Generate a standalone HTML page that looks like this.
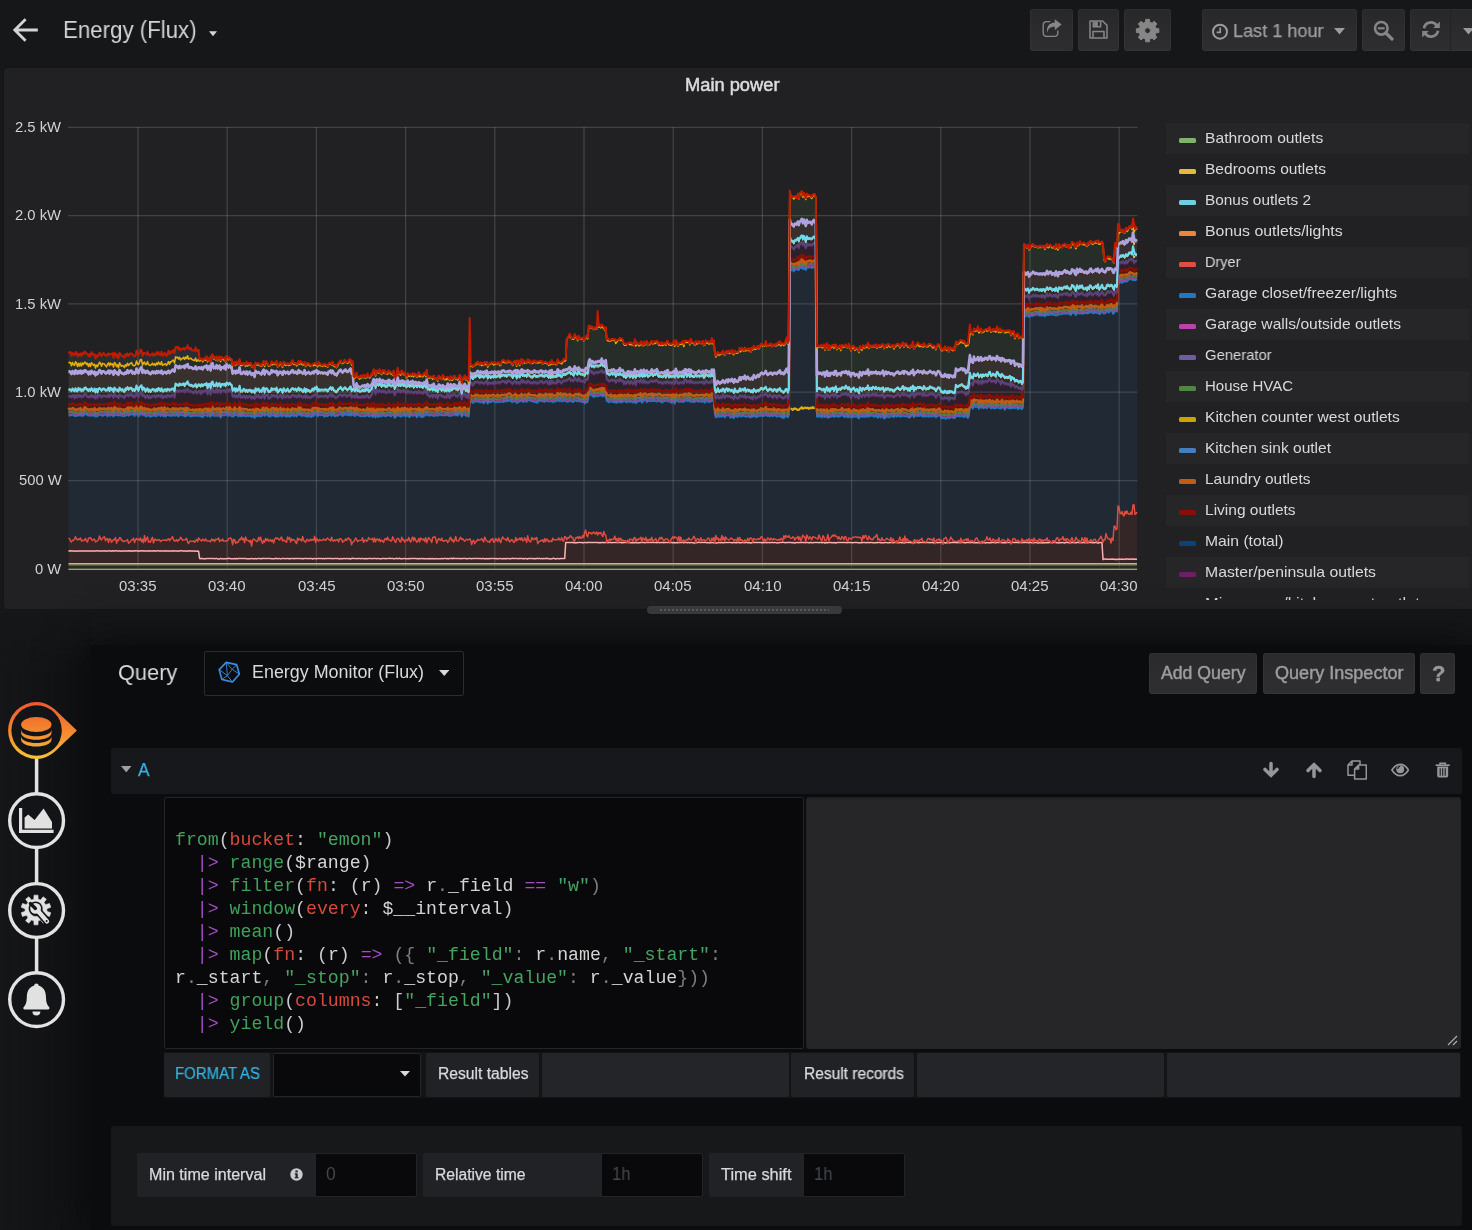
<!DOCTYPE html>
<html><head><meta charset="utf-8"><title>Energy (Flux) - Grafana</title>
<style>
html,body{margin:0;padding:0;background:#161719;}
body{width:1472px;height:1230px;position:relative;overflow:hidden;font-family:"Liberation Sans",sans-serif;}
.r{position:absolute;display:block;}
.t{position:absolute;white-space:nowrap;line-height:1;transform-origin:0 50%;display:block;will-change:transform;}
.m{font-family:"Liberation Mono",monospace;}
.code{position:absolute;white-space:pre;font-family:"Liberation Mono",monospace;font-size:18.2px;line-height:23px;color:#d4d4d4;margin:0;will-change:transform;}
.code .g{color:#3fa25c}.code .s{color:#46a462}.code .k{color:#d8493b}.code .p{color:#a44fc4}.code .d{color:#7b7e82}.code .l{color:#c9cbcd}
</style></head><body>
<svg class="r" style="left:12.00px;top:16.00px;" width="28.00" height="28.00" viewBox="0 0 28 28"><path d="M25.8,14H3.4M13.6,3.2L2.8,14L13.6,24.8" fill="none" stroke="#d3d4d5" stroke-width="2.8" stroke-linecap="butt" stroke-linejoin="miter"/></svg>
<span class="t" style="left:63.20px;top:17.68px;font-size:24.60px;color:#d3d4d5;transform:scaleX(0.9049);">Energy (Flux)</span>
<svg class="r" style="left:208.50px;top:30.80px;" width="8.00" height="6.00" viewBox="0 0 8 6"><path d="M0,0.3H8L4,5.2Z" fill="#d3d4d5"/></svg>
<div class="r" style="left:1030.0px;top:9.0px;width:43.0px;height:42.0px;background:#2a2a2d;background:linear-gradient(180deg,#28282b,#2e2e31);border-radius:3px;box-shadow:inset 0 0 0 1px rgba(255,255,255,.03);"></div>
<div class="r" style="left:1078.0px;top:9.0px;width:41.0px;height:42.0px;background:#2a2a2d;background:linear-gradient(180deg,#28282b,#2e2e31);border-radius:3px;box-shadow:inset 0 0 0 1px rgba(255,255,255,.03);"></div>
<div class="r" style="left:1124.0px;top:9.0px;width:47.0px;height:42.0px;background:#2a2a2d;background:linear-gradient(180deg,#28282b,#2e2e31);border-radius:3px;box-shadow:inset 0 0 0 1px rgba(255,255,255,.03);"></div>
<div class="r" style="left:1202.0px;top:9.0px;width:155.0px;height:42.0px;background:#2a2a2d;background:linear-gradient(180deg,#28282b,#2e2e31);border-radius:3px;box-shadow:inset 0 0 0 1px rgba(255,255,255,.03);"></div>
<div class="r" style="left:1362.0px;top:9.0px;width:43.0px;height:42.0px;background:#2a2a2d;background:linear-gradient(180deg,#28282b,#2e2e31);border-radius:3px;box-shadow:inset 0 0 0 1px rgba(255,255,255,.03);"></div>
<div class="r" style="left:1410.0px;top:9.0px;width:70.0px;height:42.0px;background:#2a2a2d;background:linear-gradient(180deg,#28282b,#2e2e31);border-radius:3px;box-shadow:inset 0 0 0 1px rgba(255,255,255,.03);"></div>
<div class="r" style="left:1450.0px;top:9.0px;width:1.0px;height:42.0px;background:#232326;"></div>
<svg class="r" style="left:1041.50px;top:18.50px;" width="20.00" height="19.00" viewBox="0 0 20 19"><path d="M8.2,2.6H4.6A3.4,3.4 0 0 0 1.2,6V14A3.4,3.4 0 0 0 4.6,17.4H12.4A3.4,3.4 0 0 0 15.8,14V11.6" fill="none" stroke="#868686" stroke-width="1.35"/><path d="M12.8,0.2L19.6,5.6L12.8,11V7.7C8.6,7.7 6.2,9.2 5.2,13.6C4.2,8 7,3.6 12.8,3.4Z" fill="#868686"/></svg>
<svg class="r" style="left:1089.00px;top:20.30px;" width="19.00" height="19.00" viewBox="0 0 19 19"><path d="M1,1H13.6L18,5.4V18H1Z" fill="none" stroke="#868686" stroke-width="1.5" stroke-linejoin="round"/><path d="M4.3,1.3V6.8H11.6V1.3M4,17.7V11.6H15V17.7" fill="none" stroke="#868686" stroke-width="1.5"/><rect x="5.2" y="1.6" width="3.6" height="4.6" fill="#868686"/></svg>
<svg class="r" style="left:1134.00px;top:17.00px;" width="27.00" height="27.00" viewBox="0 0 27 27"><path d="M22.04,11.50L24.85,11.73L24.85,15.47L22.04,15.70L21.05,18.09L22.88,20.23L20.23,22.88L18.09,21.05L15.70,22.04L15.47,24.85L11.73,24.85L11.50,22.04L9.11,21.05L6.97,22.88L4.32,20.23L6.15,18.09L5.16,15.70L2.35,15.47L2.35,11.73L5.16,11.50L6.15,9.11L4.32,6.97L6.97,4.32L9.11,6.15L11.50,5.16L11.73,2.35L15.47,2.35L15.70,5.16L18.09,6.15L20.23,4.32L22.88,6.97L21.05,9.11ZM10.70,13.60a2.90,2.90 0 1 0 5.80,0a2.90,2.90 0 1 0 -5.80,0Z" fill="#868686" fill-rule="evenodd" stroke="#868686" stroke-width="1" stroke-linejoin="round"/></svg>
<svg class="r" style="left:1211.00px;top:22.70px;" width="18.00" height="18.00" viewBox="0 0 18 18"><circle cx="9" cy="8.7" r="7" fill="none" stroke="#9b9b9b" stroke-width="2"/><path d="M9.2,4.6V9.4H5.6" fill="none" stroke="#9b9b9b" stroke-width="1.7"/></svg>
<span class="t" style="left:1232.60px;top:22.33px;font-size:18.75px;color:#9e9e9e;-webkit-text-stroke:0.25px #9e9e9e;transform:scaleX(0.9647);">Last 1 hour</span>
<svg class="r" style="left:1333.60px;top:28.40px;" width="11.00" height="6.40" viewBox="0 0 11 6.4"><path d="M0,0H11L5.5,6.4Z" fill="#9b9b9b"/></svg>
<svg class="r" style="left:1373.00px;top:20.00px;" width="21.00" height="21.00" viewBox="0 0 21 21"><circle cx="8.3" cy="8.3" r="6.3" fill="none" stroke="#868686" stroke-width="2.6"/><path d="M12.8,12.8L19,19" stroke="#868686" stroke-width="3.2" stroke-linecap="round"/><path d="M4.9,8.3H11.7" stroke="#868686" stroke-width="2.2"/></svg>
<svg class="r" style="left:1421.00px;top:20.00px;" width="20.00" height="19.00" viewBox="0 0 20 19"><path d="M3,8.2A7,7 0 0 1 15.6,5.4" fill="none" stroke="#868686" stroke-width="2.8"/><path d="M18.8,1.4V8H12.2Z" fill="#868686"/><path d="M17,10.8A7,7 0 0 1 4.4,13.6" fill="none" stroke="#868686" stroke-width="2.8"/><path d="M1.2,17.6V11H7.8Z" fill="#868686"/></svg>
<svg class="r" style="left:1463.20px;top:28.40px;" width="11.00" height="6.40" viewBox="0 0 11 6.4"><path d="M0,0H11L5.5,6.4Z" fill="#9b9b9b"/></svg>
<div class="r" style="left:3.3px;top:67.0px;width:1470.0px;height:542.6px;background:#141517;border-radius:4px 0 0 4px;"></div>
<div class="r" style="left:4.3px;top:68.0px;width:1470.0px;height:540.6px;background:#212124;border-radius:3px 0 0 3px;"></div>
<span class="t" style="left:684.80px;top:76.90px;font-size:17.60px;color:#dcdcdd;-webkit-text-stroke:0.5px #dcdcdd;transform:scaleX(1.0388);">Main power</span>
<svg class="r" style="left:0.00px;top:100.00px;" width="1160.00" height="480.00" viewBox="0 100 1160 480"><path d="M68,127.3H1137.5" stroke="#c8c8c8" stroke-opacity=".2" stroke-width="1.25"/><path d="M68,215.6H1137.5" stroke="#c8c8c8" stroke-opacity=".2" stroke-width="1.25"/><path d="M68,303.9H1137.5" stroke="#c8c8c8" stroke-opacity=".2" stroke-width="1.25"/><path d="M68,392.2H1137.5" stroke="#c8c8c8" stroke-opacity=".2" stroke-width="1.25"/><path d="M68,480.5H1137.5" stroke="#c8c8c8" stroke-opacity=".2" stroke-width="1.25"/><path d="M68,568.8H1137.5" stroke="#c8c8c8" stroke-opacity=".2" stroke-width="1.25"/><path d="M138.0,127V569" stroke="#c8c8c8" stroke-opacity=".2" stroke-width="1.25"/><path d="M227.2,127V569" stroke="#c8c8c8" stroke-opacity=".2" stroke-width="1.25"/><path d="M316.4,127V569" stroke="#c8c8c8" stroke-opacity=".2" stroke-width="1.25"/><path d="M405.6,127V569" stroke="#c8c8c8" stroke-opacity=".2" stroke-width="1.25"/><path d="M494.8,127V569" stroke="#c8c8c8" stroke-opacity=".2" stroke-width="1.25"/><path d="M584.0,127V569" stroke="#c8c8c8" stroke-opacity=".2" stroke-width="1.25"/><path d="M673.2,127V569" stroke="#c8c8c8" stroke-opacity=".2" stroke-width="1.25"/><path d="M762.4,127V569" stroke="#c8c8c8" stroke-opacity=".2" stroke-width="1.25"/><path d="M851.6,127V569" stroke="#c8c8c8" stroke-opacity=".2" stroke-width="1.25"/><path d="M940.8,127V569" stroke="#c8c8c8" stroke-opacity=".2" stroke-width="1.25"/><path d="M1030.0,127V569" stroke="#c8c8c8" stroke-opacity=".2" stroke-width="1.25"/><path d="M1119.2,127V569" stroke="#c8c8c8" stroke-opacity=".2" stroke-width="1.25"/><path d="M68.5,538.3l2,2.8l2-.8l2-1.1l2-.2l2-.1l2-.9l2,2.3l2-.2l2,1.1l2-2.9l2-.7l2,3l2-1.3l2,2.1l2-1.7l2-.9l2-.5l2-1.5l2,2l2,3.8l2-3.3l2,1.7l2-1.2l2,3.4l2-2.5l2-3l2,2.6l2,.7l2-.3l2,2.5l2-1.4l2-1.9l2,2.6l2-4.1l2,.7l2-1.2l2,1.5l2-3.8l2,3.2l2,3.4l2,0l2-4.9l2,2.4l2,.8l2-1l2,2.2l2-1.5l2,.1l2,.5l2-2.1l2,.2l2-2.3l2,4.4l2.1-1.4l2,.4l2-2.8l2,3.3l2-.7l2-1.5l2,5.1l2-2.5l2,.5l2,1l2-2.8l2-1.8l2,2.4l2-1.2l2,1.9l2-.3l2,.5l2,.7l2-1.4l2,1.2l2-2.1l2-1.5l2,2.3l2-1.2l2,2l2-.5l2-1.9l2-.9l2,6.9l2-5l2,2.2l2-.5l2-1.7l2,.1l2,2.9l2-2.7l2,.5l2-.2l2,0l2-.5l2,1.8l2-4.2l2-.3l2,6.4l2-1.3l2-1.5l2,.6l2-1.8l2,.3l2-.3l2-.7l2,.5l2-1.1l2,2.9l2-.7l2,1.9l2-3.1l2,2.7l2-1.7l2,.1l2,3.2l2-3.3l2-.5l2-3.3l2,4.8l2-1.5l2,1.6l2-2.2l2,.5l2-3.3l2,1.9l2,3l2-.9l2,0l2-.4l2-1l2,.5l2,1.6l2-.6l2-.6l2,0l2,2.3l2-3.3l2,3.5l2-1.3l2-.7l2-2.5l2,1.5l2,2.8l2-1.7l2-1.1l2,1.5l2-.4l2-2.6l2,2.7l2,1l2-3.9l2,1.7l2-1.1l2-.1l2,1l2,1.8l2,.8l2-.9l2-1.6l2,.8l2-.1l2.1,1.1l2-4.2l2,4.1l2-1.7l2-.5l2,3.4l2-2.1l2,2.2l2-2.4l2-2.4l2,4.8l2-5.2l2,.8l2,4.4l2-3.7l2-.5l2,1.9l2,1.6l2,1.2l2-5.1l2,2.4l2-2.5l2-1l2,6.7l2-4.7l2,1.9l2,.6l2,0l2-.8l2,1.2l2-4.2l2,2.4l2,1l2,.3l2,.1l2-3.7l2,1.4l2,2.6l2-2l2,.6l2,.6l2,.8l2,2.3l2-2.4l2-1l2-.4l2,.5l2-3.2l2,3.6l2,.7l2-1.9l2-1l2,3.2l2-1.9l2-1.7l2,4.7l2-5.9l2,2l2,1.9l2-1.2l2,1.1l2-.2l2,1.3l2-1l2-1.1l2,.2l2,.8l2-2.9l2,4.6l2-2.2l2,1.7l2-2.5l2-1.3l2-.7l2,4.2l2-1.2l2-.6l2-1.2l2,.5l2,2.8l2-1l2-2.7l2,1.4l2,.1l2-1.9l2,2.3l2,.7l2-4.2l2,3.1l2-1.4l2-2.6l2,1.6l2,3.8l2-3l2,.6l2-.7l2-2.4l2-3.4l2,3.3l2-3.2l2,.5l2,0l2,.7l2-1.6l2,.7l2,0l2.1,3.9l2-1.8l2,7.8l2-1.6l2-.3l2-1.3l2-3.2l2,2.4l2-.5l2,.2l2,1.9l2,.6l2,2.1l2,.3l2-3.7l2,1.8l2-3.8l2,1.7l2-.3l2-1.6l2,.6l2,2.5l2,1.5l2-1.3l2-.3l2,1.4l2-1.9l2,1.7l2-1.7l2-.6l2,.2l2,.4l2-.6l2,2.2l2-1.6l2-3l2,0l2,1.2l2-1.5l2,.7l2,4.8l2-.1l2-2.4l2-1.5l2,2l2-1.5l2-.8l2,1.7l2,.5l2-2l2,2.3l2,.6l2-.9l2-1.7l2,3.5l2-1.3l2,3.2l2-4.3l2,1.5l2-.2l2-.4l2,.9l2-2.2l2,1.2l2-1.9l2,1.4l2,0l2,1.7l2-.1l2-.7l2,.4l2-1l2,1.2l2,0l2-3l2,4.1l2-3l2,.4l2-.1l2-2l2,2l2-.6l2,1.3l2-1.2l2-.8l2,2l2-.7l2,.6l2-.8l2-.8l2,2.3l2-2.1l2-2l2-1l2,2.8l2-1.6l2,3.4l2-1.9l2,1.5l2,1.2l2-5.9l2,1.9l2-2.1l2,4.3l2-1.5l2-1l2,.6l2.1,1.1l2-3.4l2,4.4l2-3.7l2,5l2-1.8l2,2.2l2-3.4l2-2.8l2-.1l2,1.7l2,.2l2,2.9l2-2.3l2-.6l2,4.2l2-3l2,1.2l2-1.9l2-.1l2,.4l2,.2l2,.1l2-2.3l2,.2l2,3l2-2.6l2,3.5l2,.2l2-2.4l2-3l2,4.3l2,2.1l2-.4l2-.3l2-2l2,1.7l2-2.2l2,1.2l2,2.6l2-.7l2-.7l2,.6l2-2.2l2-2.4l2,2.8l2,2.5l2,.3l2,2.2l2-4.2l2,.6l2,1.6l2-2.3l2,2.4l2-.1l2-1.3l2-2l2,.6l2,1.8l2,2.8l2-4.1l2-.8l2,1l2,4.5l2-5.9l2,.9l2,1.7l2-3.9l2,3l2,1l2,.3l2-1.1l2-2.1l2,2.7l2-.7l2,.8l2,.1l2-.7l2,.9l2-1.2l2-2.2l2,4.1l2,1.7l2-2.5l2-.9l2-3.6l2,3.5l2,.9l2-2.1l2,3.2l2-2.3l2-2.2l2,4.6l2-2.7l2,1.6l2,1.1l2-2l2,3.8l2-5.1l2-.1l2,2l2,.1l2,1.2l2-.5l2-.4l2-1.9l2-.6l2.1,1.3l2,3.4l2-3.1l2,.1l2-1.3l2,2.8l2-.4l2-1.6l2-2.2l2,2.5l2,2.2l2-2.1l2,2.2l2-4.9l2,4l2-2.2l2-2.9l2,2.3l2-.4l2,2l2-.9l2,1l2-.4l2-.9l2,.8l2,1.9l2-2.3l2-2.2l2,.6l2,3.2l2-1.9l2,1.7l2-1.9l2,2.6l2-2.5l2-3.1l2,6l2-2.3l2-2.8l2,2l2,4l2-2.7l2-14.3l2,2.9l2-22.1l2,7l2,.9l2-3.6l2-.2l2,3l2-2.1l2-7l2,9.5l2-2.3L1137.0,563.5 L68.5,563.5 Z" fill="#E24D42" fill-opacity="0.1"/>
<path d="M68.5,415.3l2,0l2-.6l2,1.5l2,0l2-.6l2-1.5l2,1.6l2-1.7l2,.8l2,.9l2,.3l2-.1l2-1l2,1l2-1l2,.3l2,.7l2-1l2,.1l2-.3l2,1l2-.1l2-1.6l2,1.4l2,.4l2-1.6l2,1.6l2,.5l2-1l2,.5l2-.8l2-.5l2,1.7l2-2.2l2,2.4l2-2.7l2,1.8l2-1l2,1.9l2-.8l2,1.2l2-.9l2-1.9l2,2.1l2-2.2l2,2.2l2-.7l2-1.1l2,1.2l2-.1l2,0l2-.7l2,1.4l2.1-1.5l2,1.9l2-2.1l2,.9l2,1.2l2-.1l2-1.6l2,1.7l2-.6l2-.1l2-.3l2,.6l2,.2l2,1.1l2-2.2l2,.4l2-.4l2,1.7l2-2.2l2,1.3l2-.7l2,.5l2,1.8l2-2.5l2,.2l2-2l2,2.9l2-.9l2,.8l2-2l2,1l2,1.3l2,.1l2-.2l2-.5l2-.2l2,.7l2-.6l2,.9l2,1.5l2-1.5l2-.7l2,.2l2-1.5l2,1.5l2-1.3l2,1.8l2,.1l2-1.1l2,.7l2-1.5l2,1.6l2-2.4l2,1.6l2,.4l2,.9l2-.4l2,.1l2-1.8l2,.8l2,1l2-3l2,.4l2,1.9l2-.2l2,.2l2-.2l2,1.1l2-1.9l2-.9l2,0l2,.6l2,.6l2-.2l2,1.9l2-1l2-.6l2-.3l2-1l2,2.3l2-.8l2,.1l2-1.4l2,2l2-1.4l2-.6l2,.2l2-.8l2,1.3l2,1.3l2-2.4l2,2l2,.4l2-.1l2,.5l2-.8l2,.4l2-.9l2,1.9l2-1.2l2-1.1l2,2.3l2-1.1l2-1.1l2,1l2-.1l2-.8l2.1,1.5l2-1.5l2,2.9l2-1.9l2-.1l2,.8l2-1.3l2-1.4l2,1.8l2,.9l2-2.3l2,1.5l2-.7l2,2.1l2-2.8l2,2.3l2,.2l2-2.3l2-1l2,1.7l2-.7l2,1l2,.2l2-.8l2,.1l2-.5l2,.5l2,.1l2,0l2,.3l2,0l2,0l2-1.9l2,.8l2-.2l2,.1l2,.5l2-.3l2,1.1l2,1l2-15.1l2,1.3l2-.6l2-1l2-.2l2,.9l2-.8l2,1.1l2-.8l2-.4l2,1.1l2-1.7l2,1.2l2,.3l2,.1l2-.4l2-.4l2-.6l2,.8l2-.4l2-.2l2,1.1l2-.6l2,1.6l2-.7l2-1.1l2,.7l2-2l2,2.1l2-2l2,1.1l2,.5l2,.4l2,.7l2-2.1l2,.2l2,.7l2,.5l2-1.4l2,.8l2,.1l2,.6l2-.6l2-.2l2-.6l2-.6l2,1.3l2-.4l2,.7l2-.3l2-.2l2,.9l2-1.3l2,.4l2-.5l2,.5l2,.9l2,1.5l2-1.2l2-6.1l2-1.5l2,1l2-.2l2,.4l2-.1l2-.2l2.1,.7l2-.8l2,5.6l2,1.2l2-1.5l2,1.1l2-1.1l2,1.9l2-1l2,.9l2-.8l2-1l2,1.6l2-1.7l2,.6l2,1.2l2-1.7l2,.3l2-.4l2-1.1l2,2.5l2-2.2l2,2.2l2-1.1l2,.1l2,0l2-.1l2,.5l2-1.2l2,.5l2,1.1l2-1l2-.2l2,.9l2,.2l2-1.1l2,2.9l2-2.7l2,.5l2-.2l2,.2l2-1.8l2,1.4l2-.8l2,.5l2,1.2l2-.2l2-1.5l2,1.5l2-.5l2-.7l2,2.1l2-1.4l2,1l2-.5l2-.8l2,13.7l2,2.4l2-.2l2-.3l2-1.5l2,2.4l2-2l2-.1l2,2.4l2-1.2l2-.6l2,.9l2-1.3l2,1l2-1.4l2,.7l2,.4l2-.2l2,1.3l2-.6l2-.6l2,1.1l2-1.3l2-1.2l2,.7l2-.5l2,.8l2-.4l2,.2l2,.8l2-.9l2,1.3l2-.4l2,.1l2-.8l2,.1l2,.7l2-1.1l2-145.3l2-.2l2-.5l2,.3l2,.4l2-2l2,1l2,0l2-1.1l2-.5l2-.4l2,.4l2-.4l2.1,149.6l2,.2l2-1.5l2,1.1l2,.7l2-2l2,1.6l2-.2l2-1.6l2,1.2l2,.3l2,.3l2-.8l2-.3l2,1.5l2-1.1l2-.1l2,1.5l2-.2l2-.6l2-.1l2,1.9l2-2.4l2-.6l2,1.4l2-.2l2,.1l2-1.1l2,.2l2,.3l2,.6l2-.5l2,1.2l2-2l2,2.8l2-1.7l2,.8l2-1.2l2,.4l2-1l2,1.1l2-.4l2,.5l2-1l2,.6l2,0l2,.9l2-1.8l2-1.5l2,1.3l2,.9l2-.1l2-1.8l2,2.5l2-.2l2-.4l2,.6l2-.2l2,0l2-.6l2,.4l2-1.3l2,2.8l2,0l2,0l2-.2l2,.7l2-1l2,.1l2,.5l2-1.6l2-1.1l2,.5l2,.9l2-1.1l2-.1l2,.3l2-9.5l2,2.5l2-2.2l2,.3l2,1.9l2-3l2,.1l2,.9l2,1.4l2-1.9l2,2.1l2-1.4l2,1.1l2-2.3l2,2.5l2,.2l2-.8l2,2.1l2-2.3l2,.9l2,.3l2-.6l2,.1l2-1.3l2,1.6l2-.1l2-.8l2-91l2-.9l2,1.3l2.1-1.2l2,.1l2-1.1l2,.1l2-.4l2-.4l2,.3l2,1.9l2-1.9l2,.7l2-.7l2-.1l2,1l2,0l2-1.1l2,0l2-.3l2-.2l2-.7l2,1.1l2,1.1l2-2l2,.9l2-3l2,2.6l2,0l2,.2l2-.8l2,.4l2-.4l2-2.2l2,2.1l2-1l2,1l2,.7l2-1.9l2,1.3l2,0l2-1.5l2,1.1l2-2.2l2,3.3l2-2.8l2,.6l2-28l2-2.3l2,0l2,.2l2,0l2-2.2l2,.1l2,.7l2,.2l2-1.3L1137.0,512.1l-2,2.3l-2-9.5l-2,7l-2,2.1l-2-3l-2,.2l-2,3.6l-2-.9l-2-7l-2,22.1l-2-2.9l-2,14.3l-2,2.7l-2-4l-2-2l-2,2.8l-2,2.3l-2-6l-2,3.1l-2,2.5l-2-2.6l-2,1.9l-2-1.7l-2,1.9l-2-3.2l-2-.6l-2,2.2l-2,2.3l-2-1.9l-2-.8l-2,.9l-2,.4l-2-1l-2,.9l-2-2l-2,.4l-2-2.3l-2,2.9l-2,2.2l-2-4l-2,4.9l-2-2.2l-2,2.1l-2-2.2l-2-2.5l-2,2.2l-2,1.6l-2,.4l-2-2.8l-2,1.3l-2-.1l-2,3.1l-2-3.4l-2.1-1.3l-2,.6l-2,1.9l-2,.4l-2,.5l-2-1.2l-2-.1l-2-2l-2,.1l-2,5.1l-2-3.8l-2,2l-2-1.1l-2-1.6l-2,2.7l-2-4.6l-2,2.2l-2,2.3l-2-3.2l-2,2.1l-2-.9l-2-3.5l-2,3.6l-2,.9l-2,2.5l-2-1.7l-2-4.1l-2,2.2l-2,1.2l-2-.9l-2,.7l-2-.1l-2-.8l-2,.7l-2-2.7l-2,2.1l-2,1.1l-2-.3l-2-1l-2-3l-2,3.9l-2-1.7l-2-.9l-2,5.9l-2-4.5l-2-1l-2,.8l-2,4.1l-2-2.8l-2-1.8l-2-.6l-2,2l-2,1.3l-2,.1l-2-2.4l-2,2.3l-2-1.6l-2-.6l-2,4.2l-2-2.2l-2-.3l-2-2.5l-2-2.8l-2,2.4l-2,2.2l-2-.6l-2,.7l-2,.7l-2-2.6l-2-1.2l-2,2.2l-2-1.7l-2,2l-2,.3l-2,.4l-2-2.1l-2-4.3l-2,3l-2,2.4l-2-.2l-2-3.5l-2,2.6l-2-3l-2-.2l-2,2.3l-2-.1l-2-.2l-2-.4l-2,.1l-2,1.9l-2-1.2l-2,3l-2-4.2l-2,.6l-2,2.3l-2-2.9l-2-.2l-2-1.7l-2,.1l-2,2.8l-2,3.4l-2-2.2l-2,1.8l-2-5l-2,3.7l-2-4.4l-2,3.4l-2.1-1.1l-2-.6l-2,1l-2,1.5l-2-4.3l-2,2.1l-2-1.9l-2,5.9l-2-1.2l-2-1.5l-2,1.9l-2-3.4l-2,1.6l-2-2.8l-2,1l-2,2l-2,2.1l-2-2.3l-2,.8l-2,.8l-2-.6l-2,.7l-2-2l-2,.8l-2,1.2l-2-1.3l-2,.6l-2-2l-2,2l-2,.1l-2-.4l-2,3l-2-4.1l-2,3l-2,0l-2-1.2l-2,1l-2-.4l-2,.7l-2,.1l-2-1.7l-2,0l-2-1.4l-2,1.9l-2-1.2l-2,2.2l-2-.9l-2,.4l-2,.2l-2-1.5l-2,4.3l-2-3.2l-2,1.3l-2-3.5l-2,1.7l-2,.9l-2-.6l-2-2.3l-2,2l-2-.5l-2-1.7l-2,.8l-2,1.5l-2-2l-2,1.5l-2,2.4l-2,.1l-2-4.8l-2-.7l-2,1.5l-2-1.2l-2,0l-2,3l-2,1.6l-2-2.2l-2,.6l-2-.4l-2-.2l-2,.6l-2,1.7l-2-1.7l-2,1.9l-2-1.4l-2,.3l-2,1.3l-2-1.5l-2-2.5l-2-.6l-2,1.6l-2,.3l-2-1.7l-2,3.8l-2-1.8l-2,3.7l-2-.3l-2-2.1l-2-.6l-2-1.9l-2-.2l-2,.5l-2-2.4l-2,3.2l-2,1.3l-2,.3l-2,1.6l-2-7.8l-2,1.8l-2.1-3.9l-2,0l-2-.7l-2,1.6l-2-.7l-2,0l-2-.5l-2,3.2l-2-3.3l-2,3.4l-2,2.4l-2,.7l-2-.6l-2,3l-2-3.8l-2-1.6l-2,2.6l-2,1.4l-2-3.1l-2,4.2l-2-.7l-2-2.3l-2,1.9l-2-.1l-2-1.4l-2,2.7l-2,1l-2-2.8l-2-.5l-2,1.2l-2,.6l-2,1.2l-2-4.2l-2,.7l-2,1.3l-2,2.5l-2-1.7l-2,2.2l-2-4.6l-2,2.9l-2-.8l-2-.2l-2,1.1l-2,1l-2-1.3l-2,.2l-2-1.1l-2,1.2l-2-1.9l-2-2l-2,5.9l-2-4.7l-2,1.7l-2,1.9l-2-3.2l-2,1l-2,1.9l-2-.7l-2-3.6l-2,3.2l-2-.5l-2,.4l-2,1l-2,2.4l-2-2.3l-2-.8l-2-.6l-2-.6l-2,2l-2-2.6l-2-1.4l-2,3.7l-2-.1l-2-.3l-2-1l-2-2.4l-2,4.2l-2-1.2l-2,.8l-2,0l-2-.6l-2-1.9l-2,4.7l-2-6.7l-2,1l-2,2.5l-2-2.4l-2,5.1l-2-1.2l-2-1.6l-2-1.9l-2,.5l-2,3.7l-2-4.4l-2-.8l-2,5.2l-2-4.8l-2,2.4l-2,2.4l-2-2.2l-2,2.1l-2-3.4l-2,.5l-2,1.7l-2-4.1l-2,4.2l-2.1-1.1l-2,.1l-2-.8l-2,1.6l-2,.9l-2-.8l-2-1.8l-2-1l-2,.1l-2,1.1l-2-1.7l-2,3.9l-2-1l-2-2.7l-2,2.6l-2,.4l-2-1.5l-2,1.1l-2,1.7l-2-2.8l-2-1.5l-2,2.5l-2,.7l-2,1.3l-2-3.5l-2,3.3l-2-2.3l-2,0l-2,.6l-2,.6l-2-1.6l-2-.5l-2,1l-2,.4l-2,0l-2,.9l-2-3l-2-1.9l-2,3.3l-2-.5l-2,2.2l-2-1.6l-2,1.5l-2-4.8l-2,3.3l-2,.5l-2,3.3l-2-3.2l-2-.1l-2,1.7l-2-2.7l-2,3.1l-2-1.9l-2,.7l-2-2.9l-2,1.1l-2-.5l-2,.7l-2,.3l-2-.3l-2,1.8l-2-.6l-2,1.5l-2,1.3l-2-6.4l-2,.3l-2,4.2l-2-1.8l-2,.5l-2,0l-2,.2l-2-.5l-2,2.7l-2-2.9l-2-.1l-2,1.7l-2,.5l-2-2.2l-2,5l-2-6.9l-2,.9l-2,1.9l-2,.5l-2-2l-2,1.2l-2-2.3l-2,1.5l-2,2.1l-2-1.2l-2,1.4l-2-.7l-2-.5l-2,.3l-2-1.9l-2,1.2l-2-2.4l-2,1.8l-2,2.8l-2-1l-2-.5l-2,2.5l-2-5.1l-2,1.5l-2,.7l-2-3.3l-2,2.8l-2-.4l-2.1,1.4l-2-4.4l-2,2.3l-2-.2l-2,2.1l-2-.5l-2-.1l-2,1.5l-2-2.2l-2,1l-2-.8l-2-2.4l-2,4.9l-2,0l-2-3.4l-2-3.2l-2,3.8l-2-1.5l-2,1.2l-2-.7l-2,4.1l-2-2.6l-2,1.9l-2,1.4l-2-2.5l-2,.3l-2-.7l-2-2.6l-2,3l-2,2.5l-2-3.4l-2,1.2l-2-1.7l-2,3.3l-2-3.8l-2-2l-2,1.5l-2,.5l-2,.9l-2,1.7l-2-2.1l-2,1.3l-2-3l-2,.7l-2,2.9l-2-1.1l-2,.2l-2-2.3l-2,.9l-2,.1l-2,.2l-2,1.1l-2,.8l-2-2.8Z" fill="#1F78C1" fill-opacity="0.1"/>
<path d="M68.5,407.7l2,1.4l2-1.1l2,1.6l2,.8l2-1.7l2-.6l2,1.9l2-3l2,1.7l2,1.2l2-.3l2,.4l2-1.9l2,1.3l2-.1l2-.1l2,.1l2-.9l2,.4l2-.9l2,1.4l2,.1l2-2.8l2,2.3l2,1.2l2-1.3l2,1l2,1l2-2l2,1.1l2-1.4l2-.1l2,2.1l2-3.8l2,3.5l2-3.6l2,2.7l2-1.4l2,1.5l2,.3l2,1l2-1.1l2-1.3l2,.9l2-1.2l2,1.2l2,0l2-2l2,2.3l2-.6l2,.8l2-1.5l2,1.7l2.1-1.4l2,.9l2-1.1l2,.2l2,2.3l2-.9l2-.7l2,.7l2-.3l2,.2l2-.5l2,1l2-.2l2,1l2-2.3l2-.5l2,.2l2,2.4l2-3.6l2,1.8l2-.9l2,.4l2,3.2l2-3.4l2,.6l2-1.8l2,2.4l2-.9l2,1.1l2-2.7l2,2.1l2,.8l2-.1l2-.7l2,.1l2-.4l2,1.3l2-.5l2-.1l2,2.1l2-1.7l2-.8l2,1.1l2-2.5l2,3l2-3l2,2.9l2-.2l2-1.8l2,1.2l2-2l2,1.7l2-2l2,2.5l2-.9l2,1.1l2-.5l2,1.2l2-2.7l2,1.5l2,.6l2-3.1l2,.2l2,2l2-.1l2,.3l2-.2l2,1.1l2-2.6l2-.3l2-.1l2,.5l2,1.2l2-.2l2,.8l2-.5l2-.1l2-1.2l2-.9l2,3.1l2-.3l2-.8l2-1.1l2,1.5l2-1.6l2,.1l2,.1l2-1l2,1.5l2,1.3l2-2.4l2,2.1l2,0l2,.3l2,.5l2-.9l2,.1l2-1.1l2,2.8l2-2.3l2-.6l2,2.1l2-.7l2-1.1l2,.8l2,.1l2-1.5l2.1,1.8l2-.3l2,2.2l2-1.5l2-.5l2,.8l2-2l2-1.1l2,2.2l2,.5l2-2.5l2,1.5l2-.4l2,1.1l2-2l2,2.5l2,.6l2-2.8l2-1.2l2,2l2,.2l2-.3l2,.4l2-1.3l2,.6l2-.8l2,1.2l2-.1l2-.1l2,.6l2-.7l2,.6l2-1.9l2,.8l2,.1l2-.9l2,1.8l2-2l2,1.6l2,1.8l2-16l2,1.9l2-1.2l2,.1l2,0l2,.5l2-.3l2,.2l2-1.1l2,.1l2,.9l2-1.1l2,1.3l2-.3l2,.2l2-.6l2,0l2-.7l2,1.5l2-2.5l2,.7l2,1.8l2-1.3l2,2l2-1.2l2-.8l2,.8l2-1l2,1.5l2-2.6l2,1.5l2,.2l2-.2l2,1.6l2-2.4l2,.2l2,1.6l2-.2l2-1.4l2,.2l2,1.7l2-1.2l2,.5l2-.2l2-1l2-1.1l2,2.3l2-1.4l2,1.5l2-.6l2-.2l2,.7l2-1.1l2-.2l2-.6l2,1.1l2,1.6l2,.7l2-1.4l2-5.7l2-1.9l2,1.8l2-.1l2-.5l2-.1l2,.7l2.1,.3l2-1.3l2,6.2l2,.5l2-1.2l2,1.1l2-.5l2,2.3l2-1.1l2,0l2-.2l2-1.2l2,1.4l2-1l2,0l2,.9l2-1.6l2,.3l2-.3l2-1.2l2,2.8l2-2.3l2,1.7l2-1.2l2,.4l2,.9l2-.9l2,.2l2-1.1l2,.7l2,1.3l2-.9l2,.4l2,.4l2-1.1l2-.2l2,2.6l2-1.9l2,1.1l2-1.5l2-.1l2-.9l2,1.2l2-1.7l2,.9l2,1.2l2,.5l2-1l2,.8l2-.7l2-.1l2,1l2-1l2,1.1l2-.3l2-.7l2,13.7l2,2.2l2,0l2-.5l2-1.9l2,2.6l2-2l2-.1l2,2.3l2-.7l2-1.2l2,1.3l2-1.1l2,.2l2-.2l2-.8l2,1.2l2-.2l2,1.8l2-.3l2-.6l2,.8l2-1.5l2-1.7l2,1.6l2-.7l2,.4l2-.2l2-.1l2,.8l2-.2l2,1.2l2-1.3l2,.7l2-.8l2,.2l2,0l2-.9l2-145.6l2,.6l2-.2l2-.4l2,1.2l2-2.8l2,1.1l2-.4l2-1.4l2-.1l2,0l2,0l2-.7l2.1,151.1l2-1.1l2-.9l2,.8l2,1.5l2-2.4l2,1.6l2-1.4l2-.4l2,.3l2,1.2l2-.4l2,.2l2-1.2l2,1.4l2-1l2-.5l2,2.7l2-.5l2-1.4l2,.5l2,2.2l2-2.1l2-1.2l2,1.8l2-.1l2-.1l2-1.2l2-.5l2,1.4l2,.4l2-1l2,1l2-1.9l2,2.7l2-1.4l2,.7l2-1.2l2,1.2l2-1.1l2-.5l2,1.6l2,.5l2-2.6l2,.7l2,.6l2,.5l2-1.4l2-1.7l2,1.3l2,.9l2-.9l2-.5l2,2l2-.1l2-.6l2,1.1l2-1.4l2,.9l2-.9l2,.6l2-1.6l2,3.2l2,.4l2-1.4l2,.9l2,1l2-.9l2,.4l2-.3l2-1.4l2-.9l2-.4l2,1.3l2-1l2,0l2,.6l2-9.6l2,1.9l2-1.5l2-.4l2,2.4l2-3.2l2,1.1l2,.3l2,1.2l2-2.1l2,2.9l2-2.2l2,1l2-2.1l2,2.3l2,.6l2-1.1l2,1.9l2-2.1l2,1.6l2,.4l2-2l2,1.2l2-1.7l2,1.5l2,.4l2-1l2-91.8l2-.6l2,1.3l2.1-.6l2-.3l2-.9l2,.2l2-.8l2-.3l2,.6l2,2.4l2-3.4l2,.9l2-.2l2,.7l2,0l2-.1l2-1.1l2,.4l2,0l2-1.1l2,.2l2,1.3l2-.2l2-1.2l2,1.2l2-2.5l2,1l2,.8l2,.4l2-.6l2-.2l2-.2l2-1.8l2,1.1l2-.4l2,.8l2,1.2l2-2.5l2,2l2,.2l2-2.3l2,1.7l2-2.9l2,3l2-2.3l2,.1l2-27.4l2-2.6l2-.1l2,.7l2,.1l2-2.3l2-.2l2,.2l2,1.2l2-2.1L1137.0,279.1l-2,1.3l-2-.2l-2-.7l-2-.1l-2,2.2l-2,0l-2-.2l-2,0l-2,2.3l-2,28l-2-.6l-2,2.8l-2-3.3l-2,2.2l-2-1.1l-2,1.5l-2,0l-2-1.3l-2,1.9l-2-.7l-2-1l-2,1l-2-2.1l-2,2.2l-2,.4l-2-.4l-2,.8l-2-.2l-2,0l-2-2.6l-2,3l-2-.9l-2,2l-2-1.1l-2-1.1l-2,.7l-2,.2l-2,.3l-2,0l-2,1.1l-2,0l-2-1l-2,.1l-2,.7l-2-.7l-2,1.9l-2-1.9l-2-.3l-2,.4l-2,.4l-2-.1l-2,1.1l-2-.1l-2.1,1.2l-2-1.3l-2,.9l-2,91l-2,.8l-2,.1l-2-1.6l-2,1.3l-2-.1l-2,.6l-2-.3l-2-.9l-2,2.3l-2-2.1l-2,.8l-2-.2l-2-2.5l-2,2.3l-2-1.1l-2,1.4l-2-2.1l-2,1.9l-2-1.4l-2-.9l-2-.1l-2,3l-2-1.9l-2-.3l-2,2.2l-2-2.5l-2,9.5l-2-.3l-2,.1l-2,1.1l-2-.9l-2-.5l-2,1.1l-2,1.6l-2-.5l-2-.1l-2,1l-2-.7l-2,.2l-2,0l-2,0l-2-2.8l-2,1.3l-2-.4l-2,.6l-2,0l-2,.2l-2-.6l-2,.4l-2,.2l-2-2.5l-2,1.8l-2,.1l-2-.9l-2-1.3l-2,1.5l-2,1.8l-2-.9l-2,0l-2-.6l-2,1l-2-.5l-2,.4l-2-1.1l-2,1l-2-.4l-2,1.2l-2-.8l-2,1.7l-2-2.8l-2,2l-2-1.2l-2,.5l-2-.6l-2-.3l-2-.2l-2,1.1l-2-.1l-2,.2l-2-1.4l-2,.6l-2,2.4l-2-1.9l-2,.1l-2,.6l-2,.2l-2-1.5l-2,.1l-2,1.1l-2-1.5l-2,.3l-2,.8l-2-.3l-2-.3l-2-1.2l-2,1.6l-2,.2l-2-1.6l-2,2l-2-.7l-2-1.1l-2,1.5l-2-.2l-2.1-149.6l-2,.4l-2-.4l-2,.4l-2,.5l-2,1.1l-2,0l-2-1l-2,2l-2-.4l-2-.3l-2,.5l-2,.2l-2,145.3l-2,1.1l-2-.7l-2-.1l-2,.8l-2-.1l-2,.4l-2-1.3l-2,.9l-2-.8l-2-.2l-2,.4l-2-.8l-2,.5l-2-.7l-2,1.2l-2,1.3l-2-1.1l-2,.6l-2,.6l-2-1.3l-2,.2l-2-.4l-2-.7l-2,1.4l-2-1l-2,1.3l-2-.9l-2,.6l-2,1.2l-2-2.4l-2,.1l-2,2l-2-2.4l-2,1.5l-2,.3l-2,.2l-2-2.4l-2-13.7l-2,.8l-2,.5l-2-1l-2,1.4l-2-2.1l-2,.7l-2,.5l-2-1.5l-2,1.5l-2,.2l-2-1.2l-2-.5l-2,.8l-2-1.4l-2,1.8l-2-.2l-2,.2l-2-.5l-2,2.7l-2-2.9l-2,1.1l-2-.2l-2-.9l-2,.2l-2,1l-2-1.1l-2-.5l-2,1.2l-2-.5l-2,.1l-2,0l-2-.1l-2,1.1l-2-2.2l-2,2.2l-2-2.5l-2,1.1l-2,.4l-2-.3l-2,1.7l-2-1.2l-2-.6l-2,1.7l-2-1.6l-2,1l-2,.8l-2-.9l-2,1l-2-1.9l-2,1.1l-2-1.1l-2,1.5l-2-1.2l-2-5.6l-2,.8l-2.1-.7l-2,.2l-2,.1l-2-.4l-2,.2l-2-1l-2,1.5l-2,6.1l-2,1.2l-2-1.5l-2-.9l-2-.5l-2,.5l-2-.4l-2,1.3l-2-.9l-2,.2l-2,.3l-2-.7l-2,.4l-2-1.3l-2,.6l-2,.6l-2,.2l-2,.6l-2-.6l-2-.1l-2-.8l-2,1.4l-2-.5l-2-.7l-2-.2l-2,2.1l-2-.7l-2-.4l-2-.5l-2-1.1l-2,2l-2-2.1l-2,2l-2-.7l-2,1.1l-2,.7l-2-1.6l-2,.6l-2-1.1l-2,.2l-2,.4l-2-.8l-2,.6l-2,.4l-2,.4l-2-.1l-2-.3l-2-1.2l-2,1.7l-2-1.1l-2,.4l-2,.8l-2-1.1l-2,.8l-2-.9l-2,.2l-2,1l-2,.6l-2-1.3l-2,15.1l-2-1l-2-1.1l-2,.3l-2-.5l-2-.1l-2,.2l-2-.8l-2,1.9l-2,0l-2,0l-2-.3l-2,0l-2-.1l-2-.5l-2,.5l-2-.1l-2,.8l-2-.2l-2-1l-2,.7l-2-1.7l-2,1l-2,2.3l-2-.2l-2-2.3l-2,2.8l-2-2.1l-2,.7l-2-1.5l-2,2.3l-2-.9l-2-1.8l-2,1.4l-2,1.3l-2-.8l-2,.1l-2,1.9l-2-2.9l-2,1.5l-2.1-1.5l-2,.8l-2,.1l-2-1l-2,1.1l-2,1.1l-2-2.3l-2,1.1l-2,1.2l-2-1.9l-2,.9l-2-.4l-2,.8l-2-.5l-2,.1l-2-.4l-2-2l-2,2.4l-2-1.3l-2-1.3l-2,.8l-2-.2l-2,.6l-2,1.4l-2-2l-2,1.4l-2-.1l-2,.8l-2-2.3l-2,1l-2,.3l-2,.6l-2,1l-2-1.9l-2,.2l-2-.6l-2-.6l-2,0l-2,.9l-2,1.9l-2-1.1l-2,.2l-2-.2l-2,.2l-2-1.9l-2-.4l-2,3l-2-1l-2-.8l-2,1.8l-2-.1l-2,.4l-2-.9l-2-.4l-2-1.6l-2,2.4l-2-1.6l-2,1.5l-2-.7l-2,1.1l-2-.1l-2-1.8l-2,1.3l-2-1.5l-2,1.5l-2-.2l-2,.7l-2,1.5l-2-1.5l-2-.9l-2,.6l-2-.7l-2,.2l-2,.5l-2,.2l-2-.1l-2-1.3l-2-1l-2,2l-2-.8l-2,.9l-2-2.9l-2,2l-2-.2l-2,2.5l-2-1.8l-2-.5l-2,.7l-2-1.3l-2,2.2l-2-1.7l-2,.4l-2-.4l-2,2.2l-2-1.1l-2-.2l-2-.6l-2,.3l-2,.1l-2,.6l-2-1.7l-2,1.6l-2,.1l-2-1.2l-2-.9l-2,2.1l-2-1.9l-2.1,1.5l-2-1.4l-2,.7l-2,0l-2,.1l-2-1.2l-2,1.1l-2,.7l-2-2.2l-2,2.2l-2-2.1l-2,1.9l-2,.9l-2-1.2l-2,.8l-2-1.9l-2,1l-2-1.8l-2,2.7l-2-2.4l-2,2.2l-2-1.7l-2,.5l-2,.8l-2-.5l-2,1l-2-.5l-2-1.6l-2,1.6l-2-.4l-2-1.4l-2,1.6l-2,.1l-2-1l-2,.3l-2-.1l-2,1l-2-.7l-2-.3l-2,1l-2-1l-2,1l-2,.1l-2-.3l-2-.9l-2-.8l-2,1.7l-2-1.6l-2,1.5l-2,.6l-2,0l-2-1.5l-2,.6l-2,0Z" fill="#C15C17" fill-opacity="0.25"/>
<path d="M68.5,403.4l2,1l2-1.1l2,1.5l2,.7l2-1.7l2-.2l2,1.9l2-3.2l2,1.6l2,1.8l2-.8l2,.2l2-1l2,.2l2,0l2,.6l2-.4l2-.3l2,.2l2-1.2l2,.6l2,1.1l2-3.6l2,2.7l2,2.3l2-2.2l2,1.4l2,.6l2-2.1l2,.7l2-.6l2,.8l2,.8l2-3.6l2,3.4l2-3.5l2,3.1l2-1.2l2,0l2,1.5l2,.9l2-1.4l2-.6l2-.3l2-.5l2,1.2l2,.4l2-2.2l2,2.5l2-1.2l2,.7l2-1.6l2,2.4l2.1-1.5l2,1.3l2-1.1l2,.2l2,1l2-.7l2-.3l2,.5l2-.4l2,1.1l2-.2l2,.2l2,.6l2-.2l2-1.9l2-.7l2-.1l2,3.6l2-4.4l2,1.3l2-1.4l2,1.5l2,2.5l2-3l2,.5l2-2.2l2,3.2l2-.8l2,1.1l2-2.6l2,2.3l2,0l2,.1l2,.1l2-1l2,.1l2,1.4l2-.8l2-.4l2,2.7l2-1.5l2-1.9l2,1.4l2-2.2l2,3l2-2.7l2,3.4l2-.4l2-1.4l2-.2l2-1l2,.8l2-1.8l2,3.5l2-1.8l2,1.2l2,.1l2,.4l2-2.2l2,.8l2,1l2-3.2l2,.3l2,2.6l2-1.2l2,.7l2,.2l2,.6l2-2.1l2-1l2-.1l2,1l2,.8l2,.1l2,.9l2-.6l2,.2l2-1.9l2-.2l2,2.9l2-.5l2-1.1l2-1l2,2.3l2-1.8l2,.2l2-.5l2-.9l2,2.1l2,1.3l2-3.7l2,3.1l2-.2l2-.2l2,.1l2-.6l2,.8l2-1.3l2,3.1l2-2.8l2,.3l2,1.5l2-.5l2-1.6l2,.9l2,.8l2-2.6l2.1,2.3l2,.2l2,1.8l2-1.4l2-.5l2,0l2-1.1l2-.9l2,1.8l2,.4l2-1.8l2,1l2,0l2,.5l2-2.1l2,2.3l2,.8l2-2.7l2-1.9l2,2.2l2,.9l2,.6l2-.8l2-.5l2,0l2-.8l2,1.4l2,.4l2-.7l2,.3l2-.4l2,.8l2-2.3l2,.4l2,.6l2-.8l2,1l2-2.2l2,1.7l2,3.1l2-16.5l2,2.2l2-1.9l2,.2l2-.1l2-.1l2,.6l2,.3l2-1.5l2,1l2,.4l2-.8l2,.9l2-.4l2,.5l2-.7l2-.5l2,.3l2,1.2l2-2.6l2,.7l2,1.7l2-1.6l2,2.2l2-.4l2-1.8l2,1.4l2-1.4l2,1.6l2-1.9l2,.8l2,1.2l2-1.1l2,.9l2-2.2l2,.3l2,2l2-.7l2-1.4l2,1.5l2,1.2l2-1.5l2,.9l2-.4l2-1.2l2-.4l2,1.1l2-1.5l2,1.8l2-1.2l2,1.4l2,.8l2-2.6l2,.9l2-1.5l2,2.2l2,.8l2,.9l2-1.8l2-4.9l2-2.4l2,1.7l2,.8l2-1l2-.5l2,.1l2.1,1.2l2-1.5l2,6l2,.6l2-.5l2,.3l2-.6l2,2.3l2-.6l2-.2l2-.2l2-1.8l2,2l2-1.2l2-.6l2,1.6l2-1.9l2,.4l2,.1l2-1l2,2.3l2-1.6l2,1.2l2-.9l2-.4l2,1.2l2-1l2,.1l2-.3l2,.7l2,.7l2-.3l2-.7l2,1.5l2-1.3l2-.4l2,3.1l2-2.2l2,1.2l2-1l2-1.2l2-.2l2,1.7l2-2.1l2-.5l2,1.7l2,1l2-.5l2,.2l2-1l2,.4l2,1.5l2-1.8l2,1.6l2-1l2,.2l2,12.6l2,3l2-.2l2-.9l2-2.1l2,3.1l2-2.1l2-.3l2,2.4l2-.7l2-1.6l2,1.9l2-1.6l2,.9l2-.3l2-1.4l2,1.9l2-.6l2,2.3l2-.3l2-1.3l2,1.3l2-1.7l2-1.2l2,.7l2-.3l2,0l2,.7l2-1l2,1.5l2-.3l2,1.1l2-1.1l2,.6l2,0l2-.7l2-.4l2-1l2-145l2,.6l2,.5l2-1.4l2,.9l2-3l2,1.2l2,.2l2-.8l2-.5l2,.1l2,.1l2-.9l2.1,151.4l2-1.9l2-.6l2,1.2l2,1.5l2-3.1l2,1.8l2-1.6l2-.5l2,.5l2,2.5l2-1.2l2,.1l2-1.5l2,1.5l2-1.4l2-.7l2,3.9l2-1.5l2-.6l2,0l2,2.9l2-2.5l2-1.5l2,2.4l2-.9l2,.7l2-1.4l2-.9l2,1.4l2,.1l2-.2l2,.5l2-1.7l2,3.4l2-1.8l2-.2l2-.4l2,.9l2-1.1l2-.4l2,1.3l2,.5l2-2.8l2,1.2l2,.9l2-.8l2-.6l2-1.3l2,1.2l2,.6l2-.9l2-.3l2,3.2l2-1.4l2,.1l2,.2l2-1.8l2,1.5l2-.7l2,.8l2-2.1l2,3.1l2,.5l2-1.6l2,1.7l2,.3l2-.6l2,.1l2-.1l2-1.5l2-.4l2-.5l2,1.1l2,.3l2-1.4l2,.6l2-9.3l2,1.9l2-1.7l2,0l2,1.9l2-3.2l2,1l2,1l2,.5l2-2.5l2,2.8l2-1.2l2,.6l2-2l2,2.5l2,.7l2-1.5l2,1.9l2-2l2,1.9l2,.5l2-2.6l2,1.4l2-1.9l2,2.2l2-.5l2-.4l2-92.2l2-.4l2,1.2l2.1-1.1l2-.7l2,.8l2-.4l2-1.2l2,.6l2,0l2,2.4l2-4l2,1.7l2,0l2,.4l2,.1l2-.2l2-1.7l2-.1l2,.7l2-.9l2-.5l2,2.3l2,0l2-2.4l2,1.9l2-2.6l2,1.8l2-.5l2,.9l2-.4l2,0l2-.1l2-2l2,1.2l2-.9l2,1.3l2,.9l2-2.8l2,2.3l2,.4l2-2.2l2,.9l2-2.7l2,2.9l2-2.6l2,1.3l2-28.1l2-2.5l2-.2l2,1.5l2-.3l2-2.6l2,0l2-.2l2,1.3l2-1.6L1137.0,272.3l-2,2.1l-2-1.2l-2-.2l-2,.2l-2,2.3l-2-.1l-2-.7l-2,.1l-2,2.6l-2,27.4l-2-.1l-2,2.3l-2-3l-2,2.9l-2-1.7l-2,2.3l-2-.2l-2-2l-2,2.5l-2-1.2l-2-.8l-2,.4l-2-1.1l-2,1.8l-2,.2l-2,.2l-2,.6l-2-.4l-2-.8l-2-1l-2,2.5l-2-1.2l-2,1.2l-2,.2l-2-1.3l-2-.2l-2,1.1l-2,0l-2-.4l-2,1.1l-2,.1l-2,0l-2-.7l-2,.2l-2-.9l-2,3.4l-2-2.4l-2-.6l-2,.3l-2,.8l-2-.2l-2,.9l-2,.3l-2.1,.6l-2-1.3l-2,.6l-2,91.8l-2,1l-2-.4l-2-1.5l-2,1.7l-2-1.2l-2,2l-2-.4l-2-1.6l-2,2.1l-2-1.9l-2,1.1l-2-.6l-2-2.3l-2,2.1l-2-1l-2,2.2l-2-2.9l-2,2.1l-2-1.2l-2-.3l-2-1.1l-2,3.2l-2-2.4l-2,.4l-2,1.5l-2-1.9l-2,9.6l-2-.6l-2,0l-2,1l-2-1.3l-2,.4l-2,.9l-2,1.4l-2,.3l-2-.4l-2,.9l-2-1l-2-.9l-2,1.4l-2-.4l-2-3.2l-2,1.6l-2-.6l-2,.9l-2-.9l-2,1.4l-2-1.1l-2,.6l-2,.1l-2-2l-2,.5l-2,.9l-2-.9l-2-1.3l-2,1.7l-2,1.4l-2-.5l-2-.6l-2-.7l-2,2.6l-2-.5l-2-1.6l-2,.5l-2,1.1l-2-1.2l-2,1.2l-2-.7l-2,1.4l-2-2.7l-2,1.9l-2-1l-2,1l-2-.4l-2-1.4l-2,.5l-2,1.2l-2,.1l-2,.1l-2-1.8l-2,1.2l-2,2.1l-2-2.2l-2-.5l-2,1.4l-2,.5l-2-2.7l-2,.5l-2,1l-2-1.4l-2,1.2l-2-.2l-2,.4l-2-1.2l-2-.3l-2,.4l-2,1.4l-2-1.6l-2,2.4l-2-1.5l-2-.8l-2,.9l-2,1.1l-2.1-151.1l-2,.7l-2,0l-2,0l-2,.1l-2,1.4l-2,.4l-2-1.1l-2,2.8l-2-1.2l-2,.4l-2,.2l-2-.6l-2,145.6l-2,.9l-2,0l-2-.2l-2,.8l-2-.7l-2,1.3l-2-1.2l-2,.2l-2-.8l-2,.1l-2,.2l-2-.4l-2,.7l-2-1.6l-2,1.7l-2,1.5l-2-.8l-2,.6l-2,.3l-2-1.8l-2,.2l-2-1.2l-2,.8l-2,.2l-2-.2l-2,1.1l-2-1.3l-2,1.2l-2,.7l-2-2.3l-2,.1l-2,2l-2-2.6l-2,1.9l-2,.5l-2,0l-2-2.2l-2-13.7l-2,.7l-2,.3l-2-1.1l-2,1l-2-1l-2,.1l-2,.7l-2-.8l-2,1l-2-.5l-2-1.2l-2-.9l-2,1.7l-2-1.2l-2,.9l-2,.1l-2,1.5l-2-1.1l-2,1.9l-2-2.6l-2,.2l-2,1.1l-2-.4l-2-.4l-2,.9l-2-1.3l-2-.7l-2,1.1l-2-.2l-2,.9l-2-.9l-2-.4l-2,1.2l-2-1.7l-2,2.3l-2-2.8l-2,1.2l-2,.3l-2-.3l-2,1.6l-2-.9l-2,0l-2,1l-2-1.4l-2,1.2l-2,.2l-2,0l-2,1.1l-2-2.3l-2,.5l-2-1.1l-2,1.2l-2-.5l-2-6.2l-2,1.3l-2.1-.3l-2-.7l-2,.1l-2,.5l-2,.1l-2-1.8l-2,1.9l-2,5.7l-2,1.4l-2-.7l-2-1.6l-2-1.1l-2,.6l-2,.2l-2,1.1l-2-.7l-2,.2l-2,.6l-2-1.5l-2,1.4l-2-2.3l-2,1.1l-2,1l-2,.2l-2-.5l-2,1.2l-2-1.7l-2-.2l-2,1.4l-2,.2l-2-1.6l-2-.2l-2,2.4l-2-1.6l-2,.2l-2-.2l-2-1.5l-2,2.6l-2-1.5l-2,1l-2-.8l-2,.8l-2,1.2l-2-2l-2,1.3l-2-1.8l-2-.7l-2,2.5l-2-1.5l-2,.7l-2,0l-2,.6l-2-.2l-2,.3l-2-1.3l-2,1.1l-2-.9l-2-.1l-2,1.1l-2-.2l-2,.3l-2-.5l-2,0l-2-.1l-2,1.2l-2-1.9l-2,16l-2-1.8l-2-1.6l-2,2l-2-1.8l-2,.9l-2-.1l-2-.8l-2,1.9l-2-.6l-2,.7l-2-.6l-2,.1l-2,.1l-2-1.2l-2,.8l-2-.6l-2,1.3l-2-.4l-2,.3l-2-.2l-2-2l-2,1.2l-2,2.8l-2-.6l-2-2.5l-2,2l-2-1.1l-2,.4l-2-1.5l-2,2.5l-2-.5l-2-2.2l-2,1.1l-2,2l-2-.8l-2,.5l-2,1.5l-2-2.2l-2,.3l-2.1-1.8l-2,1.5l-2-.1l-2-.8l-2,1.1l-2,.7l-2-2.1l-2,.6l-2,2.3l-2-2.8l-2,1.1l-2-.1l-2,.9l-2-.5l-2-.3l-2,0l-2-2.1l-2,2.4l-2-1.3l-2-1.5l-2,1l-2-.1l-2-.1l-2,1.6l-2-1.5l-2,1.1l-2,.8l-2,.3l-2-3.1l-2,.9l-2,1.2l-2,.1l-2,.5l-2-.8l-2,.2l-2-1.2l-2-.5l-2,.1l-2,.3l-2,2.6l-2-1.1l-2,.2l-2-.3l-2,.1l-2-2l-2-.2l-2,3.1l-2-.6l-2-1.5l-2,2.7l-2-1.2l-2,.5l-2-1.1l-2,.9l-2-2.5l-2,2l-2-1.7l-2,2l-2-1.2l-2,1.8l-2,.2l-2-2.9l-2,3l-2-3l-2,2.5l-2-1.1l-2,.8l-2,1.7l-2-2.1l-2,.1l-2,.5l-2-1.3l-2,.4l-2-.1l-2,.7l-2,.1l-2-.8l-2-2.1l-2,2.7l-2-1.1l-2,.9l-2-2.4l-2,1.8l-2-.6l-2,3.4l-2-3.2l-2-.4l-2,.9l-2-1.8l-2,3.6l-2-2.4l-2-.2l-2,.5l-2,2.3l-2-1l-2,.2l-2-1l-2,.5l-2-.2l-2,.3l-2-.7l-2,.7l-2,.9l-2-2.3l-2-.2l-2,1.1l-2-.9l-2.1,1.4l-2-1.7l-2,1.5l-2-.8l-2,.6l-2-2.3l-2,2l-2,0l-2-1.2l-2,1.2l-2-.9l-2,1.3l-2,1.1l-2-1l-2-.3l-2-1.5l-2,1.4l-2-2.7l-2,3.6l-2-3.5l-2,3.8l-2-2.1l-2,.1l-2,1.4l-2-1.1l-2,2l-2-1l-2-1l-2,1.3l-2-1.2l-2-2.3l-2,2.8l-2-.1l-2-1.4l-2,.9l-2-.4l-2,.9l-2-.1l-2,.1l-2,.1l-2-1.3l-2,1.9l-2-.4l-2,.3l-2-1.2l-2-1.7l-2,3l-2-1.9l-2,.6l-2,1.7l-2-.8l-2-1.6l-2,1.1l-2-1.4Z" fill="#890F02" fill-opacity="0.3"/>
<path d="M68.5,395.4l2,.7l2-.9l2,2.8l2-.9l2-2.5l2,.7l2,.5l2-2.1l2,1.6l2,1.7l2-.2l2-.3l2-1.3l2,0l2-.4l2,1.2l2-.1l2-.2l2,.6l2-2l2,.3l2,.7l2-1.8l2,2.8l2,1.6l2-2.2l2,.3l2,1.7l2-2.3l2,.5l2-1.1l2,1.5l2,.7l2-4.6l2,4.3l2-4.2l2,3.5l2-.4l2,.1l2,2l2,0l2-1.8l2-.3l2-.2l2-.4l2,1.4l2,1.2l2-1.8l2,1.4l2-1.7l2,.1l2-.9l2,2.7l2.1-6.2l2,.5l2-.8l2,.1l2,1l2-1.7l2,.5l2,.5l2,.9l2-.3l2,1.1l2-1.7l2,2.4l2-1.2l2-1.7l2-1.7l2,1.1l2,4.1l2-5.8l2,2.4l2-2.3l2,1.7l2,2.4l2-2.4l2-.1l2-.6l2,1.7l2-1.1l2,5.9l2-1l2,.3l2,.9l2,1.2l2-.4l2-.7l2-.4l2,1l2-.6l2,.3l2,1.9l2-1.6l2-2l2,1.8l2-2l2,3.5l2-3.2l2,3.2l2-1l2-1.3l2-.2l2-.8l2,2.1l2-2.4l2,3.3l2-1.8l2,.4l2,.4l2,.3l2-2.2l2,1.1l2,.8l2-2.7l2,1l2,2.2l2-2l2,.1l2,1.1l2,.7l2-1.9l2-.9l2-1.4l2,2.5l2,.1l2,.2l2,.6l2-.8l2,.4l2-2.3l2,.7l2,2.2l2,.8l2-2.3l2-1.1l2,1.8l2-1.3l2,1.8l2-1l2-2.2l2,2.9l2,.9l2-3.7l2,3.5l2-.2l2-1l2,.5l2-1.1l2,2.2l2-1.5l2-3.5l2-2.7l2,.1l2,2.2l2-.6l2-.8l2,.3l2,1.4l2-2.5l2.1,2.3l2-.3l2,3.2l2-3.2l2,0l2,.5l2-1.9l2-.2l2,2.9l2-1.4l2-.2l2,.8l2-.3l2,1l2-2.2l2,1.6l2,1.1l2-3.1l2-1.3l2,5.9l2,.9l2,1.3l2-1.5l2-1l2,.4l2-.5l2,1.4l2,1.3l2,.1l2-.9l2-2.2l2,1.1l2-1.3l2,1.3l2-.7l2,.2l2,.7l2-2.1l2,1.1l2,3.3l2-15l2,2.2l2-3.2l2,.1l2,.4l2-.3l2,.6l2,.1l2-1.9l2,1.8l2,.8l2-1l2-1.2l2,1.4l2-.8l2,.3l2-1.2l2,1.5l2,.6l2-2.5l2,1.3l2,2l2-2.5l2,2.2l2-1l2-.8l2,.7l2-.2l2,.7l2-1.6l2,1.2l2,.8l2-1.4l2,.4l2,.1l2-1.5l2,2l2-.4l2-1.4l2,2.9l2-.2l2-.9l2,.1l2,.2l2-1.8l2,.9l2-.9l2-.7l2-.2l2-1.6l2,1.7l2-.1l2-3l2,2.6l2-2.1l2,3.2l2,.1l2,1.1l2-3.3l2-5.9l2-2.5l2,1.2l2,1.2l2-.6l2-.2l2-1l2.1,1.2l2-.3l2,6.9l2,1.8l2-1l2,.5l2-.6l2,.9l2,.3l2-.1l2-.7l2,1.3l2,1.2l2-.8l2-.9l2,2.6l2-3.7l2,.9l2,0l2-1.5l2,3.1l2,.3l2-.7l2,.3l2-1.5l2,.9l2-1.3l2-.4l2,2.6l2-.6l2,1.5l2-1.7l2-.1l2,1.2l2-.7l2-.2l2,1.6l2-2l2,1.8l2-1.1l2-.5l2-1.9l2,2.4l2-1.4l2-.7l2,1.9l2,.5l2-.1l2-.2l2-.4l2-.5l2,1.9l2-1.6l2,1.2l2-.5l2-.4l2,12.8l2,2.7l2,.2l2-1.3l2-2.5l2,3.9l2-2.6l2,.7l2,1.4l2,.2l2-2.4l2,2.6l2,0l2-1.1l2-.9l2-.7l2,1.5l2,.7l2,1l2,.8l2-2.5l2,1.4l2-1.5l2-1.6l2,.8l2-1.2l2,.8l2,1.2l2-.7l2,2l2-1.7l2,1.9l2-1.6l2,.3l2,1.3l2-1.1l2-1.4l2,0l2-149.4l2,1.7l2,.1l2-1.9l2,1.9l2-5l2,2.1l2,.3l2-2l2,1.1l2,.2l2-.7l2-.6l2.1,153.9l2-2.2l2,.1l2,.7l2,2.7l2-4.7l2,1.3l2-.2l2-.8l2,.4l2,3l2-1.5l2-.7l2-1.3l2,.6l2-.4l2-.5l2,4.2l2-3.1l2,2.2l2-1.5l2,2.7l2-2.2l2-1.6l2,2.1l2-1.1l2,1.2l2-1.8l2-1.3l2,2.2l2-.3l2-.3l2,.1l2-2l2,4.1l2-1.7l2,0l2,.1l2,.7l2-.5l2-.9l2-.2l2,.7l2-2.8l2,1.5l2,1.4l2-.7l2-.8l2-1.9l2,1.9l2-.4l2,.5l2-.5l2,2.3l2-1.5l2,.8l2-.4l2-.8l2,.6l2,.3l2,.7l2-2.2l2,4.7l2,.3l2-1.6l2,1.3l2,2l2-1.9l2-.2l2,.5l2-6l2-.3l2-.4l2,.3l2,.8l2-.7l2,.3l2-9.5l2,2.3l2-3.5l2,.4l2,1.6l2-2.9l2-.3l2,.8l2,.7l2-2.9l2,2.3l2-.9l2,.1l2-2.4l2,3.1l2,2.7l2-1.7l2,1.5l2-.5l2,1.1l2,1.9l2-1.6l2,2.3l2-1.1l2,2.3l2-.7l2,1l2-93.1l2,.4l2,2.5l2.1-2l2-1.6l2,1.5l2-.5l2,0l2-.5l2-.2l2,2.6l2-4.2l2,2l2-.3l2,.5l2,.6l2,.3l2-2.3l2-.3l2,0l2-.6l2-.7l2,2.6l2-.2l2-3.1l2,3.9l2-4.5l2,3.2l2-.7l2,.5l2,.6l2,.8l2-1.2l2-2l2,1.9l2-1.4l2,1.3l2,1.1l2-2.5l2,.3l2,1.7l2-3l2,.4l2-1.4l2,2.8l2-2.4l2,.8l2-28l2-2.1l2-.8l2,1.8l2-.2l2-3.3l2-.9l2,.4l2,2.2l2-.5L1137.0,268.0l-2,1.6l-2-1.3l-2,.2l-2,0l-2,2.6l-2,.3l-2-1.5l-2,.2l-2,2.5l-2,28.1l-2-1.3l-2,2.6l-2-2.9l-2,2.7l-2-.9l-2,2.2l-2-.4l-2-2.3l-2,2.8l-2-.9l-2-1.3l-2,.9l-2-1.2l-2,2l-2,.1l-2,0l-2,.4l-2-.9l-2,.5l-2-1.8l-2,2.6l-2-1.9l-2,2.4l-2,0l-2-2.3l-2,.5l-2,.9l-2-.7l-2,.1l-2,1.7l-2,.2l-2-.1l-2-.4l-2,0l-2-1.7l-2,4l-2-2.4l-2,0l-2-.6l-2,1.2l-2,.4l-2-.8l-2,.7l-2.1,1.1l-2-1.2l-2,.4l-2,92.2l-2,.4l-2,.5l-2-2.2l-2,1.9l-2-1.4l-2,2.6l-2-.5l-2-1.9l-2,2l-2-1.9l-2,1.5l-2-.7l-2-2.5l-2,2l-2-.6l-2,1.2l-2-2.8l-2,2.5l-2-.5l-2-1l-2-1l-2,3.2l-2-1.9l-2,0l-2,1.7l-2-1.9l-2,9.3l-2-.6l-2,1.4l-2-.3l-2-1.1l-2,.5l-2,.4l-2,1.5l-2,.1l-2-.1l-2,.6l-2-.3l-2-1.7l-2,1.6l-2-.5l-2-3.1l-2,2.1l-2-.8l-2,.7l-2-1.5l-2,1.8l-2-.2l-2-.1l-2,1.4l-2-3.2l-2,.3l-2,.9l-2-.6l-2-1.2l-2,1.3l-2,.6l-2,.8l-2-.9l-2-1.2l-2,2.8l-2-.5l-2-1.3l-2,.4l-2,1.1l-2-.9l-2,.4l-2,.2l-2,1.8l-2-3.4l-2,1.7l-2-.5l-2,.2l-2-.1l-2-1.4l-2,.9l-2,1.4l-2-.7l-2,.9l-2-2.4l-2,1.5l-2,2.5l-2-2.9l-2,0l-2,.6l-2,1.5l-2-3.9l-2,.7l-2,1.4l-2-1.5l-2,1.5l-2-.1l-2,1.2l-2-2.5l-2-.5l-2,.5l-2,1.6l-2-1.8l-2,3.1l-2-1.5l-2-1.2l-2,.6l-2,1.9l-2.1-151.4l-2,.9l-2-.1l-2-.1l-2,.5l-2,.8l-2-.2l-2-1.2l-2,3l-2-.9l-2,1.4l-2-.5l-2-.6l-2,145l-2,1l-2,.4l-2,.7l-2,0l-2-.6l-2,1.1l-2-1.1l-2,.3l-2-1.5l-2,1l-2-.7l-2,0l-2,.3l-2-.7l-2,1.2l-2,1.7l-2-1.3l-2,1.3l-2,.3l-2-2.3l-2,.6l-2-1.9l-2,1.4l-2,.3l-2-.9l-2,1.6l-2-1.9l-2,1.6l-2,.7l-2-2.4l-2,.3l-2,2.1l-2-3.1l-2,2.1l-2,.9l-2,.2l-2-3l-2-12.6l-2-.2l-2,1l-2-1.6l-2,1.8l-2-1.5l-2-.4l-2,1l-2-.2l-2,.5l-2-1l-2-1.7l-2,.5l-2,2.1l-2-1.7l-2,.2l-2,1.2l-2,1l-2-1.2l-2,2.2l-2-3.1l-2,.4l-2,1.3l-2-1.5l-2,.7l-2,.3l-2-.7l-2-.7l-2,.3l-2-.1l-2,1l-2-1.2l-2,.4l-2,.9l-2-1.2l-2,1.6l-2-2.3l-2,1l-2-.1l-2-.4l-2,1.9l-2-1.6l-2,.6l-2,1.2l-2-2l-2,1.8l-2,.2l-2,.2l-2,.6l-2-2.3l-2,.6l-2-.3l-2,.5l-2-.6l-2-6l-2,1.5l-2.1-1.2l-2-.1l-2,.5l-2,1l-2-.8l-2-1.7l-2,2.4l-2,4.9l-2,1.8l-2-.9l-2-.8l-2-2.2l-2,1.5l-2-.9l-2,2.6l-2-.8l-2-1.4l-2,1.2l-2-1.8l-2,1.5l-2-1.1l-2,.4l-2,1.2l-2,.4l-2-.9l-2,1.5l-2-1.2l-2-1.5l-2,1.4l-2,.7l-2-2l-2-.3l-2,2.2l-2-.9l-2,1.1l-2-1.2l-2-.8l-2,1.9l-2-1.6l-2,1.4l-2-1.4l-2,1.8l-2,.4l-2-2.2l-2,1.6l-2-1.7l-2-.7l-2,2.6l-2-1.2l-2-.3l-2,.5l-2,.7l-2-.5l-2,.4l-2-.9l-2,.8l-2-.4l-2-1l-2,1.5l-2-.3l-2-.6l-2,.1l-2,.1l-2-.2l-2,1.9l-2-2.2l-2,16.5l-2-3.1l-2-1.7l-2,2.2l-2-1l-2,.8l-2-.6l-2-.4l-2,2.3l-2-.8l-2,.4l-2-.3l-2,.7l-2-.4l-2-1.4l-2,.8l-2,0l-2,.5l-2,.8l-2-.6l-2-.9l-2-2.2l-2,1.9l-2,2.7l-2-.8l-2-2.3l-2,2.1l-2-.5l-2,0l-2-1l-2,1.8l-2-.4l-2-1.8l-2,.9l-2,1.1l-2,0l-2,.5l-2,1.4l-2-1.8l-2-.2l-2.1-2.3l-2,2.6l-2-.8l-2-.9l-2,1.6l-2,.5l-2-1.5l-2-.3l-2,2.8l-2-3.1l-2,1.3l-2-.8l-2,.6l-2-.1l-2,.2l-2,.2l-2-3.1l-2,3.7l-2-1.3l-2-2.1l-2,.9l-2,.5l-2-.2l-2,1.8l-2-2.3l-2,1l-2,1.1l-2,.5l-2-2.9l-2,.2l-2,1.9l-2-.2l-2,.6l-2-.9l-2-.1l-2-.8l-2-1l-2,.1l-2,1l-2,2.1l-2-.6l-2-.2l-2-.7l-2,1.2l-2-2.6l-2-.3l-2,3.2l-2-1l-2-.8l-2,2.2l-2-.4l-2-.1l-2-1.2l-2,1.8l-2-3.5l-2,1.8l-2-.8l-2,1l-2,.2l-2,1.4l-2,.4l-2-3.4l-2,2.7l-2-3l-2,2.2l-2-1.4l-2,1.9l-2,1.5l-2-2.7l-2,.4l-2,.8l-2-1.4l-2-.1l-2,1l-2-.1l-2-.1l-2,0l-2-2.3l-2,2.6l-2-1.1l-2,.8l-2-3.2l-2,2.2l-2-.5l-2,3l-2-2.5l-2-1.5l-2,1.4l-2-1.3l-2,4.4l-2-3.6l-2,.1l-2,.7l-2,1.9l-2,.2l-2-.6l-2-.2l-2,.2l-2-1.1l-2,.4l-2-.5l-2,.3l-2,.7l-2-1l-2-.2l-2,1.1l-2-1.3l-2.1,1.5l-2-2.4l-2,1.6l-2-.7l-2,1.2l-2-2.5l-2,2.2l-2-.4l-2-1.2l-2,.5l-2,.3l-2,.6l-2,1.4l-2-.9l-2-1.5l-2,0l-2,1.2l-2-3.1l-2,3.5l-2-3.4l-2,3.6l-2-.8l-2-.8l-2,.6l-2-.7l-2,2.1l-2-.6l-2-1.4l-2,2.2l-2-2.3l-2-2.7l-2,3.6l-2-1.1l-2-.6l-2,1.2l-2-.2l-2,.3l-2,.4l-2-.6l-2,0l-2-.2l-2,1l-2-.2l-2,.8l-2-1.8l-2-1.6l-2,3.2l-2-1.9l-2,.2l-2,1.7l-2-.7l-2-1.5l-2,1.1l-2-1Z" fill="#6D1F62" fill-opacity="0.12"/>
<path d="M68.5,389.1l2,.6l2-1.2l2,2.3l2-.3l2-2.6l2,.8l2,.6l2-1.6l2,1.3l2,1.6l2-.4l2-.1l2-1.6l2,.5l2-.1l2,.2l2,0l2-.1l2,.8l2-2.2l2,.1l2,1.1l2-1.3l2,2.3l2,1.2l2-1.8l2,0l2,2.1l2-2.1l2,.2l2-1.5l2,2.3l2,.4l2-5.1l2,4.8l2-4l2,3.5l2-1.5l2,1l2,1.8l2,.4l2-2.6l2,.6l2-.5l2-1l2,2.5l2,.4l2-1.5l2,1.3l2-1.5l2,.2l2-.9l2,2.3l2.1-6.2l2,.9l2-1.1l2-.3l2,1.6l2-2.5l2,1.1l2,.9l2,.8l2-.5l2,1.5l2-2.7l2,1.8l2-.6l2-1.5l2-1l2,1.3l2,3.5l2-6.3l2,3.4l2-2.2l2,1.1l2,2.9l2-2.8l2,0l2-1.3l2,1.6l2,0l2,5.9l2-1.9l2,.3l2,1.1l2,1.4l2-.2l2-1.3l2,.4l2,.2l2-.2l2,.4l2,2.2l2-2.3l2-1.6l2,1.8l2-2.1l2,3.8l2-3.7l2,3.2l2-.7l2-1.4l2-.7l2-1.1l2,3.5l2-2.2l2,3.3l2-2.7l2,.5l2,.8l2-.5l2-2.3l2,1.3l2,1l2-2.8l2,1.3l2,2.3l2-2.9l2,.8l2,.9l2,1l2-2.4l2-.9l2-1.2l2,2.6l2,.7l2-.1l2-.1l2,0l2-.1l2-2.3l2,.2l2,3l2,1.3l2-3.1l2-1.7l2,3l2-2.6l2,1.8l2-.4l2-2.4l2,2.5l2,1.8l2-3.1l2,2.5l2,.9l2-1.5l2,0l2-.3l2,2l2-1.7l2-3.8l2-2.6l2,.7l2,1.4l2-.8l2-.2l2,.6l2,.7l2-2l2.1,2.1l2-.7l2,3.6l2-3.1l2,.1l2,.3l2-1.7l2-.2l2,2.9l2-1.4l2-.7l2,.2l2,.6l2,1.1l2-2.1l2,1.4l2,1.8l2-3l2-1.8l2,5.5l2,.5l2,1.2l2-.3l2-.7l2-1l2,.7l2-.4l2,2.4l2-.1l2-.4l2-3.1l2,1.9l2-1.2l2,.8l2,.3l2-1.1l2,1l2-1.9l2,1.8l2,2.8l2-15.3l2,2.4l2-3.2l2,.1l2,.4l2-.9l2,.8l2,.5l2-2.4l2,2.2l2,1.5l2-1.4l2-1.5l2,1.5l2-1.7l2,1.9l2-1.2l2,.3l2,.7l2-1.8l2,.4l2,2.7l2-2.7l2,3.2l2-2.2l2-1l2,.8l2-.1l2,.8l2-1.8l2,1.9l2,.6l2-2.1l2,1.1l2-.4l2-.7l2,1.1l2,.1l2-1.1l2,2.3l2,.2l2-.8l2-.6l2,.3l2-1.1l2,.8l2-1.4l2-.2l2-1l2-1.2l2,1.3l2,.7l2-3.6l2,2.9l2-2.6l2,2.8l2,.3l2,1.4l2-2.9l2-6l2-2.1l2,.9l2,.8l2-.7l2,.1l2-.7l2.1,.5l2,.9l2,6.7l2,1.3l2-.9l2,.8l2-1.3l2,1.2l2,.6l2-.5l2,.2l2,.8l2,1l2-1.4l2,.3l2,2.3l2-4.2l2,1.6l2-.1l2-1.8l2,3.5l2-.5l2-1.8l2,1.6l2-1.4l2,1.1l2-1.5l2-1.5l2,4.1l2-.5l2,.5l2-1.5l2-.4l2,2.3l2-1l2-.2l2,1.3l2-2l2,1.5l2-1.1l2-.3l2-2.2l2,3.4l2-2.4l2-.6l2,2.8l2,0l2,0l2-.7l2-.2l2-.6l2,1.8l2-1.6l2,1.1l2,.1l2-.3l2,12.6l2,3.1l2-.4l2-1.2l2-1.3l2,3.3l2-3.5l2,.6l2,1.6l2,.3l2-2.3l2,2.4l2,0l2-.4l2-1.4l2-1.1l2,2l2,.6l2,1.1l2,.3l2-2l2,.7l2-.2l2-2.4l2,1.1l2-1.4l2,1.7l2,.1l2-.6l2,1.8l2-1.7l2,2.1l2-1.5l2,.7l2,1.1l2-.6l2-1.9l2,.2l2-149l2,.7l2-.5l2-.7l2,1.3l2-4.5l2,2.5l2-.9l2-1.9l2,1.9l2,.4l2-1.2l2-.3l2.1,153.7l2-2.5l2,.6l2,.4l2,2.7l2-4.9l2,1.5l2-.1l2-.8l2,.5l2,3.5l2-2.6l2,.2l2-1.8l2,.7l2-.8l2-.2l2,4.3l2-2.9l2,1.8l2-1.5l2,4l2-3.7l2-1.2l2,1.3l2-.7l2,1.2l2-1.9l2-1l2,1.8l2-.1l2-.8l2,.7l2-1l2,2.8l2-.9l2-.3l2,.1l2,1l2-.7l2-1.4l2,.7l2,.3l2-3l2,1.4l2,.7l2,.1l2-1l2-1.5l2,1.5l2,.8l2-.4l2-.2l2,1.8l2-1.3l2,.3l2,.2l2-1.1l2,.4l2,1l2,.3l2-1.7l2,3.7l2,.4l2-.7l2,2.1l2-.3l2-1l2,.7l2,0l2-5.9l2-.6l2-.9l2,.7l2,.9l2,.1l2-5.8l2-3.6l2,.8l2-2.6l2-.3l2,1.8l2-2.2l2-.3l2,.7l2,.5l2-3l2,3l2-1.8l2,.7l2-2.7l2,3.5l2,1.6l2-1.4l2,2.2l2-.7l2-.1l2,3.2l2-2l2,3l2-1l2,2.1l2-1.2l2,1l2-93.2l2,.7l2,2.8l2.1-3l2-1.4l2,2l2-1.1l2,.7l2-.2l2-.2l2,2.1l2-3.8l2,1.4l2-.5l2,1.1l2,1.2l2-.5l2-2.7l2,.4l2,.2l2-1.4l2-.5l2,2.8l2-.1l2-3.1l2,3.7l2-4l2,2.7l2-.8l2,1l2,.3l2,1.4l2-1.2l2-2.6l2,2.3l2-1.5l2,.8l2,1.5l2-2.4l2,.9l2,.7l2-3.5l2,.7l2-.8l2,2.8l2-2.7l2,1.3l2-28.4l2-2.5l2-.4l2,2.1l2-1.6l2-2.9l2-.3l2-5.8l2,8l2,0L1137.0,260.8l-2,.5l-2-2.2l-2-.4l-2,.9l-2,3.3l-2,.2l-2-1.8l-2,.8l-2,2.1l-2,28l-2-.8l-2,2.4l-2-2.8l-2,1.4l-2-.4l-2,3l-2-1.7l-2-.3l-2,2.5l-2-1.1l-2-1.3l-2,1.4l-2-1.9l-2,2l-2,1.2l-2-.8l-2-.6l-2-.5l-2,.7l-2-3.2l-2,4.5l-2-3.9l-2,3.1l-2,.2l-2-2.6l-2,.7l-2,.6l-2,0l-2,.3l-2,2.3l-2-.3l-2-.6l-2-.5l-2,.3l-2-2l-2,4.2l-2-2.6l-2,.2l-2,.5l-2,0l-2,.5l-2-1.5l-2,1.6l-2.1,2l-2-2.5l-2-.4l-2,93.1l-2-1l-2,.7l-2-2.3l-2,1.1l-2-2.3l-2,1.6l-2-1.9l-2-1.1l-2,.5l-2-1.5l-2,1.7l-2-2.7l-2-3.1l-2,2.4l-2-.1l-2,.9l-2-2.3l-2,2.9l-2-.7l-2-.8l-2,.3l-2,2.9l-2-1.6l-2-.4l-2,3.5l-2-2.3l-2,9.5l-2-.3l-2,.7l-2-.8l-2-.3l-2,.4l-2,.3l-2,6l-2-.5l-2,.2l-2,1.9l-2-2l-2-1.3l-2,1.6l-2-.3l-2-4.7l-2,2.2l-2-.7l-2-.3l-2-.6l-2,.8l-2,.4l-2-.8l-2,1.5l-2-2.3l-2,.5l-2-.5l-2,.4l-2-1.9l-2,1.9l-2,.8l-2,.7l-2-1.4l-2-1.5l-2,2.8l-2-.7l-2,.2l-2,.9l-2,.5l-2-.7l-2-.1l-2,0l-2,1.7l-2-4.1l-2,2l-2-.1l-2,.3l-2,.3l-2-2.2l-2,1.3l-2,1.8l-2-1.2l-2,1.1l-2-2.1l-2,1.6l-2,2.2l-2-2.7l-2,1.5l-2-2.2l-2,3.1l-2-4.2l-2,.5l-2,.4l-2-.6l-2,1.3l-2,.7l-2,1.5l-2-3l-2-.4l-2,.8l-2,.2l-2-1.3l-2,4.7l-2-2.7l-2-.7l-2-.1l-2,2.2l-2.1-153.9l-2,.6l-2,.7l-2-.2l-2-1.1l-2,2l-2-.3l-2-2.1l-2,5l-2-1.9l-2,1.9l-2-.1l-2-1.7l-2,149.4l-2,0l-2,1.4l-2,1.1l-2-1.3l-2-.3l-2,1.6l-2-1.9l-2,1.7l-2-2l-2,.7l-2-1.2l-2-.8l-2,1.2l-2-.8l-2,1.6l-2,1.5l-2-1.4l-2,2.5l-2-.8l-2-1l-2-.7l-2-1.5l-2,.7l-2,.9l-2,1.1l-2,0l-2-2.6l-2,2.4l-2-.2l-2-1.4l-2-.7l-2,2.6l-2-3.9l-2,2.5l-2,1.3l-2-.2l-2-2.7l-2-12.8l-2,.4l-2,.5l-2-1.2l-2,1.6l-2-1.9l-2,.5l-2,.4l-2,.2l-2,.1l-2-.5l-2-1.9l-2,.7l-2,1.4l-2-2.4l-2,1.9l-2,.5l-2,1.1l-2-1.8l-2,2l-2-1.6l-2,.2l-2,.7l-2-1.2l-2,.1l-2,1.7l-2-1.5l-2,.6l-2-2.6l-2,.4l-2,1.3l-2-.9l-2,1.5l-2-.3l-2,.7l-2-.3l-2-3.1l-2,1.5l-2,0l-2-.9l-2,3.7l-2-2.6l-2,.9l-2,.8l-2-1.2l-2-1.3l-2,.7l-2,.1l-2-.3l-2-.9l-2,.6l-2-.5l-2,1l-2-1.8l-2-6.9l-2,.3l-2.1-1.2l-2,1l-2,.2l-2,.6l-2-1.2l-2-1.2l-2,2.5l-2,5.9l-2,3.3l-2-1.1l-2-.1l-2-3.2l-2,2.1l-2-2.6l-2,3l-2,.1l-2-1.7l-2,1.6l-2,.2l-2,.7l-2,.9l-2-.9l-2,1.8l-2-.2l-2-.1l-2,.9l-2,.2l-2-2.9l-2,1.4l-2,.4l-2-2l-2,1.5l-2-.1l-2-.4l-2,1.4l-2-.8l-2-1.2l-2,1.6l-2-.7l-2,.2l-2-.7l-2,.8l-2,1l-2-2.2l-2,2.5l-2-2l-2-1.3l-2,2.5l-2-.6l-2-1.5l-2,1.2l-2-.3l-2,.8l-2-1.4l-2,1.2l-2,1l-2-.8l-2-1.8l-2,1.9l-2-.1l-2-.6l-2,.3l-2-.4l-2-.1l-2,3.2l-2-2.2l-2,15l-2-3.3l-2-1.1l-2,2.1l-2-.7l-2-.2l-2,.7l-2-1.3l-2,1.3l-2-1.1l-2,2.2l-2,.9l-2-.1l-2-1.3l-2-1.4l-2,.5l-2-.4l-2,1l-2,1.5l-2-1.3l-2-.9l-2-5.9l-2,1.3l-2,3.1l-2-1.1l-2-1.6l-2,2.2l-2-1l-2,.3l-2-.8l-2,.2l-2,1.4l-2-2.9l-2,.2l-2,1.9l-2-.5l-2,0l-2,3.2l-2-3.2l-2,.3l-2.1-2.3l-2,2.5l-2-1.4l-2-.3l-2,.8l-2,.6l-2-2.2l-2-.1l-2,2.7l-2,3.5l-2,1.5l-2-2.2l-2,1.1l-2-.5l-2,1l-2,.2l-2-3.5l-2,3.7l-2-.9l-2-2.9l-2,2.2l-2,1l-2-1.8l-2,1.3l-2-1.8l-2,1.1l-2,2.3l-2-.8l-2-2.2l-2-.7l-2,2.3l-2-.4l-2,.8l-2-.6l-2-.2l-2-.1l-2-2.5l-2,1.4l-2,.9l-2,1.9l-2-.7l-2-1.1l-2-.1l-2,2l-2-2.2l-2-1l-2,2.7l-2-.8l-2-1.1l-2,2.2l-2-.3l-2-.4l-2-.4l-2,1.8l-2-3.3l-2,2.4l-2-2.1l-2,.8l-2,.2l-2,1.3l-2,1l-2-3.2l-2,3.2l-2-3.5l-2,2l-2-1.8l-2,2l-2,1.6l-2-1.9l-2-.3l-2,.6l-2-1l-2,.4l-2,.7l-2,.4l-2-1.2l-2-.9l-2-.3l-2,1l-2-5.9l-2,1.1l-2-1.7l-2,.6l-2,.1l-2,2.4l-2-2.4l-2-1.7l-2,2.3l-2-2.4l-2,5.8l-2-4.1l-2-1.1l-2,1.7l-2,1.7l-2,1.2l-2-2.4l-2,1.7l-2-1.1l-2,.3l-2-.9l-2-.5l-2-.5l-2,1.7l-2-1l-2-.1l-2,.8l-2-.5l-2.1,6.2l-2-2.7l-2,.9l-2-.1l-2,1.7l-2-1.4l-2,1.8l-2-1.2l-2-1.4l-2,.4l-2,.2l-2,.3l-2,1.8l-2,0l-2-2l-2-.1l-2,.4l-2-3.5l-2,4.2l-2-4.3l-2,4.6l-2-.7l-2-1.5l-2,1.1l-2-.5l-2,2.3l-2-1.7l-2-.3l-2,2.2l-2-1.6l-2-2.8l-2,1.8l-2-.7l-2-.3l-2,2l-2-.6l-2,.2l-2,.1l-2-1.2l-2,.4l-2,0l-2,1.3l-2,.3l-2,.2l-2-1.7l-2-1.6l-2,2.1l-2-.5l-2-.7l-2,2.5l-2,.9l-2-2.8l-2,.9l-2-.7Z" fill="#B7DBAB" fill-opacity="0.06"/>
<path d="M68.5,371.4l2,.8l2-1.2l2,2.8l2-1.9l2-.9l2-.3l2,.5l2-.9l2,1.5l2,2.3l2-.2l2-1.5l2-.8l2,.9l2-.2l2-1.4l2,.4l2,.6l2,1.1l2-2.5l2,.3l2,.7l2-1.2l2,2.9l2,1.6l2-2.9l2,1.1l2,.8l2-.6l2-.3l2-2.3l2,2.7l2,.1l2-4.9l2,4.5l2-4.7l2,4.5l2-1.9l2,.5l2,1.5l2,1l2-2.6l2,.5l2-.7l2,.1l2,1.4l2,1.1l2-1.9l2,1.5l2-2.6l2,1l2-2.1l2,1.9l2.1-5.5l2,2l2-.4l2-1.2l2,1.5l2-2l2,1.7l2-.3l2,1.2l2-.2l2,.9l2-1.9l2,1.3l2,.6l2-2.9l2-.8l2,1.4l2,3.4l2-7l2,3.8l2-1.9l2,.9l2,3.6l2-2.5l2-1.3l2-1.7l2,2.9l2,.3l2,6.2l2-2.6l2-.4l2,.7l2,2.2l2-.2l2-.4l2-1.5l2,1.9l2-.5l2,.6l2,3.4l2-4.5l2-.3l2,1.6l2-2.5l2,3.2l2-3.4l2,2.7l2-.6l2-1l2-.5l2-.6l2,2.6l2-1.7l2,2.9l2-2.8l2,.2l2,1.7l2-1.1l2-2.7l2,2.2l2,1l2-3.1l2,1.3l2,1.9l2-3.1l2,2.6l2-1l2,1.7l2-1.7l2-.8l2-.8l2,1.3l2,1.3l2,.2l2-.5l2,.4l2-1.3l2-1.2l2,.2l2,3.6l2,1l2-3.6l2-1.9l2,2.7l2-2.5l2,1.5l2-.4l2-2.5l2,3.1l2,15.7l2-4l2,3l2,.6l2-1.4l2-.4l2,.3l2,1.1l2-1.6l2-2.5l2-2.3l2-.7l2,2.1l2-.6l2-.8l2,1l2-.1l2-1.2l2.1,2.5l2,.4l2,2.5l2-2.8l2-.4l2,.5l2-1.9l2,.8l2,3.2l2-1.9l2-1l2-.8l2,1.3l2,1.3l2-1.5l2,1l2,1.4l2-2.2l2-2.7l2,5.4l2,.9l2,.6l2,.2l2-.1l2-2l2,1.2l2-.6l2,2.7l2-.7l2-.4l2-2.5l2,2.5l2-2.3l2,1.4l2,0l2-1.2l2,1.5l2-2.2l2,2l2,3.2l2-16l2,2.1l2-2l2-1l2-.3l2-.6l2,.7l2-.5l2-1l2,2.2l2,.2l2-.8l2-.7l2,1.3l2-1.1l2,1.7l2-2.4l2,.6l2,0l2-.4l2,0l2,3.2l2-3.6l2,3.3l2-2.2l2-1l2,1.9l2-1.5l2,.5l2-.9l2,1.8l2-.1l2-2.1l2,1.1l2,.9l2-1.8l2,1.8l2-.2l2-.4l2,1.3l2,.8l2-.4l2-1.5l2,.6l2-.9l2,.4l2-1.4l2-.3l2-1l2-1.1l2,.8l2,1.6l2-4.4l2,2.1l2-1l2,2.6l2-.2l2,1.5l2-3.2l2-6.3l2-.8l2,.2l2,1.4l2-.6l2-1.2l2,.9l2.1-.2l2,1.8l2,6.4l2,1.1l2-.5l2-.1l2,.3l2,.4l2-.4l2,.1l2-.5l2,2.6l2,0l2-1.3l2,.3l2,2.1l2-4.5l2,2.2l2,1.1l2-2.6l2,2.4l2-.2l2-1.8l2,1.7l2-.7l2,.1l2-1.1l2-1.3l2,4.3l2-.8l2,.6l2-1.7l2-.8l2,2.6l2-.7l2-.4l2,2.1l2-3.1l2,2l2-1l2-1.1l2-1.5l2,1.6l2-1.8l2,.4l2,1.8l2,1.6l2-.5l2-2.2l2,1.6l2-1.1l2,1.6l2-1.4l2,1.3l2,.1l2-.9l2,8.7l2,3.6l2-1.7l2-.3l2-1.8l2,2.5l2-3.1l2-.2l2,1.4l2,.5l2-2.1l2,1.7l2-1l2-.1l2-2.2l2-1.9l2,1.9l2,1.2l2,.3l2,.1l2-2.4l2-.6l2,.3l2-3.3l2,.6l2-1l2,1.1l2,0l2-1.3l2,1.6l2-1.5l2,1l2-1.4l2,1.1l2-.9l2,.4l2-4.4l2,1.9l2-146.8l2,1.5l2-1.5l2,.5l2,.8l2-4.3l2,2.4l2-.2l2-3l2,2.2l2,.3l2-.8l2,.1l2.1,153.8l2-1.9l2-.8l2,.2l2,3.2l2-5l2,1.9l2-.1l2-.2l2-1.6l2,4.3l2-1.8l2,1.5l2-3.2l2,.7l2-.3l2-.7l2,4.5l2-2.9l2,2.2l2-1.4l2,3.2l2-2.6l2-2.5l2,1.6l2-.5l2,1.7l2-2.9l2,.1l2,.6l2,.9l2-1.3l2,.4l2-2l2,2.7l2,.4l2-1.5l2,1.3l2,.1l2,.1l2-1.9l2,1.4l2,0l2-2.1l2-.1l2,.9l2,1.2l2-1.5l2-1.9l2,2.8l2-.8l2,.1l2-.7l2,1.9l2-1l2,.5l2-.6l2-.1l2,1.1l2-.5l2,.7l2-1.9l2,4.1l2,.2l2-1.6l2,2.8l2,.7l2-2.1l2,1.5l2-.1l2-7l2-.3l2-1.2l2,1.8l2-.1l2,.5l2-7l2-2l2,1.1l2-2.7l2-.5l2,1.1l2-3.4l2,1.8l2-1.1l2,1.3l2-2.4l2,2.4l2-1.5l2,.5l2-2l2,3.5l2,1.4l2-1.2l2,1.5l2-1l2-.3l2,3.6l2-1.8l2,3.7l2-1.8l2,2.6l2-1l2,.2l2-92.8l2,.5l2,3.1l2.1-2.8l2-1.9l2,2.2l2-.4l2,.2l2-.3l2,.2l2,1.3l2-3.9l2,2.2l2-1.1l2,1.4l2,1.8l2-.5l2-2.7l2,.4l2-.2l2-2l2,.9l2,2.1l2-.1l2-2.3l2,3l2-4.9l2,2.5l2,.1l2,.1l2,.5l2,1.1l2-1.2l2-3.4l2,3.2l2-1.3l2,.5l2,1.2l2-2.1l2,1l2,1.1l2-3.8l2,1l2-1l2,3.8l2-3.7l2,1.5l2-26.1l2-1.7l2-1.1l2,2.8l2-1.6l2-3.8l2,0l2-6l2,8.2l2,.5L1137.0,254.4l-2,0l-2-8l-2,5.8l-2,.3l-2,2.9l-2,1.6l-2-2.1l-2,.4l-2,2.5l-2,28.4l-2-1.3l-2,2.7l-2-2.8l-2,.8l-2-.7l-2,3.5l-2-.7l-2-.9l-2,2.4l-2-1.5l-2-.8l-2,1.5l-2-2.3l-2,2.6l-2,1.2l-2-1.4l-2-.3l-2-1l-2,.8l-2-2.7l-2,4l-2-3.7l-2,3.1l-2,.1l-2-2.8l-2,.5l-2,1.4l-2-.2l-2-.4l-2,2.7l-2,.5l-2-1.2l-2-1.1l-2,.5l-2-1.4l-2,3.8l-2-2.1l-2,.2l-2,.2l-2-.7l-2,1.1l-2-2l-2,1.4l-2.1,3l-2-2.8l-2-.7l-2,93.2l-2-1l-2,1.2l-2-2.1l-2,1l-2-3l-2,2l-2-3.2l-2,.1l-2,.7l-2-2.2l-2,1.4l-2-1.6l-2-3.5l-2,2.7l-2-.7l-2,1.8l-2-3l-2,3l-2-.5l-2-.7l-2,.3l-2,2.2l-2-1.8l-2,.3l-2,2.6l-2-.8l-2,3.6l-2,5.8l-2-.1l-2-.9l-2-.7l-2,.9l-2,.6l-2,5.9l-2,0l-2-.7l-2,1l-2,.3l-2-2.1l-2,.7l-2-.4l-2-3.7l-2,1.7l-2-.3l-2-1l-2-.4l-2,1.1l-2-.2l-2-.3l-2,1.3l-2-1.8l-2,.2l-2,.4l-2-.8l-2-1.5l-2,1.5l-2,1l-2-.1l-2-.7l-2-1.4l-2,3l-2-.3l-2-.7l-2,1.4l-2,.7l-2-1l-2-.1l-2,.3l-2,.9l-2-2.8l-2,1l-2-.7l-2,.8l-2,.1l-2-1.8l-2,1l-2,1.9l-2-1.2l-2,.7l-2-1.3l-2,1.2l-2,3.7l-2-4l-2,1.5l-2-1.8l-2,2.9l-2-4.3l-2,.2l-2,.8l-2-.7l-2,1.8l-2-.2l-2,2.6l-2-3.5l-2-.5l-2,.8l-2,.1l-2-1.5l-2,4.9l-2-2.7l-2-.4l-2-.6l-2,2.5l-2.1-153.7l-2,.3l-2,1.2l-2-.4l-2-1.9l-2,1.9l-2,.9l-2-2.5l-2,4.5l-2-1.3l-2,.7l-2,.5l-2-.7l-2,149l-2-.2l-2,1.9l-2,.6l-2-1.1l-2-.7l-2,1.5l-2-2.1l-2,1.7l-2-1.8l-2,.6l-2-.1l-2-1.7l-2,1.4l-2-1.1l-2,2.4l-2,.2l-2-.7l-2,2l-2-.3l-2-1.1l-2-.6l-2-2l-2,1.1l-2,1.4l-2,.4l-2,0l-2-2.4l-2,2.3l-2-.3l-2-1.6l-2-.6l-2,3.5l-2-3.3l-2,1.3l-2,1.2l-2,.4l-2-3.1l-2-12.6l-2,.3l-2-.1l-2-1.1l-2,1.6l-2-1.8l-2,.6l-2,.2l-2,.7l-2,0l-2,0l-2-2.8l-2,.6l-2,2.4l-2-3.4l-2,2.2l-2,.3l-2,1.1l-2-1.5l-2,2l-2-1.3l-2,.2l-2,1l-2-2.3l-2,.4l-2,1.5l-2-.5l-2,.5l-2-4.1l-2,1.5l-2,1.5l-2-1.1l-2,1.4l-2-1.6l-2,1.8l-2,.5l-2-3.5l-2,1.8l-2,.1l-2-1.6l-2,4.2l-2-2.3l-2-.3l-2,1.4l-2-1l-2-.8l-2-.2l-2,.5l-2-.6l-2-1.2l-2,1.3l-2-.8l-2,.9l-2-1.3l-2-6.7l-2-.9l-2.1-.5l-2,.7l-2-.1l-2,.7l-2-.8l-2-.9l-2,2.1l-2,6l-2,2.9l-2-1.4l-2-.3l-2-2.8l-2,2.6l-2-2.9l-2,3.6l-2-.7l-2-1.3l-2,1.2l-2,1l-2,.2l-2,1.4l-2-.8l-2,1.1l-2-.3l-2,.6l-2,.8l-2-.2l-2-2.3l-2,1.1l-2-.1l-2-1.1l-2,.7l-2,.4l-2-1.1l-2,2.1l-2-.6l-2-1.9l-2,1.8l-2-.8l-2,.1l-2-.8l-2,1l-2,2.2l-2-3.2l-2,2.7l-2-2.7l-2-.4l-2,1.8l-2-.7l-2-.3l-2,1.2l-2-1.9l-2,1.7l-2-1.5l-2,1.5l-2,1.4l-2-1.5l-2-2.2l-2,2.4l-2-.5l-2-.8l-2,.9l-2-.4l-2-.1l-2,3.2l-2-2.4l-2,15.3l-2-2.8l-2-1.8l-2,1.9l-2-1l-2,1.1l-2-.3l-2-.8l-2,1.2l-2-1.9l-2,3.1l-2,.4l-2,.1l-2-2.4l-2,.4l-2-.7l-2,1l-2,.7l-2,.3l-2-1.2l-2-.5l-2-5.5l-2,1.8l-2,3l-2-1.8l-2-1.4l-2,2.1l-2-1.1l-2-.6l-2-.2l-2,.7l-2,1.4l-2-2.9l-2,.2l-2,1.7l-2-.3l-2-.1l-2,3.1l-2-3.6l-2,.7l-2.1-2.1l-2,2l-2-.7l-2-.6l-2,.2l-2,.8l-2-1.4l-2-.7l-2,2.6l-2,3.8l-2,1.7l-2-2l-2,.3l-2,0l-2,1.5l-2-.9l-2-2.5l-2,3.1l-2-1.8l-2-2.5l-2,2.4l-2,.4l-2-1.8l-2,2.6l-2-3l-2,1.7l-2,3.1l-2-1.3l-2-3l-2-.2l-2,2.3l-2,.1l-2,0l-2,.1l-2,.1l-2-.7l-2-2.6l-2,1.2l-2,.9l-2,2.4l-2-1l-2-.9l-2-.8l-2,2.9l-2-2.3l-2-1.3l-2,2.8l-2-1l-2-1.3l-2,2.3l-2,.5l-2-.8l-2-.5l-2,2.7l-2-3.3l-2,2.2l-2-3.5l-2,1.1l-2,.7l-2,1.4l-2,.7l-2-3.2l-2,3.7l-2-3.8l-2,2.1l-2-1.8l-2,1.6l-2,2.3l-2-2.2l-2-.4l-2,.2l-2-.2l-2-.4l-2,1.3l-2,.2l-2-1.4l-2-1.1l-2-.3l-2,1.9l-2-5.9l-2,0l-2-1.6l-2,1.3l-2,0l-2,2.8l-2-2.9l-2-1.1l-2,2.2l-2-3.4l-2,6.3l-2-3.5l-2-1.3l-2,1l-2,1.5l-2,.6l-2-1.8l-2,2.7l-2-1.5l-2,.5l-2-.8l-2-.9l-2-1.1l-2,2.5l-2-1.6l-2,.3l-2,1.1l-2-.9l-2.1,6.2l-2-2.3l-2,.9l-2-.2l-2,1.5l-2-1.3l-2,1.5l-2-.4l-2-2.5l-2,1l-2,.5l-2-.6l-2,2.6l-2-.4l-2-1.8l-2-1l-2,1.5l-2-3.5l-2,4l-2-4.8l-2,5.1l-2-.4l-2-2.3l-2,1.5l-2-.2l-2,2.1l-2-2.1l-2,0l-2,1.8l-2-1.2l-2-2.3l-2,1.3l-2-1.1l-2-.1l-2,2.2l-2-.8l-2,.1l-2,0l-2-.2l-2,.1l-2-.5l-2,1.6l-2,.1l-2,.4l-2-1.6l-2-1.3l-2,1.6l-2-.6l-2-.8l-2,2.6l-2,.3l-2-2.3l-2,1.2l-2-.6Z" fill="#F9BA8F" fill-opacity="0.1"/>
<path d="M68.5,363.2l2-.5l2-.1l2,2.7l2-2.2l2,.1l2-.2l2,0l2-.8l2,2.3l2,1.9l2,0l2-2.3l2,.2l2,.7l2-.7l2-.9l2,0l2,.7l2,2.7l2-3.9l2,.2l2,.8l2-1.3l2,4l2,1.2l2-3.2l2,.9l2,2.1l2-1.5l2-.6l2-2.1l2,1.5l2,.8l2-4.6l2,3.5l2-5l2,5.6l2-3l2,2.1l2,.2l2,.9l2-2.3l2,.8l2-.9l2-1l2,2.5l2,.9l2-1.3l2,1.3l2-3.8l2,.3l2-1.5l2,2.7l2.1-5.3l2,1.2l2,1l2-1.5l2,.9l2-.9l2,.6l2-1l2,1.7l2,.7l2,.8l2-2l2,.7l2,1.8l2-3.1l2-1.2l2,.9l2,3.3l2-6.2l2,2.6l2-.7l2,.5l2,3.7l2-2.7l2,.1l2-3l2,3.7l2,.1l2,6.1l2-3.7l2,.2l2,1.8l2,1.2l2-.5l2,.6l2-2.6l2,2.1l2-.8l2,2.3l2,2.2l2-3.9l2-.8l2,2.3l2-2.4l2,2.6l2-3.4l2,3.1l2-.7l2-.8l2-.9l2-1.5l2,3.7l2-2.3l2,3.6l2-2.6l2,.3l2,.6l2-.7l2-3.5l2,2.7l2,1.7l2-3.9l2,.5l2,2.6l2-2.3l2,2.3l2-1.3l2,2.3l2-1.1l2-.7l2-.5l2-.2l2,2.2l2,.5l2-1.2l2,.4l2-1.1l2-.5l2-1.3l2,4.2l2,1l2-4.2l2-1.6l2,1.6l2-2.6l2,1.9l2-.4l2-1.8l2,2.8l2,14.7l2-4.1l2,3.5l2-.1l2-1.1l2,.1l2,1.1l2-.3l2-.3l2-2.6l2-2.6l2-.7l2,2.2l2,.1l2-1.3l2-.2l2,1l2-1.8l2.1,2.9l2,.9l2,3l2-2.4l2-1l2,.7l2-1.6l2-.1l2,4.4l2-1.6l2-.8l2-1.2l2,.1l2,2.8l2-3.5l2,1.9l2,1.3l2-3l2-2.6l2,7l2-.8l2,2l2-.8l2,.2l2-2l2,1.3l2-.8l2,2.6l2-.3l2-.6l2-1.7l2,2.6l2-3.1l2,1.8l2,0l2-1.2l2,1.7l2-2.6l2,2l2,4.2l2-17l2,1.1l2-1.1l2-1.6l2-.5l2-1.1l2,1l2-.5l2-1l2,3.3l2-1.4l2-.3l2-.9l2,1.6l2-1.5l2,2.6l2-3.4l2,.7l2,.2l2-.6l2,.1l2,3l2-3.8l2,4.6l2-3.5l2-1.6l2,2.7l2-.8l2-.2l2-.6l2,1.3l2-.1l2-2.1l2,.7l2,.7l2-.3l2,1.6l2-.8l2,.4l2,1.9l2-.7l2-.5l2-1.3l2,1.5l2-2.1l2,.9l2-1.2l2-.8l2-22.1l2-2.3l2,.5l2,1.9l2-3.9l2,2.9l2-1.5l2,2l2-.3l2,1.4l2-2.8l2-9.9l2,.8l2-.1l2,1l2,.1l2-2l2,.9l2.1-.2l2,2.5l2,9.9l2,.9l2,0l2-1.1l2,.4l2,1.6l2-2.2l2,.7l2,.2l2,4.5l2-1l2-.3l2,0l2,1.5l2-4.5l2,2.6l2,2.4l2-3.7l2,3.7l2-.7l2-2.7l2,1.1l2-.4l2,.9l2-.5l2-2.1l2,3.7l2,.4l2-.1l2-2l2-.8l2,2.2l2,.5l2-1.5l2,2.4l2-3.3l2,2.1l2-.7l2-2.2l2-1.1l2,1.5l2-1.5l2-1.1l2,3l2,2.3l2-1.2l2-2.3l2,1.8l2-1.6l2,3.1l2-1.9l2,1l2-.4l2,.2l2,8.4l2,3.5l2-1.1l2-1.1l2-2.2l2,3.9l2-3.4l2,.2l2,.5l2,1.2l2-1.8l2,1.2l2-1.4l2,0l2-2.1l2-2.2l2,2.8l2,.3l2,1.5l2-2.1l2-.9l2-.9l2,.6l2-3.9l2,1.2l2-.3l2,.1l2-.5l2-.8l2,1.2l2-.1l2,0l2-.8l2,1l2-1.6l2,.4l2-6l2,3l2-145.6l2,1.4l2-.2l2,.8l2,.8l2-5.5l2,3.8l2-.9l2-2.4l2,1.8l2,1.5l2-1.1l2-.9l2.1,153.7l2-1.9l2-.5l2,.7l2,3.1l2-5.8l2,1.7l2,1.5l2-1.5l2-.8l2,4.2l2-1.3l2,2.1l2-3.9l2,.2l2,.7l2-2.3l2,5.7l2-2.4l2,1.8l2-2l2,4.3l2-3.5l2-2.8l2,1.8l2-.6l2,1.1l2-2.2l2-.3l2,.7l2,1.6l2-2.3l2,.9l2-2.1l2,2l2,.7l2-2l2,1.1l2-.7l2,.7l2-1.3l2,.4l2-.1l2-1.7l2,1l2,.6l2,1.7l2-1.6l2-1.7l2,3.2l2-2l2,.9l2-.3l2,1.4l2-.8l2,.1l2-.9l2,.1l2,2.3l2-.6l2-.4l2-1.3l2,3.8l2,.7l2-3l2,3.4l2,1.3l2-2.7l2,1.5l2-.2l2-7.4l2,.6l2-2.2l2,1.7l2,.5l2,1.2l2-2.4l2-8.7l2,1.1l2-3.5l2-.4l2,2l2-4.2l2,3.3l2-1.6l2,.5l2-2.6l2,3.8l2-2.6l2,.6l2-2.6l2,5.1l2-.1l2-1.1l2,1.4l2-1.8l2,.6l2,3.9l2-1.7l2,4.9l2-3.1l2,2.8l2-1.3l2,1.4l2-92.1l2,1.4l2,2.1l2.1-3.5l2-1.4l2,2.2l2,.1l2,0l2-.6l2,0l2,2.6l2-4l2,2.2l2-1.5l2,1.7l2,1.3l2-.3l2-2.9l2,.2l2-.3l2-1.3l2,.9l2,2.9l2-.5l2-3.4l2,2.9l2-3.9l2,1.4l2-.5l2,.6l2,.2l2,1.5l2-1.9l2-2.8l2,2.5l2-1.2l2,.2l2,1l2-1.2l2,1l2,17.6l2-4l2,1.5l2,.1l2,2.4l2-16.7l2,2.9l2-14.5l2-2.1l2-.3l2,2.2l2-1.7l2-4.3l2-.9l2,1.1l2,2.4l2-.3L1137.0,241.2l-2-.5l-2-8.2l-2,6l-2,0l-2,3.8l-2,1.6l-2-2.8l-2,1.1l-2,1.7l-2,26.1l-2-1.5l-2,3.7l-2-3.8l-2,1l-2-1l-2,3.8l-2-1.1l-2-1l-2,2.1l-2-1.2l-2-.5l-2,1.3l-2-3.2l-2,3.4l-2,1.2l-2-1.1l-2-.5l-2-.1l-2-.1l-2-2.5l-2,4.9l-2-3l-2,2.3l-2,.1l-2-2.1l-2-.9l-2,2l-2,.2l-2-.4l-2,2.7l-2,.5l-2-1.8l-2-1.4l-2,1.1l-2-2.2l-2,3.9l-2-1.3l-2-.2l-2,.3l-2-.2l-2,.4l-2-2.2l-2,1.9l-2.1,2.8l-2-3.1l-2-.5l-2,92.8l-2-.2l-2,1l-2-2.6l-2,1.8l-2-3.7l-2,1.8l-2-3.6l-2,.3l-2,1l-2-1.5l-2,1.2l-2-1.4l-2-3.5l-2,2l-2-.5l-2,1.5l-2-2.4l-2,2.4l-2-1.3l-2,1.1l-2-1.8l-2,3.4l-2-1.1l-2,.5l-2,2.7l-2-1.1l-2,2l-2,7l-2-.5l-2,.1l-2-1.8l-2,1.2l-2,.3l-2,7l-2,.1l-2-1.5l-2,2.1l-2-.7l-2-2.8l-2,1.6l-2-.2l-2-4.1l-2,1.9l-2-.7l-2,.5l-2-1.1l-2,.1l-2,.6l-2-.5l-2,1l-2-1.9l-2,.7l-2-.1l-2,.8l-2-2.8l-2,1.9l-2,1.5l-2-1.2l-2-.9l-2,.1l-2,2.1l-2,0l-2-1.4l-2,1.9l-2-.1l-2-.1l-2-1.3l-2,1.5l-2-.4l-2-2.7l-2,2l-2-.4l-2,1.3l-2-.9l-2-.6l-2-.1l-2,2.9l-2-1.7l-2,.5l-2-1.6l-2,2.5l-2,2.6l-2-3.2l-2,1.4l-2-2.2l-2,2.9l-2-4.5l-2,.7l-2,.3l-2-.7l-2,3.2l-2-1.5l-2,1.8l-2-4.3l-2,1.6l-2,.2l-2,.1l-2-1.9l-2,5l-2-3.2l-2-.2l-2,.8l-2,1.9l-2.1-153.8l-2-.1l-2,.8l-2-.3l-2-2.2l-2,3l-2,.2l-2-2.4l-2,4.3l-2-.8l-2-.5l-2,1.5l-2-1.5l-2,146.8l-2-1.9l-2,4.4l-2-.4l-2,.9l-2-1.1l-2,1.4l-2-1l-2,1.5l-2-1.6l-2,1.3l-2,0l-2-1.1l-2,1l-2-.6l-2,3.3l-2-.3l-2,.6l-2,2.4l-2-.1l-2-.3l-2-1.2l-2-1.9l-2,1.9l-2,2.2l-2,.1l-2,1l-2-1.7l-2,2.1l-2-.5l-2-1.4l-2,.2l-2,3.1l-2-2.5l-2,1.8l-2,.3l-2,1.7l-2-3.6l-2-8.7l-2,.9l-2-.1l-2-1.3l-2,1.4l-2-1.6l-2,1.1l-2-1.6l-2,2.2l-2,.5l-2-1.6l-2-1.8l-2-.4l-2,1.8l-2-1.6l-2,1.5l-2,1.1l-2,1l-2-2l-2,3.1l-2-2.1l-2,.4l-2,.7l-2-2.6l-2,.8l-2,1.7l-2-.6l-2,.8l-2-4.3l-2,1.3l-2,1.1l-2-.1l-2,.7l-2-1.7l-2,1.8l-2,.2l-2-2.4l-2,2.6l-2-1.1l-2-2.2l-2,4.5l-2-2.1l-2-.3l-2,1.3l-2,0l-2-2.6l-2,.5l-2-.1l-2,.4l-2-.4l-2-.3l-2,.1l-2,.5l-2-1.1l-2-6.4l-2-1.8l-2.1,.2l-2-.9l-2,1.2l-2,.6l-2-1.4l-2-.2l-2,.8l-2,6.3l-2,3.2l-2-1.5l-2,.2l-2-2.6l-2,1l-2-2.1l-2,4.4l-2-1.6l-2-.8l-2,1.1l-2,1l-2,.3l-2,1.4l-2-.4l-2,.9l-2-.6l-2,1.5l-2,.4l-2-.8l-2-1.3l-2,.4l-2,.2l-2-1.8l-2,1.8l-2-.9l-2-1.1l-2,2.1l-2,.1l-2-1.8l-2,.9l-2-.5l-2,1.5l-2-1.9l-2,1l-2,2.2l-2-3.3l-2,3.6l-2-3.2l-2,0l-2,.4l-2,0l-2-.6l-2,2.4l-2-1.7l-2,1.1l-2-1.3l-2,.7l-2,.8l-2-.2l-2-2.2l-2,1l-2,.5l-2-.7l-2,.6l-2,.3l-2,1l-2,2l-2-2.1l-2,16l-2-3.2l-2-2l-2,2.2l-2-1.5l-2,1.2l-2,0l-2-1.4l-2,2.3l-2-2.5l-2,2.5l-2,.4l-2,.7l-2-2.7l-2,.6l-2-1.2l-2,2l-2,.1l-2-.2l-2-.6l-2-.9l-2-5.4l-2,2.7l-2,2.2l-2-1.4l-2-1l-2,1.5l-2-1.3l-2-1.3l-2,.8l-2,1l-2,1.9l-2-3.2l-2-.8l-2,1.9l-2-.5l-2,.4l-2,2.8l-2-2.5l-2-.4l-2.1-2.5l-2,1.2l-2,.1l-2-1l-2,.8l-2,.6l-2-2.1l-2,.7l-2,2.3l-2,2.5l-2,1.6l-2-1.1l-2-.3l-2,.4l-2,1.4l-2-.6l-2-3l-2,4l-2-15.7l-2-3.1l-2,2.5l-2,.4l-2-1.5l-2,2.5l-2-2.7l-2,1.9l-2,3.6l-2-1l-2-3.6l-2-.2l-2,1.2l-2,1.3l-2-.4l-2,.5l-2-.2l-2-1.3l-2-1.3l-2,.8l-2,.8l-2,1.7l-2-1.7l-2,1l-2-2.6l-2,3.1l-2-1.9l-2-1.3l-2,3.1l-2-1l-2-2.2l-2,2.7l-2,1.1l-2-1.7l-2-.2l-2,2.8l-2-2.9l-2,1.7l-2-2.6l-2,.6l-2,.5l-2,1l-2,.6l-2-2.7l-2,3.4l-2-3.2l-2,2.5l-2-1.6l-2,.3l-2,4.5l-2-3.4l-2-.6l-2,.5l-2-1.9l-2,1.5l-2,.4l-2,.2l-2-2.2l-2-.7l-2,.4l-2,2.6l-2-6.2l-2-.3l-2-2.9l-2,1.7l-2,1.3l-2,2.5l-2-3.6l-2-.9l-2,1.9l-2-3.8l-2,7l-2-3.4l-2-1.4l-2,.8l-2,2.9l-2-.6l-2-1.3l-2,1.9l-2-.9l-2,.2l-2-1.2l-2,.3l-2-1.7l-2,2l-2-1.5l-2,1.2l-2,.4l-2-2l-2.1,5.5l-2-1.9l-2,2.1l-2-1l-2,2.6l-2-1.5l-2,1.9l-2-1.1l-2-1.4l-2-.1l-2,.7l-2-.5l-2,2.6l-2-1l-2-1.5l-2-.5l-2,1.9l-2-4.5l-2,4.7l-2-4.5l-2,4.9l-2-.1l-2-2.7l-2,2.3l-2,.3l-2,.6l-2-.8l-2-1.1l-2,2.9l-2-1.6l-2-2.9l-2,1.2l-2-.7l-2-.3l-2,2.5l-2-1.1l-2-.6l-2-.4l-2,1.4l-2,.2l-2-.9l-2,.8l-2,1.5l-2,.2l-2-2.3l-2-1.5l-2,.9l-2-.5l-2,.3l-2,.9l-2,1.9l-2-2.8l-2,1.2l-2-.8Z" fill="#629E51" fill-opacity="0.1"/>
<path d="M68.5,353.4l2-1.4l2,1l2,2.2l2-2.8l2,1.4l2-.4l2-.3l2-1.5l2,2.2l2,2.5l2,.1l2-2.6l2,.3l2,1.2l2-.4l2-.9l2,.2l2-.1l2,1.8l2-2.7l2,.7l2-.5l2-.8l2,4.5l2,1.3l2-4.5l2,2.7l2,1.2l2-2l2,.1l2-2.5l2,.9l2,2.2l2-5.8l2,4.1l2-5.3l2,6.4l2-3l2,1.8l2-.8l2,1.5l2-2.2l2,.7l2-1.7l2-.1l2,3l2,.6l2-2.8l2,3.1l2-5.3l2,.8l2-.4l2,2.3l2.1-5.9l2,2.1l2,.7l2-1.3l2,.7l2-1.4l2,.5l2-1.1l2,2.6l2,.4l2,.6l2-1.4l2,9.1l2,1.2l2-2.2l2-1.9l2,2.4l2,2.7l2-6.8l2,2.4l2-.3l2,.4l2,3.2l2-1.9l2-.7l2-1.6l2,2.9l2-.2l2,6.3l2-3.1l2-.3l2,3.2l2-.7l2,0l2,.7l2-3.1l2,1.5l2-.4l2,3.7l2,1.9l2-4.5l2-.8l2,2.6l2-2.7l2,2.2l2-3.8l2,4l2-1.2l2-.8l2-.6l2-2l2,3.9l2-2.6l2,4.1l2-4l2,2.1l2,.1l2-.2l2-4.1l2,3.3l2,1.2l2-3.6l2,.1l2,2.4l2-1.5l2,2l2-.6l2,1.3l2-.4l2-1.3l2,.8l2-2l2,1.9l2,1.2l2-1.2l2,1.8l2-1.6l2-.3l2-1.9l2,3.9l2,1.4l2-4.1l2-2.4l2,2l2-2.7l2,2.6l2-1.6l2-1.1l2,1.5l2,16.1l2-4.7l2,4.3l2-1.3l2-.3l2-.4l2,1.1l2,.8l2-.6l2-2.1l2-4.1l2,.5l2,1.7l2,.7l2-2.9l2,.2l2,1.9l2-1.6l2.1,2.1l2,1.4l2,3.4l2-2.9l2-.6l2,0l2-1.8l2,.4l2,4l2-1.9l2-.3l2-1.1l2,.5l2,2.7l2-4.3l2,2.6l2,.8l2-2.6l2-3l2,7.5l2-.9l2,1l2,.9l2-.5l2-2.2l2,1.8l2-2.5l2,3.5l2-1.3l2,1l2-2l2,2.5l2-2.9l2,2.4l2-.8l2-1.2l2,2.4l2-3.3l2,1.7l2,3.9l2-16.1l2,1.4l2-.8l2-2.1l2-.5l2,0l2,.2l2-1.1l2,.3l2,2.5l2-1.5l2-.9l2-.2l2,1.7l2-1.3l2,2.4l2-4.8l2,1.6l2,.5l2-.5l2,.3l2,2.6l2-3.4l2,3.9l2-3.9l2-1.1l2,3.1l2-1.7l2,.8l2-.7l2,2l2-1.2l2-1.9l2,.9l2,.3l2-.1l2,1.9l2-1.4l2,.6l2,1.4l2-.9l2,.4l2-.3l2,.7l2-2.6l2,.9l2-1.1l2-1.4l2-20.5l2-3.1l2-.4l2,2.4l2-4.2l2,3.2l2-1.5l2,2.4l2-.5l2,2.2l2-4.5l2-9.8l2,2l2-.4l2,1.1l2,.4l2-2.8l2,.8l2.1-.7l2,3.4l2,10.4l2-.3l2,.6l2-.8l2,0l2,.8l2-.5l2-.6l2,1.1l2,4.1l2-.6l2-.8l2-.2l2,1l2-4.1l2,2.6l2,2.3l2-3l2,3.8l2-.6l2-3.5l2,2.6l2-2.1l2,2.1l2-2.5l2-.2l2,3l2,.6l2-.4l2-1l2-1.9l2,2.3l2,.6l2-.7l2,1.5l2-3.4l2,2.3l2-.8l2-2l2-.3l2,.5l2,0l2-2.4l2,3.4l2,2l2-1.8l2-1.2l2,2.3l2-2.7l2,3.3l2-2.6l2,1.3l2-.1l2,0l2,9.6l2,1.8l2-.5l2-.3l2-2.5l2,4l2-3.9l2-.2l2,1.8l2,.3l2-2.2l2,1.4l2-1.3l2-.6l2-.8l2-1.4l2,1.3l2,.6l2,2l2-2.8l2-1.3l2-.2l2,.7l2-4.1l2,1.3l2-.4l2,.2l2-.7l2-1.1l2,1.6l2,.6l2-.7l2-1.4l2,.7l2-.7l2,.2l2-6.2l2,3l2-145.1l2,1l2-.3l2,1.9l2,.3l2-5.5l2,2.7l2-.5l2-1.5l2,1.6l2,1.2l2-1.6l2-.6l2.1,152.5l2-.3l2-1.3l2,1.3l2,3.2l2-6.2l2,1.8l2,.7l2-.8l2-.5l2,4.4l2-1.5l2,1.7l2-3.6l2,.7l2,.7l2-3.1l2,6.3l2-3.8l2,2.9l2-1.3l2,3.5l2-3l2-3.1l2,1.9l2-1.3l2,1.9l2-1.9l2-.5l2,.8l2,1.2l2-2.4l2,.4l2-1.1l2,2.3l2-.3l2-2l2,1.9l2-1.2l2,.4l2-1.3l2,.5l2-.3l2-1.9l2,1.3l2,.6l2,2.1l2-1.4l2-3.3l2,4.4l2-2.3l2,.2l2,1.1l2,.9l2-.9l2,.7l2-1.9l2,.6l2,1.8l2,0l2,.5l2-2l2,2.9l2,1l2-2.4l2,3.1l2,2.2l2-3.3l2,1.2l2,.7l2-7.6l2-.6l2-2.1l2,1.9l2,.8l2,.8l2-9.7l2-1.1l2,1.3l2-3.7l2-.4l2,1.2l2-2.6l2,2.6l2-.8l2-1.2l2-1.5l2,3.3l2-1.7l2,.2l2-3l2,4.8l2,.1l2-.1l2,.4l2-1.2l2,0l2,4.5l2-2.6l2,5.4l2-3.3l2,3.6l2-1.2l2,.9l2-93.2l2,2.7l2,2l2.1-4.3l2-.9l2,2.6l2,.5l2-1l2-.4l2,.7l2,1.9l2-4.2l2,1.5l2,.4l2,.7l2,1.5l2-1l2-3l2,1.6l2-1.2l2-.8l2,1.2l2,3.5l2-2l2-3.6l2,4.4l2-4.5l2,.6l2,.5l2-.4l2,.2l2,2.2l2-1.9l2-3.1l2,2.4l2-1.8l2,1.2l2,0l2,.1l2,1.5l2,17l2-4.3l2,.4l2,.8l2,2.7l2-17.9l2,3.8l2-22.8l2,6l2-.3l2,3.3l2-3l2-3.5l2-.7l2-7l2,10.2l2,0L1137.0,229.5l-2,.3l-2-2.4l-2-1.1l-2,.9l-2,4.3l-2,1.7l-2-2.2l-2,.3l-2,2.1l-2,14.5l-2-2.9l-2,16.7l-2-2.4l-2-.1l-2-1.5l-2,4l-2-17.6l-2-1l-2,1.2l-2-1l-2-.2l-2,1.2l-2-2.5l-2,2.8l-2,1.9l-2-1.5l-2-.2l-2-.6l-2,.5l-2-1.4l-2,3.9l-2-2.9l-2,3.4l-2,.5l-2-2.9l-2-.9l-2,1.3l-2,.3l-2-.2l-2,2.9l-2,.3l-2-1.3l-2-1.7l-2,1.5l-2-2.2l-2,4l-2-2.6l-2,0l-2,.6l-2,0l-2-.1l-2-2.2l-2,1.4l-2.1,3.5l-2-2.1l-2-1.4l-2,92.1l-2-1.4l-2,1.3l-2-2.8l-2,3.1l-2-4.9l-2,1.7l-2-3.9l-2-.6l-2,1.8l-2-1.4l-2,1.1l-2,.1l-2-5.1l-2,2.6l-2-.6l-2,2.6l-2-3.8l-2,2.6l-2-.5l-2,1.6l-2-3.3l-2,4.2l-2-2l-2,.4l-2,3.5l-2-1.1l-2,8.7l-2,2.4l-2-1.2l-2-.5l-2-1.7l-2,2.2l-2-.6l-2,7.4l-2,.2l-2-1.5l-2,2.7l-2-1.3l-2-3.4l-2,3l-2-.7l-2-3.8l-2,1.3l-2,.4l-2,.6l-2-2.3l-2-.1l-2,.9l-2-.1l-2,.8l-2-1.4l-2,.3l-2-.9l-2,2l-2-3.2l-2,1.7l-2,1.6l-2-1.7l-2-.6l-2-1l-2,1.7l-2,.1l-2-.4l-2,1.3l-2-.7l-2,.7l-2-1.1l-2,2l-2-.7l-2-2l-2,2.1l-2-.9l-2,2.3l-2-1.6l-2-.7l-2,.3l-2,2.2l-2-1.1l-2,.6l-2-1.8l-2,2.8l-2,3.5l-2-4.3l-2,2l-2-1.8l-2,2.4l-2-5.7l-2,2.3l-2-.7l-2-.2l-2,3.9l-2-2.1l-2,1.3l-2-4.2l-2,.8l-2,1.5l-2-1.5l-2-1.7l-2,5.8l-2-3.1l-2-.7l-2,.5l-2,1.9l-2.1-153.7l-2,.9l-2,1.1l-2-1.5l-2-1.8l-2,2.4l-2,.9l-2-3.8l-2,5.5l-2-.8l-2-.8l-2,.2l-2-1.4l-2,145.6l-2-3l-2,6l-2-.4l-2,1.6l-2-1l-2,.8l-2,0l-2,.1l-2-1.2l-2,.8l-2,.5l-2-.1l-2,.3l-2-1.2l-2,3.9l-2-.6l-2,.9l-2,.9l-2,2.1l-2-1.5l-2-.3l-2-2.8l-2,2.2l-2,2.1l-2,0l-2,1.4l-2-1.2l-2,1.8l-2-1.2l-2-.5l-2-.2l-2,3.4l-2-3.9l-2,2.2l-2,1.1l-2,1.1l-2-3.5l-2-8.4l-2-.2l-2,.4l-2-1l-2,1.9l-2-3.1l-2,1.6l-2-1.8l-2,2.3l-2,1.2l-2-2.3l-2-3l-2,1.1l-2,1.5l-2-1.5l-2,1.1l-2,2.2l-2,.7l-2-2.1l-2,3.3l-2-2.4l-2,1.5l-2-.5l-2-2.2l-2,.8l-2,2l-2,.1l-2-.4l-2-3.7l-2,2.1l-2,.5l-2-.9l-2,.4l-2-1.1l-2,2.7l-2,.7l-2-3.7l-2,3.7l-2-2.4l-2-2.6l-2,4.5l-2-1.5l-2,0l-2,.3l-2,1l-2-4.5l-2-.2l-2-.7l-2,2.2l-2-1.6l-2-.4l-2,1.1l-2,0l-2-.9l-2-9.9l-2-2.5l-2.1,.2l-2-.9l-2,2l-2-.1l-2-1l-2,.1l-2-.8l-2,9.9l-2,2.8l-2-1.4l-2,.3l-2-2l-2,1.5l-2-2.9l-2,3.9l-2-1.9l-2-.5l-2,2.3l-2,22.1l-2,.8l-2,1.2l-2-.9l-2,2.1l-2-1.5l-2,1.3l-2,.5l-2,.7l-2-1.9l-2-.4l-2,.8l-2-1.6l-2,.3l-2-.7l-2-.7l-2,2.1l-2,.1l-2-1.3l-2,.6l-2,.2l-2,.8l-2-2.7l-2,1.6l-2,3.5l-2-4.6l-2,3.8l-2-3l-2-.1l-2,.6l-2-.2l-2-.7l-2,3.4l-2-2.6l-2,1.5l-2-1.6l-2,.9l-2,.3l-2,1.4l-2-3.3l-2,1l-2,.5l-2-1l-2,1.1l-2,.5l-2,1.6l-2,1.1l-2-1.1l-2,17l-2-4.2l-2-2l-2,2.6l-2-1.7l-2,1.2l-2,0l-2-1.8l-2,3.1l-2-2.6l-2,1.7l-2,.6l-2,.3l-2-2.6l-2,.8l-2-1.3l-2,2l-2-.2l-2,.8l-2-2l-2,.8l-2-7l-2,2.6l-2,3l-2-1.3l-2-1.9l-2,3.5l-2-2.8l-2-.1l-2,1.2l-2,.8l-2,1.6l-2-4.4l-2,.1l-2,1.6l-2-.7l-2,1l-2,2.4l-2-3l-2-.9l-2.1-2.9l-2,1.8l-2-1l-2,.2l-2,1.3l-2-.1l-2-2.2l-2,.7l-2,2.6l-2,2.6l-2,.3l-2,.3l-2-1.1l-2-.1l-2,1.1l-2,.1l-2-3.5l-2,4.1l-2-14.7l-2-2.8l-2,1.8l-2,.4l-2-1.9l-2,2.6l-2-1.6l-2,1.6l-2,4.2l-2-1l-2-4.2l-2,1.3l-2,.5l-2,1.1l-2-.4l-2,1.2l-2-.5l-2-2.2l-2,.2l-2,.5l-2,.7l-2,1.1l-2-2.3l-2,1.3l-2-2.3l-2,2.3l-2-2.6l-2-.5l-2,3.9l-2-1.7l-2-2.7l-2,3.5l-2,.7l-2-.6l-2-.3l-2,2.6l-2-3.6l-2,2.3l-2-3.7l-2,1.5l-2,.9l-2,.8l-2,.7l-2-3.1l-2,3.4l-2-2.6l-2,2.4l-2-2.3l-2,.8l-2,3.9l-2-2.2l-2-2.3l-2,.8l-2-2.1l-2,2.6l-2-.6l-2,.5l-2-1.2l-2-1.8l-2-.2l-2,3.7l-2-6.1l-2-.1l-2-3.7l-2,3l-2-.1l-2,2.7l-2-3.7l-2-.5l-2,.7l-2-2.6l-2,6.2l-2-3.3l-2-.9l-2,1.2l-2,3.1l-2-1.8l-2-.7l-2,2l-2-.8l-2-.7l-2-1.7l-2,1l-2-.6l-2,.9l-2-.9l-2,1.5l-2-1l-2-1.2l-2.1,5.3l-2-2.7l-2,1.5l-2-.3l-2,3.8l-2-1.3l-2,1.3l-2-.9l-2-2.5l-2,1l-2,.9l-2-.8l-2,2.3l-2-.9l-2-.2l-2-2.1l-2,3l-2-5.6l-2,5l-2-3.5l-2,4.6l-2-.8l-2-1.5l-2,2.1l-2,.6l-2,1.5l-2-2.1l-2-.9l-2,3.2l-2-1.2l-2-4l-2,1.3l-2-.8l-2-.2l-2,3.9l-2-2.7l-2-.7l-2,0l-2,.9l-2,.7l-2-.7l-2-.2l-2,2.3l-2,0l-2-1.9l-2-2.3l-2,.8l-2,0l-2,.2l-2-.1l-2,2.2l-2-2.7l-2,.1l-2,.5Z" fill="#64B0C8" fill-opacity="0.1"/>
<rect x="68.5" y="563.6" width="1068.5" height="5.4" fill="#3a3320" fill-opacity=".55"/>
<path d="M68.5,569.4H1137.0" stroke="#7EB26D" stroke-width="1.2"/>
<path d="M68.5,564.9H1137.0" stroke="#D9A23A" stroke-width=".9"/>
<path d="M68.5,563.5H1137.0" stroke="#6ED0E0" stroke-width="1.25"/>
<path d="M68.5,551.3l1-.4l1-.2l1,.2l1,.2l1,0l1,0l1,.1l1-.3l1,.4l1-.3l1-.1l1,.2l1-.2l1,.2l1-.1l1,0l1,0l1-.1l1,.1l1,0l1,.1l1-.1l1,0l1,0l1,.1l1,0l1,0l1-.3l1,0l1,.3l1-.2l1,0l1,.2l1-.2l1,0l1-.1l1,.3l1,0l1,.1l1-.6l1,.3l1,.3l1-.2l1-.2l1,.2l1,0l1-.2l1-.1l1,.4l1-.1l1-.1l1,.4l1-.2l1-.2l1,.2l1,0l1-.1l1,0l1,.1l1-.4l1,.2l1-.1l1,.4l1-.1l1-.3l1,.2l1-.2l1,0l1,.2l1-.1l1,.3l1-.4l1,0l1,.2l1-.3l1,.3l1,0l1,0l1,.1l1-.1l1-.2l1,.1l1,0l1,.2l1-.3l1,.3l1-.3l1,.3l1-.3l1-.1l1,.5l1-.2l1-.1l1,0l1,0l1,.2l1-.3l1,.2l1,.1l1,0l1-.2l1,.1l1,.1l1-.1l1-.2l1,.1l1.1,0l1,.2l1,0l1,.1l1-.4l1,0l1-.1l1,.3l1,0l1,0l1,0l1,.2l1-.2l1-.1l1-.1l1,.1l1,.1l1,.1l1-.1l1,.1l1,.1l1,.1l1-.3l1,.2l1,7.4l1,.1l1-.4l1,.4l1,0l1,.1l1,0l1-.2l1,0l1,0l1-.1l1-.1l1,.2l1-.1l1,.1l1,.2l1-.2l1-.2l1,.4l1,.2l1-.1l1-.6l1,.5l1,0l1-.1l1,0l1,.1l1-.1l1-.1l1-.3l1,.1l1,.3l1,.1l1-.1l1,0l1-.1l1,.2l1-.2l1,.1l1-.3l1,.2l1-.1l1,0l1,.1l1,0l1,0l1,0l1,.2l1,0l1,0l1,0l1-.1l1-.3l1,.3l1,0l1,0l1-.2l1,.4l1-.3l1,0l1-.1l1,.2l1,0l1-.4l1,.3l1,0l1,0l1-.1l1,.1l1,0l1-.1l1,.1l1,.2l1-.1l1,0l1,0l1-.4l1,.2l1,.3l1-.2l1,0l1,.3l1-.3l1,0l1,0l1,0l1,.1l1-.1l1-.2l1,.3l1-.2l1,.2l1-.1l1-.1l1,0l1,.3l1-.4l1,.2l1-.2l1,.2l1-.1l1,.1l1,.1l1-.2l1,.2l1-.3l1,0l1,.1l1,0l1,.2l1-.3l1,.2l1-.1l1,.5l1-.4l1-.1l1,.2l1,0l1-.2l1,0l1,.1l1-.1l1,.1l1,.1l1-.3l1,.4l1-.2l1-.2l1,.1l1-.1l1,0l1,.2l1-.1l1,.2l1-.1l1,0l1-.1l1,.1l1-.2l1,.3l1,.2l1-.4l1,.2l1,.1l1-.2l1-.1l1,.2l1-.1l1,0l1,.1l1-.2l1,.5l1-.5l1-.3l1,.4l1-.1l1,.1l1,.1l1-.1l1,0l1-.1l1,.2l1-.2l1-.1l1,.3l1-.1l1,.1l1-.1l1,.1l1-.2l1-.1l1,.1l1,.2l1-.1l1,0l1-.1l1,.1l1,.1l1-.3l1,.2l1,.1l1,.1l1-.1l1-.3l1,.1l1,0l1,.3l1-.3l1,.1l1-.1l1.1-.2l1,.1l1,.2l1-.2l1,.3l1,0l1-.1l1-.3l1,.4l1-.2l1-.3l1,.6l1-.1l1,0l1-.1l1-.1l1,.2l1,0l1,0l1-.2l1,.3l1-.2l1-.2l1,.1l1,.1l1,0l1-.1l1,.2l1-.1l1,.2l1-.3l1,.2l1-.3l1,.3l1-.1l1,.1l1,0l1,0l1,0l1-.2l1,.4l1-.4l1,.3l1-.2l1,.2l1,.1l1-.4l1,.2l1,0l1,0l1,0l1,.1l1-.4l1,.5l1-.3l1-.2l1,0l1,.3l1-.2l1,.3l1-.2l1-.1l1-.2l1,.4l1-.5l1,.3l1,0l1,.1l1,0l1-.1l1,.1l1,.2l1-.3l1,0l1,.1l1-.2l1,0l1,.4l1-.1l1-.3l1,0l1,.2l1,.2l1-.3l1,0l1,0l1-.1l1,0l1,.2l1,0l1-.1l1,.1l1,.1l1-.2l1,0l1,.3l1,0l1-.3l1,.2l1-.1l1,.1l1-.3l1,.2l1,0l1-.1l1,0l1,.2l1-.1l1,.2l1-.1l1-.1l1,0l1,.1l1,0l1-.1l1,.1l1-.2l1,.2l1-.3l1,.1l1,.3l1,0l1-.4l1-.1l1,.3l1-.1l1,.1l1,0l1,0l1,.2l1-.5l1,.3l1,0l1,.1l1-.2l1,.2l1-.3l1,.3l1,.3l1-.6l1,.2l1,0l1,0l1,0l1,.1l1-.2l1,.2l1-.1l1-.3l1,.3l1,0l1,.1l1-.3l1,.5l1-.4l1,.1l1,.1l1-.4l1,.1l1,.4l1-.1l1,.2l1-.1l1-.3l1-.2l1,.3l1,.4l1-.4l1,0l1,.2l1-.1l1-.2l1,.1l1,0l1-.1l1,.1l1-16l1-.1l1,0l1,.1l1-.1l1,.1l1-.1l1,.1l1,.2l1-.2l1,.3l1-.2l1-.2l1,0l1-.1l1,.2l1-.1l1,.3l1-.1l1-.3l1,.2l1,.2l1-.5l1,.2l1,.1l1-.2l1,.2l1,0l1,0l1-.1l1-.1l1,.1l1,0l1,.4l1-.4l1,.3l1-.2l1.1-.2l1,.4l1-.3l1,.1l1-.2l1,.3l1-.2l1,0l1,0l1,.2l1-.1l1,0l1-.1l1,0l1,.1l1-.1l1-.2l1,.3l1-.1l1,.2l1,.1l1-.3l1,.1l1,0l1-.2l1,0l1,.1l1,.1l1,.2l1-.2l1,.2l1-.2l1,.1l1-.2l1,.3l1-.1l1-.1l1,.2l1-.3l1,.1l1,0l1,0l1,.1l1-.1l1-.2l1,0l1,.1l1,0l1-.1l1,.2l1-.1l1,.1l1,0l1,0l1,.1l1-.2l1,0l1,.2l1-.1l1,0l1-.1l1,.2l1-.1l1-.1l1,0l1,.1l1-.1l1,0l1,.1l1,0l1,.2l1-.2l1,.1l1,.1l1-.3l1,.3l1-.4l1,.3l1-.2l1,0l1,0l1,.3l1-.2l1,0l1-.1l1,.2l1-.3l1,.5l1-.3l1-.2l1,.4l1,.1l1,0l1-.1l1-.1l1-.2l1-.4l1,.5l1,0l1-.1l1-.1l1,0l1,0l1-.1l1,.5l1-.2l1,.1l1,.1l1,0l1-.2l1,0l1,.3l1-.3l1,.3l1,0l1-.2l1-.3l1,.3l1,0l1-.4l1,.5l1-.1l1-.2l1,.1l1,0l1,0l1-.1l1,0l1,.1l1,.1l1,.1l1-.5l1,.4l1-.1l1,.1l1-.1l1,0l1,.1l1,.1l1-.2l1-.2l1,.3l1,0l1-.4l1,.3l1,.1l1,0l1-.1l1,.4l1-.3l1-.2l1-.2l1,.1l1,.2l1,0l1,0l1-.1l1,0l1,.1l1,.1l1-.1l1,.1l1-.1l1,0l1,.1l1-.1l1,0l1,.1l1-.1l1-.1l1,.1l1,.1l1-.3l1,.2l1,.3l1-.1l1-.1l1-.1l1-.1l1,0l1-.4l1,.5l1,0l1,.1l1-.1l1,0l1-.2l1,0l1,0l1,.3l1-.2l1,.2l1,.2l1-.2l1-.1l1-.1l1,.3l1-.4l1,.2l1,0l1,0l1,0l1,0l1,.2l1-.4l1,.1l1,.3l1-.1l1-.4l1,.5l1-.1l1-.1l1,0l1-.1l1.1-.1l1,.1l1,.2l1-.2l1,.1l1,.1l1-.2l1,.1l1,.4l1-.3l1-.1l1,.2l1-.3l1,0l1,0l1,.3l1-.1l1-.1l1,.1l1,.3l1-.4l1-.1l1-.1l1,.2l1-.2l1,.2l1,0l1,0l1,0l1-.1l1,.2l1-.1l1-.2l1,.3l1-.3l1,.3l1,0l1-.1l1-.2l1,.2l1,0l1,.1l1,0l1,.1l1-.1l1,0l1-.2l1-.1l1,.2l1,.2l1-.2l1-.1l1,.2l1-.1l1,0l1,0l1,.1l1,.1l1,0l1-.2l1,.1l1-.2l1,.1l1,0l1,.2l1-.1l1,.1l1-.1l1-.2l1,.1l1,0l1,.3l1-.3l1,.1l1-.4l1,.2l1,.3l1-.3l1-.1l1,.2l1,0l1-.1l1,.4l1-.4l1,.1l1,.2l1-.3l1,.4l1-.2l1-.2l1-.1l1,0l1,.1l1-.1l1,.3l1-.1l1,.1l1,.1l1-.2l1-.1l1,.1l1,0l1,.3l1-.5l1,0l1,.1l1,.1l1,0l1-.1l1,.2l1-.3l1,.2l1,0l1,.2l1-.2l1-.1l1,.2l1,.1l1-.2l1-.1l1,.1l1,.2l1-.2l1,0l1,0l1-.3l1,.4l1-.2l1,.2l1,.3l1-.6l1,.2l1,0l1,.3l1-.3l1,0l1-.3l1,.3l1-.1l1,0l1,.3l1-.4l1,.1l1,.1l1-.2l1,.1l1,.1l1-.1l1,.3l1-.1l1-.2l1,0l1,.1l1,.1l1-.1l1,0l1-.1l1,.3l1-.1l1-.1l1,.1l1,.1l1-.3l1,.3l1-.2l1-.1l1,.2l1-.1l1,.1l1,.2l1-.5l1,.3l1,0l1,0l1,.1l1-.3l1-.1l1,.2l1,.2l1-.1l1-.3l1,.1l1,0l1-.1l1,0l1,.3l1-.2l1,.3l1-.2l1,.2l1-.2l1-.1l1,.1l1-.1l1,0l1,0l1-.1l1,0l1,.2l1-.3l1,.3l1-.3l1,.4l1-.1l1,0l1,.1l1-.1l1,0l1-.3l1,.1l1,.2l1,0l1,.4l1-.8l1.1,.3l1,.3l1-.2l1,.1l1-.2l1-.1l1,.3l1,.2l1-.2l1-.1l1,.1l1,.2l1-.1l1,0l1-.1l1-.1l1,.1l1-.2l1,.2l1-.4l1,.2l1,.3l1-.2l1-.1l1,0l1,.1l1,.2l1,0l1,.1l1-.3l1,.1l1-.1l1,0l1,.3l1-.2l1,0l1-.6l1,.6l1,.1l1-.3l1,.3l1-.6l1,.4l1,.1l1-.2l1,.2l1-.2l1-.2l1,.2l1,.1l1-.1l1,.2l1-.3l1,.3l1-.1l1,0l1-.1l1,.3l1-.4l1,.1l1,0l1,.2l1-.2l1,.3l1-.2l1,0l1,.1l1,.2l1,0l1-.4l1,0l1,.2l1,16.8l1-.1l1-.5l1,.2l1,.2l1,0l1,0l1,0l1,0l1-.2l1,.2l1-.2l1,.4l1-.3l1,.3l1-.3l1,.1l1-.2l1,.3l1-.4l1,.4l1-.1l1,0l1-.2l1-.1l1,0l1,.2l1,.1l1-.2l1,0l1,.2l1-.2l1,.1l1,.1l1-.1" fill="none" stroke="#F29191" stroke-width="1.5" stroke-linejoin="round"/>
<path d="M68.5,551.3l1-.4l1-.2l1,.2l1,.2l1,0l1,0l1,.1l1-.3l1,.4l1-.3l1-.1l1,.2l1-.2l1,.2l1-.1l1,0l1,0l1-.1l1,.1l1,0l1,.1l1-.1l1,0l1,0l1,.1l1,0l1,0l1-.3l1,0l1,.3l1-.2l1,0l1,.2l1-.2l1,0l1-.1l1,.3l1,0l1,.1l1-.6l1,.3l1,.3l1-.2l1-.2l1,.2l1,0l1-.2l1-.1l1,.4l1-.1l1-.1l1,.4l1-.2l1-.2l1,.2l1,0l1-.1l1,0l1,.1l1-.4l1,.2l1-.1l1,.4l1-.1l1-.3l1,.2l1-.2l1,0l1,.2l1-.1l1,.3l1-.4l1,0l1,.2l1-.3l1,.3l1,0l1,0l1,.1l1-.1l1-.2l1,.1l1,0l1,.2l1-.3l1,.3l1-.3l1,.3l1-.3l1-.1l1,.5l1-.2l1-.1l1,0l1,0l1,.2l1-.3l1,.2l1,.1l1,0l1-.2l1,.1l1,.1l1-.1l1-.2l1,.1l1.1,0l1,.2l1,0l1,.1l1-.4l1,0l1-.1l1,.3l1,0l1,0l1,0l1,.2l1-.2l1-.1l1-.1l1,.1l1,.1l1,.1l1-.1l1,.1l1,.1l1,.1l1-.3l1,.2l1,7.4l1,.1l1-.4l1,.4l1,0l1,.1l1,0l1-.2l1,0l1,0l1-.1l1-.1l1,.2l1-.1l1,.1l1,.2l1-.2l1-.2l1,.4l1,.2l1-.1l1-.6l1,.5l1,0l1-.1l1,0l1,.1l1-.1l1-.1l1-.3l1,.1l1,.3l1,.1l1-.1l1,0l1-.1l1,.2l1-.2l1,.1l1-.3l1,.2l1-.1l1,0l1,.1l1,0l1,0l1,0l1,.2l1,0l1,0l1,0l1-.1l1-.3l1,.3l1,0l1,0l1-.2l1,.4l1-.3l1,0l1-.1l1,.2l1,0l1-.4l1,.3l1,0l1,0l1-.1l1,.1l1,0l1-.1l1,.1l1,.2l1-.1l1,0l1,0l1-.4l1,.2l1,.3l1-.2l1,0l1,.3l1-.3l1,0l1,0l1,0l1,.1l1-.1l1-.2l1,.3l1-.2l1,.2l1-.1l1-.1l1,0l1,.3l1-.4l1,.2l1-.2l1,.2l1-.1l1,.1l1,.1l1-.2l1,.2l1-.3l1,0l1,.1l1,0l1,.2l1-.3l1,.2l1-.1l1,.5l1-.4l1-.1l1,.2l1,0l1-.2l1,0l1,.1l1-.1l1,.1l1,.1l1-.3l1,.4l1-.2l1-.2l1,.1l1-.1l1,0l1,.2l1-.1l1,.2l1-.1l1,0l1-.1l1,.1l1-.2l1,.3l1,.2l1-.4l1,.2l1,.1l1-.2l1-.1l1,.2l1-.1l1,0l1,.1l1-.2l1,.5l1-.5l1-.3l1,.4l1-.1l1,.1l1,.1l1-.1l1,0l1-.1l1,.2l1-.2l1-.1l1,.3l1-.1l1,.1l1-.1l1,.1l1-.2l1-.1l1,.1l1,.2l1-.1l1,0l1-.1l1,.1l1,.1l1-.3l1,.2l1,.1l1,.1l1-.1l1-.3l1,.1l1,0l1,.3l1-.3l1,.1l1-.1l1.1-.2l1,.1l1,.2l1-.2l1,.3l1,0l1-.1l1-.3l1,.4l1-.2l1-.3l1,.6l1-.1l1,0l1-.1l1-.1l1,.2l1,0l1,0l1-.2l1,.3l1-.2l1-.2l1,.1l1,.1l1,0l1-.1l1,.2l1-.1l1,.2l1-.3l1,.2l1-.3l1,.3l1-.1l1,.1l1,0l1,0l1,0l1-.2l1,.4l1-.4l1,.3l1-.2l1,.2l1,.1l1-.4l1,.2l1,0l1,0l1,0l1,.1l1-.4l1,.5l1-.3l1-.2l1,0l1,.3l1-.2l1,.3l1-.2l1-.1l1-.2l1,.4l1-.5l1,.3l1,0l1,.1l1,0l1-.1l1,.1l1,.2l1-.3l1,0l1,.1l1-.2l1,0l1,.4l1-.1l1-.3l1,0l1,.2l1,.2l1-.3l1,0l1,0l1-.1l1,0l1,.2l1,0l1-.1l1,.1l1,.1l1-.2l1,0l1,.3l1,0l1-.3l1,.2l1-.1l1,.1l1-.3l1,.2l1,0l1-.1l1,0l1,.2l1-.1l1,.2l1-.1l1-.1l1,0l1,.1l1,0l1-.1l1,.1l1-.2l1,.2l1-.3l1,.1l1,.3l1,0l1-.4l1-.1l1,.3l1-.1l1,.1l1,0l1,0l1,.2l1-.5l1,.3l1,0l1,.1l1-.2l1,.2l1-.3l1,.3l1,.3l1-.6l1,.2l1,0l1,0l1,0l1,.1l1-.2l1,.2l1-.1l1-.3l1,.3l1,0l1,.1l1-.3l1,.5l1-.4l1,.1l1,.1l1-.4l1,.1l1,.4l1-.1l1,.2l1-.1l1-.3l1-.2l1,.3l1,.4l1-.4l1,0l1,.2l1-.1l1-.2l1,.1l1,0l1-.1l1,.1l1-16l1-.1l1,0l1,.1l1-.1l1,.1l1-.1l1,.1l1,.2l1-.2l1,.3l1-.2l1-.2l1,0l1-.1l1,.2l1-.1l1,.3l1-.1l1-.3l1,.2l1,.2l1-.5l1,.2l1,.1l1-.2l1,.2l1,0l1,0l1-.1l1-.1l1,.1l1,0l1,.4l1-.4l1,.3l1-.2l1.1-.2l1,.4l1-.3l1,.1l1-.2l1,.3l1-.2l1,0l1,0l1,.2l1-.1l1,0l1-.1l1,0l1,.1l1-.1l1-.2l1,.3l1-.1l1,.2l1,.1l1-.3l1,.1l1,0l1-.2l1,0l1,.1l1,.1l1,.2l1-.2l1,.2l1-.2l1,.1l1-.2l1,.3l1-.1l1-.1l1,.2l1-.3l1,.1l1,0l1,0l1,.1l1-.1l1-.2l1,0l1,.1l1,0l1-.1l1,.2l1-.1l1,.1l1,0l1,0l1,.1l1-.2l1,0l1,.2l1-.1l1,0l1-.1l1,.2l1-.1l1-.1l1,0l1,.1l1-.1l1,0l1,.1l1,0l1,.2l1-.2l1,.1l1,.1l1-.3l1,.3l1-.4l1,.3l1-.2l1,0l1,0l1,.3l1-.2l1,0l1-.1l1,.2l1-.3l1,.5l1-.3l1-.2l1,.4l1,.1l1,0l1-.1l1-.1l1-.2l1-.4l1,.5l1,0l1-.1l1-.1l1,0l1,0l1-.1l1,.5l1-.2l1,.1l1,.1l1,0l1-.2l1,0l1,.3l1-.3l1,.3l1,0l1-.2l1-.3l1,.3l1,0l1-.4l1,.5l1-.1l1-.2l1,.1l1,0l1,0l1-.1l1,0l1,.1l1,.1l1,.1l1-.5l1,.4l1-.1l1,.1l1-.1l1,0l1,.1l1,.1l1-.2l1-.2l1,.3l1,0l1-.4l1,.3l1,.1l1,0l1-.1l1,.4l1-.3l1-.2l1-.2l1,.1l1,.2l1,0l1,0l1-.1l1,0l1,.1l1,.1l1-.1l1,.1l1-.1l1,0l1,.1l1-.1l1,0l1,.1l1-.1l1-.1l1,.1l1,.1l1-.3l1,.2l1,.3l1-.1l1-.1l1-.1l1-.1l1,0l1-.4l1,.5l1,0l1,.1l1-.1l1,0l1-.2l1,0l1,0l1,.3l1-.2l1,.2l1,.2l1-.2l1-.1l1-.1l1,.3l1-.4l1,.2l1,0l1,0l1,0l1,0l1,.2l1-.4l1,.1l1,.3l1-.1l1-.4l1,.5l1-.1l1-.1l1,0l1-.1l1.1-.1l1,.1l1,.2l1-.2l1,.1l1,.1l1-.2l1,.1l1,.4l1-.3l1-.1l1,.2l1-.3l1,0l1,0l1,.3l1-.1l1-.1l1,.1l1,.3l1-.4l1-.1l1-.1l1,.2l1-.2l1,.2l1,0l1,0l1,0l1-.1l1,.2l1-.1l1-.2l1,.3l1-.3l1,.3l1,0l1-.1l1-.2l1,.2l1,0l1,.1l1,0l1,.1l1-.1l1,0l1-.2l1-.1l1,.2l1,.2l1-.2l1-.1l1,.2l1-.1l1,0l1,0l1,.1l1,.1l1,0l1-.2l1,.1l1-.2l1,.1l1,0l1,.2l1-.1l1,.1l1-.1l1-.2l1,.1l1,0l1,.3l1-.3l1,.1l1-.4l1,.2l1,.3l1-.3l1-.1l1,.2l1,0l1-.1l1,.4l1-.4l1,.1l1,.2l1-.3l1,.4l1-.2l1-.2l1-.1l1,0l1,.1l1-.1l1,.3l1-.1l1,.1l1,.1l1-.2l1-.1l1,.1l1,0l1,.3l1-.5l1,0l1,.1l1,.1l1,0l1-.1l1,.2l1-.3l1,.2l1,0l1,.2l1-.2l1-.1l1,.2l1,.1l1-.2l1-.1l1,.1l1,.2l1-.2l1,0l1,0l1-.3l1,.4l1-.2l1,.2l1,.3l1-.6l1,.2l1,0l1,.3l1-.3l1,0l1-.3l1,.3l1-.1l1,0l1,.3l1-.4l1,.1l1,.1l1-.2l1,.1l1,.1l1-.1l1,.3l1-.1l1-.2l1,0l1,.1l1,.1l1-.1l1,0l1-.1l1,.3l1-.1l1-.1l1,.1l1,.1l1-.3l1,.3l1-.2l1-.1l1,.2l1-.1l1,.1l1,.2l1-.5l1,.3l1,0l1,0l1,.1l1-.3l1-.1l1,.2l1,.2l1-.1l1-.3l1,.1l1,0l1-.1l1,0l1,.3l1-.2l1,.3l1-.2l1,.2l1-.2l1-.1l1,.1l1-.1l1,0l1,0l1-.1l1,0l1,.2l1-.3l1,.3l1-.3l1,.4l1-.1l1,0l1,.1l1-.1l1,0l1-.3l1,.1l1,.2l1,0l1,.4l1-.8l1.1,.3l1,.3l1-.2l1,.1l1-.2l1-.1l1,.3l1,.2l1-.2l1-.1l1,.1l1,.2l1-.1l1,0l1-.1l1-.1l1,.1l1-.2l1,.2l1-.4l1,.2l1,.3l1-.2l1-.1l1,0l1,.1l1,.2l1,0l1,.1l1-.3l1,.1l1-.1l1,0l1,.3l1-.2l1,0l1-.6l1,.6l1,.1l1-.3l1,.3l1-.6l1,.4l1,.1l1-.2l1,.2l1-.2l1-.2l1,.2l1,.1l1-.1l1,.2l1-.3l1,.3l1-.1l1,0l1-.1l1,.3l1-.4l1,.1l1,0l1,.2l1-.2l1,.3l1-.2l1,0l1,.1l1,.2l1,0l1-.4l1,0l1,.2l1,16.8l1-.1l1-.5l1,.2l1,.2l1,0l1,0l1,0l1,0l1-.2l1,.2l1-.2l1,.4l1-.3l1,.3l1-.3l1,.1l1-.2l1,.3l1-.4l1,.4l1-.1l1,0l1-.2l1-.1l1,0l1,.2l1,.1l1-.2l1,0l1,.2l1-.2l1,.1l1,.1l1-.1" fill="none" stroke="#fbe3e0" stroke-width="0.5" stroke-linejoin="round"/>
<path d="M68.5,538.3l1,.3l1,2.5l1,.9l1-1.7l1-.1l1-1l1-2.5l1,2.3l1,1l1-1.1l1,.6l1-1.5l1,3.1l1-.8l1,.3l1-.5l1-1.7l1,2.8l1,.8l1-3.7l1-.3l1-.4l1,2l1,1l1-1.4l1,.1l1,2.7l1-.6l1-.6l1-1.1l1-3.7l1,2.8l1,1.2l1-1.7l1-1.1l1-.4l1,3.9l1-1.9l1,0l1,3.8l1-3.9l1,.6l1,3.1l1-1.4l1-1.4l1,.2l1-2.2l1,5.6l1-3.1l1,.6l1-3.1l1,.1l1,2.8l1-.2l1,1.5l1-.8l1,.1l1-.4l1-1.1l1,3.6l1-1l1-.4l1-2.1l1,.2l1-1.7l1,4.3l1-2.6l1-1.5l1,1.5l1-.8l1,1.1l1-2.3l1,3.8l1-2.3l1,3.3l1-7.1l1,6l1-2.8l1-1.9l1,5.3l1-1l1,1l1-3.4l1-1.5l1,5.7l1-3.3l1-.6l1,1.4l1-.3l1-.7l1,.4l1,1.8l1-1l1-.5l1,0l1,.1l1-.3l1,.8l1-1.5l1-.6l1,2.1l1-1.9l1-.3l1-2l1,2.9l1,1.5l1.1-.3l1-1.1l1,1.8l1-1.4l1-.5l1-2.3l1,1.5l1,1.8l1-.6l1-.1l1-.3l1-1.2l1,4l1,1.1l1-2l1-.5l1,.6l1-.1l1-.6l1,1.6l1-1.7l1-1.1l1,2l1-3.8l1,1.7l1,.7l1,.8l1-2l1,1.3l1,.6l1-2l1,1.7l1,.4l1,.1l1,0l1,.7l1-2.8l1,1.4l1-1l1,2.2l1-2.3l1,.2l1-.2l1-1.3l1,3.5l1-1.2l1,.4l1-1.6l1,2.1l1-.1l1-.1l1-.4l1,.1l1-2l1-.2l1-.7l1,1.7l1,5.2l1-5.4l1,.4l1,3.5l1-1.3l1,.8l1-1.3l1-2.3l1,.6l1-2.7l1,2.8l1-1.4l1,4.3l1-5.7l1,3l1,.3l1,.2l1,1.6l1-1.8l1,5.7l1-5.7l1-1.4l1,.9l1,.5l1,1.3l1-.2l1-4l1,2.6l1-2.9l1,4.4l1,2l1-3l1,1.7l1-3.7l1,2.2l1-1.9l1,2.5l1-.6l1-1.2l1,2l1-1.7l1,3.2l1-3.5l1-1.7l1,1l1-.8l1,1.3l1,.8l1-1.9l1-1.2l1,4.1l1-1.2l1,.5l1,1.3l1,.6l1-5.3l1,2.2l1-1.7l1,4.4l1-3l1,1.3l1-.7l1,.8l1,1.9l1,1.3l1-5.6l1,2.3l1-1.2l1,.7l1,1.3l1-4.6l1,4l1,.8l1,1.2l1-2.7l1-.4l1,2l1-.8l1-1.4l1,1.5l1-1l1,.5l1-3.8l1,6.2l1-4.3l1,2.1l1,.9l1-1.7l1,.8l1,.2l1-.2l1-1.3l1,.9l1,.6l1-1.6l1-.8l1,1.3l1,.4l1,1.2l1-3.7l1,3.1l1,.8l1-1.4l1,1l1-1l1-.3l1,2.6l1-3.5l1,.2l1,.7l1,2.8l1-1.4l1,.1l1-2.1l1,1.4l1-1.8l1-.7l1,2.2l1-.7l1,5.5l1-2.7l1-.4l1-1.3l1-2.4l1,1.3l1,2.3l1-.8l1-.4l1,0l1-.3l1-2.3l1,4.6l1-1.9l1-.7l1,1.7l1-1l1-2.9l1,1.5l1,.2l1,.1l1-1.2l1,3.9l1-4l1,3.7l1-2.7l1-.2l1,2l1-1.9l1,2.7l1-1.5l1,.6l1,1.7l1-3.3l1-.7l1,1.5l1-2.8l1,2.7l1.1,0l1,1.1l1-.2l1-4l1,2.2l1,1.9l1,1.7l1-3.4l1-.8l1,.3l1,2.8l1,.6l1-4.8l1,2.7l1-.5l1,2.7l1-1.5l1-.9l1,1l1-3.4l1,3.1l1,1.7l1-3.3l1-1.9l1,3.9l1-3.1l1,2.3l1,2.1l1-.5l1-3.2l1,3.2l1-3.7l1,1.2l1,.7l1-1l1,2.6l1-3.9l1,5.1l1-2.8l1-2.3l1,1.6l1,.8l1,2.6l1-5.1l1-.1l1-.9l1,1.9l1,4.8l1-2.6l1-2.1l1,1.1l1,.8l1-2.3l1,2.9l1-.2l1,.2l1-.8l1,0l1,2.4l1-1.2l1-3l1-1.2l1,3.5l1-1.1l1,2.6l1-1.6l1-4.1l1,4.4l1,.2l1-.1l1-2.5l1-1.2l1,2.3l1-.9l1,1.5l1,1.1l1-1.4l1-.6l1,.5l1,.1l1-1.2l1,1.8l1,4l1-3.2l1-1.1l1,3.4l1-1.8l1-.6l1-1.9l1,.9l1-.3l1-.1l1-1.2l1,1.7l1,1.7l1-4.9l1,2.3l1,1.3l1,1l1-.3l1,1l1-2.9l1,.4l1-1.4l1,3.8l1-.6l1-3.2l1,1.3l1,1.8l1-3.5l1,2.3l1,2.4l1-3.7l1-2.2l1,1.7l1,.3l1,.7l1,1.2l1-3.3l1,2.1l1,2.5l1-1.4l1-1.2l1,1l1,2l1-.7l1-4.3l1,3.3l1-1.6l1,.5l1-1.7l1,1.9l1-2.3l1,3.1l1-.2l1-2.7l1,1.7l1,2.9l1-6.7l1,4.5l1,1.3l1,.4l1-4.5l1,2l1,.3l1-1.6l1,1.1l1-1.8l1,6.3l1-2.1l1-.1l1-1.1l1,.3l1-.9l1,2.4l1-3.6l1,3l1-2.5l1,.8l1,2l1-.9l1-.1l1,.8l1-3.5l1,1.8l1-.4l1,.3l1-.2l1,.1l1-2l1,2.2l1,.1l1-2.6l1,3.3l1,.3l1-4.5l1,.3l1,2.8l1-2l1,.6l1-1.9l1-.7l1,2l1-.4l1,3.8l1,0l1-3.3l1,.3l1-1.4l1,2l1-2.2l1,1.5l1,.3l1-2.7l1,1.9l1-5.3l1-2.1l1,5.4l1,1.2l1-4.4l1,.5l1,0l1,1.1l1-1.1l1-.8l1,1.5l1,.4l1-2l1,3.2l1-2.5l1,1l1-1l1,2.2l1.1,1.7l1-5.1l1,3.3l1,.5l1,7.3l1-2.4l1,.8l1-2l1,1.7l1-1.3l1,0l1,0l1-3.2l1,4l1-1.6l1,4.5l1-5l1,2.2l1-2l1,2.8l1-.9l1,1l1-.4l1,0l1,2.1l1-2.7l1,3l1-4.2l1,.5l1,0l1,1.8l1-3.2l1-.6l1,4.3l1-2.6l1,1.1l1-1.4l1,.1l1-1.7l1,4.7l1-4.1l1,1.4l1,1.1l1-3.1l1,4.6l1-2.4l1,1.1l1-1.5l1,1.2l1-2.9l1,4.3l1-1.5l1-.4l1-1.1l1,2.8l1,.1l1-1.8l1-2.3l1,1.7l1-1.8l1,2l1,1.8l1-1.4l1-.9l1,.3l1,.1l1,2.1l1,2l1-3.6l1-1.2l1-1.8l1,1.9l1-1.9l1,.8l1,.4l1,2.6l1-4.1l1,5.6l1-4.9l1,3.5l1,1.3l1-2.1l1,2l1-1.4l1-1l1,.7l1-2.2l1,1.7l1,.3l1-.5l1-1l1-2.2l1,1.4l1,6l1-4.3l1-.7l1,1.2l1,.6l1-2.6l1,2.7l1-.4l1-.5l1,1.1l1-.2l1-.7l1-1.6l1-.1l1,2.6l1,.9l1-3.3l1,2l1-2.9l1,6.1l1-8.1l1,3.8l1-1.4l1,2.9l1-1.7l1,1.5l1-5.1l1,4.7l1-3l1,3.9l1-4l1,1.8l1,.4l1,.8l1-.6l1-1.3l1,.1l1,1.3l1,.9l1-.9l1,.2l1,1.5l1-3.8l1,3.7l1-3.6l1,2.9l1-.6l1,1l1,1.4l1-2.4l1,.9l1,.3l1-2.8l1,2.8l1-2.5l1-.5l1,.4l1,3.7l1-3.5l1,.5l1,.6l1-.2l1-.8l1,.7l1-.4l1-1.6l1-.9l1,2.9l1,1.9l1-2.5l1,2.6l1-1.3l1-2.3l1,1.1l1,1.3l1-2.1l1,1.1l1,.9l1-1.7l1,1l1-.1l1,.7l1,.4l1-1.2l1,1.1l1-1.9l1,.7l1,1.6l1-4.9l1,2.8l1-3.2l1,1.2l1,.7l1-1.7l1,1.5l1,1.3l1-.1l1-1.5l1,.6l1,2.8l1-2.1l1,.2l1-2l1,3.5l1-2.8l1,4l1-2.3l1-3.6l1,1.4l1,.5l1,4.8l1-6.9l1,2.3l1,2l1-2.4l1,.9l1,2.2l1-3.2l1,.5l1,.1l1,.8l1.1,.3l1,.9l1-4.3l1,2.4l1,2l1,1.7l1-5.4l1,1.2l1,3.8l1,0l1-1.8l1-4.4l1,6.6l1-3.2l1-.2l1-1.5l1-1.3l1,1.3l1-1.4l1,1.6l1,.1l1,2.5l1-2.3l1,2.2l1,.7l1-3.1l1,.8l1,2.5l1-3.1l1,.1l1,4.1l1,0l1-3l1,.5l1,.7l1-.9l1-1l1,0l1-.1l1-.4l1,.8l1-.4l1,.6l1-.5l1,.6l1,3.7l1-6l1,3l1-2.8l1-.2l1,3.2l1,1.2l1-3.8l1,1.9l1,1.6l1-.6l1,.8l1-2.6l1,.2l1-1.4l1-1.6l1,5.7l1-1.4l1,1.6l1,.5l1-3l1,2.6l1-.2l1-.1l1-.7l1-1.3l1,1.3l1,.4l1,.5l1-2.7l1,5.1l1-3.9l1,1.9l1,.7l1,1.4l1-2.1l1,2.5l1-3.2l1-3l1,3.6l1,.3l1-2.5l1,3.9l1-6.3l1,5.8l1-3l1,1.1l1,1.4l1-.3l1,.6l1,.1l1,2.1l1-3.5l1-.7l1,3.2l1-2.6l1,.3l1,1.3l1-2.2l1-.1l1-1.3l1,3.7l1-.6l1,.5l1,.5l1-1.8l1-2l1,0l1,1.4l1-.8l1,.4l1,1.4l1-3l1,5.8l1-2.7l1-1.4l1,.5l1-1.3l1,2.2l1-1.2l1,1l1,3.5l1-5.8l1-.1l1-1.1l1,2l1,4.2l1-2.5l1-1.2l1-2.7l1,1.9l1,1.1l1,1.1l1-.1l1,.3l1,0l1-.2l1-.9l1,3l1-5.1l1,4.1l1-1.4l1-.9l1,.2l1-1.4l1,2.2l1-2.5l1,2.6l1,.7l1-1.4l1,.2l1,.7l1,.6l1-1.8l1-1.8l1-.4l1,2.4l1,1.7l1-.5l1,2.2l1-2.6l1,.1l1,1.3l1-2.2l1-.4l1-3.2l1,2.7l1,.8l1-2.4l1,3.3l1,.4l1-2.5l1,.4l1,2.8l1-1.9l1-.4l1,1.1l1-3.3l1,4.8l1-.2l1-2.2l1-.5l1,.6l1,1l1-.1l1,1.2l1-3.5l1,1.5l1-.1l1,3.9l1-1.7l1-3.4l1-.5l1,.4l1,2.4l1-.4l1-.7l1,.8l1,1l1,.2l1-3.4l1,2.9l1-1.5l1,1.1l1-.6l1-1.3l1,2.7l1-3.3l1,1.9l1.1-.6l1-.8l1,4.2l1-5.4l1,2.3l1,.1l1,0l1,1.6l1-2.9l1-.2l1,3l1-2.3l1,1.9l1-1.3l1-.3l1,.3l1-2.5l1,3.3l1-.8l1,.9l1,1.3l1,.7l1-2.8l1,.3l1,1.9l1-3.2l1-1.7l1,.7l1,3.3l1-2.4l1,.2l1-.7l1-2.2l1,3.9l1-1.6l1,2.2l1-2.6l1,1l1,1l1,3.1l1-4l1-2l1,3l1,2l1-2.4l1-2.9l1,2l1,1.4l1-.6l1,3.3l1-1.4l1-4.3l1,2l1,2.2l1-4.4l1,5.9l1-5.3l1,4.3l1-1.1l1,.2l1-2.1l1,2.5l1-.8l1-1.7l1-.2l1,1.9l1,.7l1-.6l1-1.9l1-1.1l1-2l1,2.7l1,3.3l1-2.8l1,.5l1-6.4l1,3.6l1,1.6l1,.4l1-.4l1,4.4l1-5.1l1,2.4l1-14.2l1-.1l1,3.6l1-.7l1-23.1l1,1l1,6.5l1,.5l1-2.4l1,3.3l1,1.2l1-4.8l1,2.7l1-2.9l1,2.6l1,.4l1,.4l1-2.5l1,2.6l1-9.6l1-.2l1,9.7l1-.9l1-1.4" fill="none" stroke="#E24D42" stroke-width="1.45" stroke-linejoin="round"/>
<path d="M68.5,415.3l1,.5l1-.5l1-.1l1-.5l1,.6l1,.9l1-.6l1,.6l1-.6l1,0l1-.1l1-1.4l1,2l1-.4l1,0l1-1.7l1,0l1,.8l1,.4l1,.5l1-.2l1,.5l1-1l1,.9l1-.2l1-.8l1,1.9l1-.9l1,.6l1-1.6l1-.1l1,.4l1,.2l1,.5l1-.3l1-.7l1-.2l1,.3l1,1.4l1-1.7l1,.9l1,.1l1-1.4l1,1.3l1,1l1-2.6l1,1.2l1,.2l1-.6l1,1l1-.5l1-1.1l1,2l1-.4l1,.2l1,.3l1-.8l1-.2l1-1.1l1,1.6l1-1l1,.2l1-.7l1,.2l1,.3l1,1.4l1-2.7l1,.5l1,1.4l1,1l1-.7l1-2l1-.6l1,2.4l1-.8l1-.2l1,1.8l1,.1l1-.8l1,0l1,.2l1,1l1-.7l1-.2l1-.1l1-1.8l1,2.4l1-.3l1-.3l1-1.9l1,1l1,1.2l1-2l1,1.3l1,.9l1-2l1,2.3l1-1.1l1-.5l1,.4l1,.4l1-.4l1,.8l1-1.5l1,.3l1,1.1l1.1-.8l1-.7l1,1.5l1,.4l1-1.5l1-.6l1,1l1-.1l1-.1l1,1.3l1-2l1,1.9l1-2.1l1,.5l1,1.3l1,.4l1-.2l1-.4l1-.1l1,0l1,.3l1-.6l1,.3l1,.3l1-.4l1,.6l1-.1l1,1.2l1-1.5l1-.7l1,.1l1,.3l1,.7l1-1.1l1,.7l1,1l1-3.4l1,1.2l1,1.3l1,0l1-.1l1-.6l1,.9l1-.4l1-.7l1,2.5l1-1.8l1-.7l1,.4l1-.2l1,.1l1-2.1l1,1.8l1,1.1l1-1.8l1,.9l1,1l1-.2l1,.6l1-2.6l1,1l1,0l1,.8l1,.5l1-2.9l1,3l1-2l1,1.8l1-1.7l1,1.2l1,.9l1-1.1l1,.3l1,.4l1-.5l1-.1l1,1.4l1-.5l1-1l1,2.5l1-3.2l1,1.7l1-1l1,.3l1,.5l1-.3l1,.3l1-1.8l1-.1l1,1.6l1-1.2l1-.1l1-.4l1,2.2l1-.5l1,.6l1-2l1,.9l1-.8l1,1.5l1,.5l1-2l1,2l1-.4l1-.9l1-1.5l1,2.8l1-1.2l1-.4l1,.8l1-.1l1,1l1-2.2l1,1.8l1,.2l1-.1l1-1.3l1-.5l1,1.5l1-.7l1-.1l1,1.1l1-1.4l1-1.6l1,1.5l1-1.1l1,2.2l1-.3l1-.7l1,.5l1,.8l1-.6l1,.9l1-1.1l1,.8l1,.3l1,0l1-1.9l1,1.3l1-2.2l1,.7l1-.7l1,2.4l1-1.8l1,.8l1-.2l1,.1l1-.3l1,.7l1,1.2l1-1.4l1,.4l1,.4l1-1l1-.9l1,.6l1,1.2l1-2.2l1,.9l1,1.4l1-.2l1-.6l1,.6l1-.5l1-1l1-.4l1,.8l1,1.2l1-1.1l1-.3l1,0l1-.6l1,1.2l1-1l1,1.3l1-2.1l1,2.1l1-.8l1-.9l1,2.2l1-.7l1-1.7l1,1.2l1,.8l1-.6l1,1l1,.1l1-.2l1-.3l1,.8l1-.7l1-.1l1-2l1,2.4l1,.4l1-1.3l1-.1l1,2l1-2.9l1,1.7l1,1.6l1-2.7l1,1.3l1,1l1-1.6l1,.5l1,.3l1-1.4l1,.6l1,.4l1,.5l1-.6l1-.2l1-.6l1.1,.5l1,1l1-.7l1-.8l1,0l1,2.9l1-1.3l1-.6l1-2.7l1,2.6l1-.2l1,1l1-1l1-.3l1,.5l1-1.9l1,2.3l1-.5l1-.8l1,1.7l1,.3l1-2.6l1,.7l1,.8l1-.2l1-.5l1-.4l1,2.5l1-1l1-1.8l1-.1l1,2.4l1-.5l1,.7l1-.8l1-1.5l1,.9l1-1.9l1,1l1,.7l1,.4l1-1.1l1,.5l1,.5l1,0l1,.2l1-.4l1-.4l1,.8l1-.7l1-.6l1,.1l1,.6l1-.1l1,.2l1-.1l1,.1l1-.1l1-1.1l1,1.4l1,.5l1-.5l1-.4l1,.4l1-1.1l1-.8l1,1.7l1-.9l1,1.2l1-1.4l1-1.2l1,1.3l1,2.2l1-1.7l1-.8l1,.5l1,1.1l1,0l1-.2l1,1.2l1-14.7l1-.4l1,.3l1,1l1-.6l1,0l1-1.7l1,.7l1,.6l1-.8l1,1.2l1-.3l1,.2l1-1l1,2.2l1-1.1l1-1.1l1,.3l1,2.1l1-2.5l1,1l1,.1l1-.7l1-1l1,1.1l1,.1l1,.7l1-.4l1-.6l1,.7l1-.2l1-.2l1-.2l1-.2l1,.9l1-1.5l1,.4l1,.4l1-1.2l1,.8l1-1.3l1,1.1l1,1.1l1,0l1-.4l1-.2l1-1l1,2.6l1-1.1l1,.4l1-1.6l1,.5l1-1.4l1,2.1l1,.1l1-2.1l1,1.4l1,.7l1-1.9l1-.1l1,.7l1,.4l1-.7l1,1.2l1,.1l1,.3l1,0l1,.7l1-.2l1-1.9l1,.6l1-.4l1,0l1,.7l1,0l1,.5l1-1.8l1,.4l1,.9l1-.1l1-.1l1,.2l1-.5l1,1.1l1-.2l1-.4l1-.6l1,.4l1-2l1,1.4l1,.6l1-1.2l1,1.4l1-.1l1-1.2l1,.8l1-.1l1,.8l1,.2l1-.5l1-.8l1,.6l1,.2l1,.7l1-.5l1-.8l1-.5l1,.9l1-.2l1-.3l1,.9l1-.4l1,.6l1,.3l1-.8l1,2.3l1-2.2l1,1l1-.9l1-5.2l1-2.8l1,1.3l1,.8l1,.2l1,1.4l1-1.6l1,.7l1-.3l1,.3l1-.4l1-.6l1,.4l1-1.2l1.1,1.9l1-1.9l1,1.1l1,1.5l1,4.1l1,.2l1,1l1-.8l1-.7l1,.9l1,.2l1,.2l1-1.3l1,2l1-.1l1-1.3l1,.3l1-.6l1,1.5l1-1.7l1,.9l1-.9l1-.1l1,1.1l1,.5l1-1.2l1-.5l1,1.3l1-.7l1,.4l1,.8l1-.4l1-1.3l1,2.3l1-2l1,.6l1-1l1,.4l1-1.5l1,2.9l1-.4l1-2l1-.2l1-.2l1,2.4l1-1.4l1,.3l1,0l1,.1l1-.9l1,.9l1-1.2l1,1.1l1,.3l1,.2l1-.5l1-.7l1,1.1l1-.6l1,1.7l1-.6l1-.7l1-.3l1-.2l1,0l1,.5l1,.4l1,.2l1,0l1,1.2l1-2.3l1,.6l1,2.3l1-3.8l1,1.1l1,.5l1,0l1,.2l1-.4l1,.4l1-.2l1,.6l1-2.4l1,.8l1,.6l1-.7l1-.1l1,1.4l1-.9l1,1.1l1,.1l1-.4l1,.2l1-.5l1-1l1,1.1l1,.4l1-.8l1,.3l1,.7l1-1.4l1,1.1l1,1l1-2l1,.6l1-.4l1,1.4l1-1l1,.5l1-1.4l1,.6l1,.1l1,13.6l1,2.7l1-.3l1-2.3l1,2.1l1-.7l1,.4l1,.1l1-1.6l1,1l1,1.4l1-1.8l1-.2l1-.3l1,.2l1,1.3l1,1.1l1-1l1-.2l1,1.6l1-2.2l1-.2l1,1.1l1,0l1-1.3l1-.1l1,1.1l1-.1l1-1.3l1,.9l1-.2l1,.9l1-.5l1,0l1-.2l1,1.1l1,.2l1-1.5l1,.9l1-1.3l1,.7l1,.5l1,.6l1-1.5l1,.2l1,.1l1-1.3l1,1.2l1-.5l1,.7l1-1.2l1-.7l1,1.5l1,.2l1-.6l1,1.2l1-1l1-.2l1,1l1-1.7l1,.8l1,.5l1,.8l1-.8l1,.4l1-.8l1,.9l1,1.2l1-2l1,2.5l1-2.4l1,.5l1,.2l1,.7l1-1.8l1-147.4l1,2.1l1,.1l1-.3l1,1.5l1-2l1-.1l1,.4l1-.6l1,1l1-2.5l1,.5l1-2.5l1,3.5l1-1l1,1l1,.9l1-2l1-.2l1-.3l1-.3l1-.1l1,1l1-.6l1-.1l1-.3l1,.8l1.1,148.8l1-.5l1,.7l1-.6l1-.9l1,2l1-.9l1-.9l1,1.6l1-.5l1-1.5l1,2.7l1-1.1l1,.4l1-.6l1-.4l1-1.2l1,2.1l1-.9l1-.3l1,.6l1-.1l1,.4l1-.9l1,.1l1-1.8l1,1.5l1,1l1,.5l1-1.3l1,.2l1,1.3l1-1.4l1,.7l1,.8l1-1.3l1,1.1l1-1.5l1,.9l1-.3l1,.2l1,.9l1,1l1-2.5l1,.1l1,.8l1-1.4l1,1.4l1,0l1-.9l1,.7l1-1.7l1,1.8l1-1.7l1,.6l1,.1l1,.1l1,1l1-.7l1-.4l1,1l1,.9l1-1.4l1,.4l1,.8l1-.8l1-1.2l1,3l1-.2l1-3.3l1,1.6l1,.4l1,.4l1-.3l1-.9l1-.5l1,.9l1,.7l1-1.7l1,.2l1,.9l1-1.7l1,1.3l1-.1l1,.6l1-.9l1-.1l1,.4l1,.2l1-.5l1,.5l1,.6l1,.3l1,.3l1-2.1l1,.2l1-1.7l1,3.4l1-2.1l1,.5l1,.4l1-1.4l1,1.3l1-.3l1-1.5l1,1.8l1,.7l1-2.4l1,2.2l1-.5l1,.1l1-.1l1,.7l1-1.1l1,.9l1-1l1,1l1-1.2l1,.6l1,1.4l1-1l1-.5l1-.8l1,.2l1,2.6l1,.5l1-.5l1,.3l1-.3l1,1.1l1-1.3l1-.3l1,1l1-.8l1-.2l1-.1l1,.2l1,.7l1-.2l1-2.8l1,1.2l1-.2l1-.9l1,1.4l1-.9l1-.1l1,1l1,.5l1-1.6l1,1.1l1-1.2l1,2.6l1-2.3l1-8.1l1-1.4l1,1.2l1,1.3l1-3.9l1,1.7l1,.7l1-.4l1-.5l1,2.4l1-1.5l1-1.5l1,2.1l1-2l1,2.3l1-1.4l1,.6l1,.8l1-.7l1-1.2l1-.3l1,2.4l1-.3l1-1.1l1,1.4l1-.3l1,.1l1-2.4l1,1.7l1,.8l1,0l1,.2l1-2.8l1,2l1,.4l1,1.7l1-2.9l1,.6l1,.2l1,.7l1-1l1,1.3l1-1.5l1,.9l1-.6l1,.7l1-.6l1-.7l1,2.3l1-.7l1-.7l1,.6l1,.8l1-1.6l1-91.4l1,.4l1-.1l1-.8l1-1.4l1,2.7l1-.9l1.1-.3l1-.2l1,.3l1-.6l1-.5l1,.1l1,0l1,0l1-.4l1,1.3l1-1.7l1,1.7l1-1.4l1,1l1,.9l1-1l1-.9l1,.7l1,0l1-1.5l1,.8l1,.5l1-.6l1,.4l1,.6l1-.1l1,.1l1-.3l1-.8l1,.2l1-.2l1-.2l1-.1l1-1.2l1,1l1,.2l1-.9l1,.7l1,.4l1-.7l1,1.8l1-3.9l1,1.9l1-1.4l1,2.3l1,1.2l1-4.2l1,2.2l1,.4l1-.7l1,.7l1-2.3l1,2.5l1-.6l1-.2l1-.5l1,.9l1-1l1,.6l1-.6l1-1.6l1,1.8l1,.3l1,.4l1-1.4l1,.6l1,.4l1-.3l1,1l1,.5l1-2.4l1-.8l1,2.1l1,.5l1-.5l1-.2l1-1.3l1-.2l1,1.3l1-1.5l1-.7l1,.5l1,2.8l1-.6l1-2.2l1,0l1,.6l1-29.5l1,1.5l1-1.3l1-1l1,1.7l1-1.7l1,.5l1-.3l1-.4l1,.4l1-1l1-1.2l1-.4l1,.5l1,.2l1,.5l1,0l1,.2l1-.4l1-.9" fill="none" stroke="#1F78C1" stroke-width="1.7" stroke-linejoin="round"/>
<path d="M68.5,413.7l1,.7l1-.3l1,0l1-.6l1,0l1,1.2l1-.2l1,.5l1-.3l1-.3l1,0l1-1.3l1,1.9l1-.2l1-.1l1-2.1l1-.1l1,1.1l1,.7l1,.4l1-.7l1,.4l1-.3l1,.7l1-.2l1-1.1l1,1.8l1-.7l1,.6l1-1.4l1-.1l1,0l1,.2l1,.7l1-.4l1-.8l1,0l1,.5l1,1.3l1-2l1,.9l1,.5l1-1.7l1,1l1,1.6l1-3.1l1,1.6l1-.1l1-.3l1,1.1l1-.6l1-.8l1,1.6l1-.4l1,0l1,.7l1-1.3l1,.2l1-1.6l1,2.3l1-1.2l1,.2l1-.8l1,.5l1-.2l1,1.9l1-3.1l1,.6l1,1.3l1,1l1-.7l1-1.9l1-.9l1,3.1l1-1.2l1-.2l1,2l1-.3l1-.6l1,.1l1-.1l1,1.2l1-.8l1-.3l1,.2l1-1.5l1,2.3l1-.8l1,0l1-1.8l1,.8l1,1.1l1-1.9l1,1.6l1,.6l1-1.7l1,1.9l1-.4l1-1.1l1,.5l1,.5l1-.6l1,.6l1-1.1l1,.3l1,.8l1.1-.8l1-.6l1,1.6l1,.1l1-1.6l1-.1l1,.7l1,.1l1-.3l1,1.5l1-2l1,1.8l1-2.2l1,.9l1,1l1,.4l1-.1l1-.6l1,.1l1,.1l1,.1l1-.6l1,.5l1,.2l1-.8l1,1.1l1-.5l1,1l1-1.1l1-.7l1-.4l1,.7l1,.9l1-1.2l1,.3l1,1.6l1-3.8l1,1.1l1,1.7l1,.1l1-.6l1-.6l1,1.3l1-.3l1-.8l1,2.7l1-2l1-1l1,.6l1-.2l1,.1l1-2l1,1.9l1,.6l1-1.2l1,.5l1,1l1-.2l1,.5l1-2.6l1,1.2l1,0l1,.8l1,.2l1-2.9l1,3.3l1-2.2l1,2l1-1.5l1,.9l1,.7l1-.9l1,.3l1,.5l1-.1l1,0l1,.5l1-.1l1-.7l1,1.7l1-2.7l1,1.8l1-1.1l1,.4l1,.4l1-.2l1,0l1-1.6l1,0l1,1.6l1-1.5l1-.2l1-.3l1,2.6l1-.7l1,.5l1-2l1,.7l1-.9l1,1.7l1,.8l1-2.4l1,2.4l1-.9l1-.6l1-1.5l1,2.7l1-.8l1-.6l1,1l1,0l1,.6l1-1.7l1,1.5l1,.1l1,.1l1-1.3l1-.7l1,1.4l1-.7l1-.2l1,1.1l1-.7l1-2.2l1,1.4l1-.8l1,2.2l1-.5l1-.4l1,.2l1,.9l1-.4l1,.8l1-1.4l1,1.2l1,.3l1-.6l1-1.3l1,1l1-1.8l1,0l1-.2l1,2.5l1-2.1l1,1.1l1-.3l1,.2l1-.5l1,.7l1,1.1l1-1.3l1,.4l1,.3l1-1.1l1-.5l1,.5l1,1l1-2.2l1,1.1l1,1.7l1-.5l1-.6l1,.2l1-.3l1-.8l1-.7l1,1l1,1.3l1-1.1l1-.4l1,0l1-.4l1,.8l1-1l1,1.6l1-2.2l1,2.4l1-1.1l1-.9l1,2.3l1-.4l1-2.4l1,1.4l1,1.1l1-.7l1,.6l1,.3l1-.3l1,0l1,.6l1-.5l1-.3l1-1.8l1,2.1l1,.5l1-1l1-.4l1,2.4l1-3.1l1,1.5l1,1.7l1-2.9l1,1.5l1,1.3l1-1.7l1,.2l1,.6l1-1.9l1,1.1l1,.3l1,.8l1-1.2l1,.3l1-1l1.1,.5l1,1.3l1-.6l1-.9l1-.2l1,2.9l1-1.5l1-.1l1-3.1l1,2.6l1-.2l1,.9l1-1.1l1,.1l1,.5l1-2l1,2.5l1-.6l1-1.1l1,1.8l1,.8l1-3l1,1.1l1,.6l1,.2l1-1l1-.5l1,2.2l1-.9l1-1.7l1-.2l1,2.8l1-.6l1,.6l1-1.2l1-.9l1,.4l1-1.7l1,1.2l1,.5l1,.3l1-.8l1,.4l1,.3l1,.2l1,.2l1-.4l1-.6l1,1l1-.7l1-1l1,.2l1,.9l1,.3l1,.3l1-.8l1,.5l1-.3l1-1.1l1,1.5l1,.4l1-.8l1-.2l1,.4l1-1.2l1-.4l1,1.8l1-1.2l1,1.3l1-1.6l1-.9l1,.8l1,2.9l1-2.1l1-1.1l1,.5l1,1.6l1-.4l1,.1l1,1.4l1-15.3l1-.3l1,.8l1,.8l1-.7l1,.1l1-2.1l1,1.3l1,.4l1-.8l1,1.1l1-.4l1,.1l1-.8l1,2.1l1-.8l1-1.1l1,.2l1,2.1l1-2.4l1,.9l1-.1l1-.4l1-1.3l1,1.3l1,.1l1,.7l1-.7l1-.5l1,.5l1,.3l1-.7l1-.1l1,0l1,.7l1-1.2l1,.5l1,.2l1-1l1,.4l1-1.1l1,.8l1,1.2l1,.1l1-.4l1-.3l1-.8l1,2.5l1-.9l1,.2l1-1.3l1,.6l1-1.5l1,2.2l1-.2l1-1.7l1,.9l1,1l1-1.8l1-.6l1,.9l1,.5l1-.6l1,1.1l1,0l1,.1l1,.3l1,.8l1-.3l1-2l1,.6l1-.5l1,.4l1,.8l1-.4l1,.9l1-2.2l1,.3l1,1.3l1-.6l1-.3l1,.6l1-.3l1,.5l1,.5l1-.3l1-1l1,.4l1-1.8l1,1.3l1,.2l1-.7l1,1l1,.1l1-1.1l1,.6l1-.2l1,.9l1,.3l1-.4l1-1.1l1,1l1-.1l1,.9l1-.6l1-.9l1-.1l1,.6l1,.3l1-1l1,1.4l1-.4l1,.4l1,.2l1-.8l1,2.5l1-2.3l1,1l1-1l1-5.2l1-2.5l1,.7l1,1.3l1,.1l1,1.3l1-1.6l1,.9l1-.8l1,.6l1-.4l1-.6l1,.6l1-1.6l1.1,2.5l1-2.3l1,1.3l1,1.4l1,4l1,.4l1,.6l1-.5l1-1.1l1,1.1l1,.3l1,.4l1-1.5l1,1.8l1,0l1-1.2l1,.3l1-.6l1,1.8l1-2l1,.8l1-.8l1-.1l1,.9l1,.4l1-1.1l1-.1l1,.9l1-.4l1,0l1,1.1l1-.1l1-1.5l1,1.8l1-1.6l1,.2l1-.2l1-.1l1-1.6l1,2.9l1-.5l1-1.7l1-.1l1-.1l1,2.1l1-1l1,0l1-.3l1,.4l1-.8l1,1l1-1.3l1,1l1,.4l1-.1l1-.5l1-.3l1,.8l1-.4l1,1.4l1-.6l1-.6l1,0l1-.3l1-.1l1,.3l1,.7l1,.1l1-.2l1,1.6l1-2.5l1,.8l1,2.2l1-3.8l1,1.3l1,.2l1-.1l1-.1l1,.1l1,.8l1-.3l1,.2l1-2l1,.4l1,.5l1-.2l1-.6l1,1.5l1-1l1,1.1l1,.1l1-.1l1,0l1-.6l1-.9l1,1l1,.5l1-.7l1-.3l1,1.1l1-1.4l1,1.1l1,.8l1-1.8l1,.3l1,.1l1,1.1l1-.9l1,.6l1-1.6l1,.9l1-.5l1,14.4l1,2.5l1-.5l1-2.3l1,2l1-.3l1,.3l1-.1l1-1.7l1,.9l1,1.4l1-1.6l1-.2l1-.1l1,.2l1,1.3l1,.8l1-.8l1-.1l1,1.7l1-2.7l1-.1l1,1.3l1,.3l1-1.6l1-.1l1,1.1l1-.2l1-1.1l1,1.1l1-.7l1,.8l1-.4l1,.1l1,.1l1,1.2l1,0l1-1.5l1,1.3l1-1.7l1,.8l1,.5l1,.5l1-1.6l1,.3l1-.1l1-1.6l1,1.6l1-.2l1,0l1-.8l1-.6l1,1.6l1,.3l1-.8l1,1.1l1-1.4l1,.6l1,.4l1-1.4l1,.7l1,.5l1,.9l1-1.1l1,.4l1-.4l1,.8l1,1.1l1-1.9l1,1.9l1-1.5l1,.1l1,.3l1,.9l1-1.9l1-147.8l1,2.4l1-.2l1,0l1,1.3l1-1.8l1,0l1,.1l1-.5l1,1.2l1-3.1l1,.8l1-2.8l1,3.7l1-1l1,.9l1,1.3l1-2.4l1-.1l1,0l1-.3l1-.1l1,.7l1-.2l1-.3l1-.3l1,1l1.1,148.8l1-.5l1,.6l1-.9l1-1.2l1,2.2l1-.4l1-1.1l1,1.9l1-.6l1-1.4l1,2.6l1-.8l1-.2l1-.6l1,0l1-1.6l1,2.6l1-1.2l1-.4l1,.4l1,.3l1,0l1-.9l1,.6l1-2l1,1.4l1,1.1l1,.3l1-1.1l1,0l1,1.6l1-1.7l1,.9l1,.5l1-.6l1,.3l1-1.4l1,.7l1,.5l1-.3l1,.8l1,1.2l1-2.8l1,.3l1,.5l1-1.2l1,1.3l1,.5l1-.8l1,.7l1-2.3l1,2.2l1-1.6l1,.4l1,.3l1,0l1,.9l1-.6l1-.6l1,1.3l1,.4l1-1l1,.4l1,.5l1-.6l1-1.2l1,3.2l1-.5l1-3.3l1,1.7l1,.4l1,.2l1-.5l1-.4l1-.7l1,1.3l1,.5l1-1.8l1,.4l1,.6l1-1.8l1,1.9l1-.7l1,1l1-1l1-.5l1,.9l1,0l1-.4l1,.3l1,.8l1,.3l1,.4l1-2.6l1,.5l1-1.6l1,3.4l1-2l1,.3l1,.4l1-1.5l1,1.5l1-.6l1-1.5l1,1.9l1,.6l1-2l1,2l1-.3l1-.3l1,0l1,.9l1-1.3l1,.9l1-1l1,1l1-1.3l1,.9l1,1.5l1-.9l1-.9l1-.8l1,.5l1,2.3l1,.6l1-.5l1,.4l1-.7l1,1.1l1-1.1l1-.1l1,.9l1-.7l1-.4l1-.1l1,.4l1,.7l1-.4l1-2.7l1,1.4l1-.5l1-.7l1,1.4l1-1.1l1,.2l1,.7l1,.5l1-1.4l1,1.1l1-1.5l1,3.2l1-2.4l1-8.5l1-1.4l1,1.1l1,1.6l1-3.9l1,1.6l1,.5l1-.6l1,0l1,2.5l1-1.9l1-.8l1,1.7l1-1.9l1,2l1-1.4l1,.7l1,.9l1-1.1l1-.5l1-.6l1,2.5l1-.5l1-1.2l1,1.5l1-.4l1,.5l1-2.7l1,1.6l1,.7l1,.2l1,.4l1-3.1l1,1.8l1,.9l1,1.6l1-2.4l1-.5l1,.8l1,.5l1-1.2l1,1.8l1-1.7l1,1.1l1-.9l1,.8l1-.4l1-1l1,2.2l1-.4l1-.9l1,.7l1,.9l1-1.5l1-92.2l1,.7l1,.1l1-.8l1-1.3l1,2.7l1-.9l1.1-.2l1-.1l1,.1l1-.3l1-.5l1-.4l1,.4l1-.2l1-.7l1,2l1-2l1,1.3l1-1l1,1.2l1,.7l1-1.3l1-.9l1,.8l1-.1l1-1.3l1,.9l1,.5l1-.7l1,.2l1,.6l1-.1l1,.1l1-.2l1-.9l1,.1l1,.2l1-.4l1,0l1-1.2l1,.8l1,.5l1-1l1,.7l1,.5l1-.8l1,1.5l1-3.4l1,1.7l1-1.6l1,2.9l1,.6l1-3.7l1,1.9l1,.2l1-.6l1,.7l1-2.3l1,2.8l1-.8l1,.1l1-.7l1,1.1l1-1.5l1,.9l1-1.2l1-1.1l1,1.9l1,.1l1,.5l1-1.2l1,.4l1,.6l1-.5l1,1.1l1,.5l1-2.7l1-.4l1,1.9l1,.5l1-.4l1,0l1-1.8l1,.2l1,1.1l1-1.5l1-.9l1,.6l1,2.9l1-.4l1-2.6l1,.1l1,.8l1-29.5l1,1.6l1-1.4l1-1.1l1,1.2l1-1.5l1,.7l1,.1l1-.8l1,.3l1-.8l1-1.1l1-.6l1,.4l1,.4l1,.2l1,.6l1,.4l1-.7l1-1.3" fill="none" stroke="#BA43A9" stroke-width="1.0" stroke-linejoin="round"/>
<path d="M68.5,412.1l1,1l1-.1l1-.1l1-.7l1,0l1,1.3l1-.2l1,.4l1-.3l1-.3l1,.2l1-1.2l1,1.8l1-.7l1,.4l1-2.5l1,.3l1,1l1,1.1l1,.2l1-.6l1,.2l1-.4l1,.8l1-.1l1-1.4l1,1.7l1-.5l1,.6l1-1.2l1-.8l1,.2l1,.5l1,.5l1-.1l1-.9l1,0l1,.6l1,1l1-2.1l1,.9l1,.9l1-2l1,1.3l1,1.4l1-3l1,1.3l1,.2l1-.7l1,1.6l1-.8l1-.4l1,1.3l1-.3l1-.1l1,.9l1-1.4l1,.1l1-1.4l1,2l1-1.4l1,.6l1-1.1l1,.6l1,0l1,2.1l1-3.2l1,0l1,1.7l1,.9l1-.7l1-1.9l1-.5l1,2.5l1-.6l1-.1l1,1.5l1-.5l1-.5l1,.6l1-.4l1,1.1l1-.5l1-.4l1,.3l1-1.9l1,2.5l1-.7l1,0l1-1.7l1,.8l1,.9l1-1.9l1,1.3l1,.9l1-2.1l1,1.7l1,.1l1-1l1,.3l1,.5l1-.4l1,.7l1-1.3l1,.2l1,1.3l1.1-1.1l1-.8l1,1.7l1,.1l1-1.6l1,.2l1,.4l1,0l1,0l1,1.6l1-2.3l1,2l1-2.2l1,1.1l1,.9l1,.1l1,.5l1-.9l1,.3l1-.3l1,.1l1-.6l1,.6l1,.3l1-1l1,1.3l1-.8l1,1.2l1-1.4l1-.4l1-.6l1,.5l1,1.5l1-1.8l1,.4l1,1.5l1-3.4l1,.5l1,2l1,.1l1-.5l1-.4l1,1.1l1-.7l1-.5l1,2.9l1-2.3l1-1l1,.7l1-.2l1,.1l1-1.7l1,1.7l1,.8l1-1.6l1,.8l1,.7l1,.3l1,.6l1-3l1,1.2l1,.4l1,.5l1,.4l1-3.3l1,3.5l1-2.2l1,2l1-1.6l1,1.3l1,.4l1-.8l1,.4l1,.4l1-.4l1,.3l1,.7l1-.7l1-.5l1,2.1l1-3.1l1,1.6l1-1l1,.6l1,.6l1-.5l1,.2l1-1.8l1-.2l1,2.1l1-1.7l1-.7l1,0l1,3l1-1.1l1,1l1-2.3l1,.7l1-1.2l1,2.1l1,.9l1-2.8l1,2.4l1-.8l1-.3l1-1.4l1,2.4l1-1.1l1-.2l1,1l1,0l1,.5l1-1.8l1,1.5l1,.1l1,.3l1-1.4l1-1l1,1.4l1-.4l1,.2l1,.9l1-.6l1-2.1l1,1.2l1-.8l1,1.8l1-.2l1-.5l1,.2l1,1l1-.4l1,.7l1-1.5l1,1.3l1,.1l1-.2l1-1.7l1,1l1-1.5l1,0l1-.3l1,2.9l1-2.3l1,.9l1-.5l1,.3l1-.3l1,.7l1,.7l1-1.2l1,.8l1,.6l1-1.3l1-.6l1,.2l1,1.3l1-2.4l1,1l1,1.7l1-.3l1-.5l1-.3l1-.2l1-.7l1-.3l1,1.4l1,.9l1-1.6l1-.1l1-.3l1-.1l1,.6l1-1.1l1,1.7l1-2.1l1,2.2l1-1.1l1-.5l1,2l1-.2l1-2.3l1,1.2l1,1.2l1-.7l1,.3l1,.6l1-.6l1-.2l1,1.2l1-.3l1-.7l1-1.7l1,2.3l1,.1l1-1.4l1,.1l1,2.5l1-3.4l1,1.7l1,1.8l1-3l1,1.5l1,1l1-1.3l1,0l1,.7l1-2l1,1.6l1,0l1,.7l1-.9l1-.5l1-.4l1.1,0l1,1.8l1-1l1-.3l1-.6l1,3.2l1-1.8l1,.2l1-3.2l1,2.7l1-.2l1,.8l1-1.4l1,.2l1,.7l1-1.8l1,2l1,0l1-1.1l1,1.5l1,.9l1-3.3l1,1.3l1,.5l1-.1l1-.7l1-.4l1,1.9l1-.8l1-1.7l1-.2l1,2.9l1-.8l1,1l1-1.5l1-1l1,.7l1-1.9l1,1.5l1,.2l1,.5l1-.5l1,.1l1,0l1,.2l1,.3l1-.2l1-.9l1,1.3l1-.8l1-1l1,.5l1,.4l1,.2l1,.1l1,.1l1,.2l1,0l1-1.6l1,1.5l1,.5l1-.8l1-.2l1,.4l1-1l1-1l1,2.4l1-1.5l1,1.6l1-1.9l1-.7l1,.7l1,2.9l1-1.8l1-1.5l1,.1l1,2.1l1-.7l1,.5l1,1.4l1-15.3l1-.7l1,1.1l1,.7l1-.4l1-.3l1-1.6l1,1l1,.3l1-.6l1,.7l1-.3l1,.4l1-.9l1,2.1l1-1l1-1l1,.6l1,1.5l1-2l1,.8l1-.1l1-.5l1-.8l1,.8l1,.2l1,.3l1-.2l1-.6l1,.6l1,.2l1-.7l1-.1l1,.1l1,.5l1-.9l1,.2l1,.5l1-1.1l1-.2l1-.5l1,.6l1,1.5l1,.1l1-.7l1,.2l1-1l1,2.4l1-1.4l1,.6l1-1.1l1,.3l1-1.4l1,1.9l1,0l1-1.2l1,.8l1,.6l1-1.3l1-.9l1,1.3l1,0l1-.3l1,.6l1,.1l1,.2l1,.4l1,.6l1,0l1-2.2l1,.9l1-.5l1-.1l1,1l1-.6l1,1.2l1-2.2l1,.2l1,1.4l1-.7l1-.2l1,.8l1-1.1l1,1l1,.6l1-.6l1-.8l1,.4l1-1.9l1,1.3l1,.3l1-.4l1,.8l1,.1l1-1.3l1,.6l1-.1l1,.9l1,.3l1-.3l1-1.7l1,1.3l1,.3l1,.8l1-.6l1-1.1l1-.1l1,.6l1,.3l1-.9l1,1.2l1-.1l1,.2l1,.6l1-.7l1,2.1l1-2.2l1,.5l1-.4l1-5l1-2.9l1,.7l1,1.2l1,.2l1,1.2l1-1.4l1,.8l1-.7l1,.5l1-.3l1-.9l1,.9l1-1.5l1.1,2.1l1-2.3l1,1.5l1,1.4l1,4.1l1,.3l1,.7l1-.8l1-1.1l1,1.4l1,.3l1,.5l1-1.7l1,1.8l1,.1l1-1l1,.1l1-.9l1,2.1l1-1.7l1,.5l1-1l1,.1l1,1.3l1-.2l1-.8l1-.1l1,.9l1-.8l1-.2l1,1.3l1,.2l1-1.5l1,2l1-1.7l1-.1l1-.4l1,.3l1-1.7l1,2.9l1-.3l1-1.9l1,.1l1,0l1,1.8l1-.8l1-.1l1-.6l1,.4l1-.5l1,.6l1-1l1,1.3l1-.3l1,.2l1-.6l1-.2l1,.9l1-.4l1,1.4l1-.1l1-1.5l1,.5l1-.4l1,.1l1-.2l1,.8l1,.1l1-.1l1,2l1-2.5l1,.2l1,2.4l1-3.6l1,1.2l1,.2l1,.4l1-.3l1-.1l1,.2l1-.3l1,.5l1-1.8l1,.3l1,.8l1-.4l1-.7l1,1.5l1-.3l1,.3l1,.4l1,0l1,.1l1-1l1-.7l1,1.1l1,.1l1-.6l1-.2l1,1.2l1-1.4l1,1l1,1.3l1-2l1,0l1,.1l1,1l1-1l1,.5l1-1.4l1,1.2l1-.7l1,14l1,3.1l1-.6l1-2.4l1,1.8l1-.2l1,.5l1-.3l1-1.7l1,.7l1,1.4l1-1.3l1-.3l1,0l1,.4l1,.9l1,.9l1-.6l1-.2l1,1.8l1-2.4l1-.7l1,1.6l1,.3l1-1.5l1-.5l1,1.4l1-.4l1-1.1l1,1.6l1-1.2l1,.7l1-.5l1,.5l1-.1l1,1.1l1,.4l1-2l1,1.4l1-1.3l1,.8l1,.2l1,.3l1-1.1l1,.4l1-.2l1-2l1,1.7l1,.1l1-.7l1-.2l1-1l1,2l1,.2l1-.7l1,.6l1-1l1,.6l1,.3l1-1.4l1,1l1,.8l1,.5l1-1.6l1,.8l1-.2l1,.6l1,.8l1-1.5l1,1.7l1-1.5l1,.2l1,.1l1,1.4l1-2.3l1-147.9l1,2.4l1,.2l1-.4l1,1.4l1-1.5l1,.3l1-.5l1-.7l1,1.5l1-3l1,.6l1-2.3l1,3.2l1-1.4l1,1.6l1,1.5l1-3l1,0l1,.2l1-1l1,.2l1,.9l1-.2l1-.1l1-.7l1,1.2l1.1,149.2l1-.8l1,.8l1-1l1-1.5l1,2.5l1-.2l1-1.3l1,1.6l1-.4l1-1.4l1,2.7l1-1.1l1-.2l1-.4l1,0l1-1.6l1,2.4l1-1.1l1-.3l1,.8l1-.1l1-.3l1-.6l1,.8l1-2l1,1.1l1,1.3l1,.2l1-.9l1-.2l1,1.6l1-2l1,.8l1,1l1-.5l1,.2l1-1.5l1,.6l1,.8l1-.5l1,1.1l1,.9l1-2.8l1,.3l1,.7l1-1.2l1,1.2l1,.4l1-.9l1,.9l1-2.6l1,2.6l1-1.7l1,.7l1,0l1,0l1,.6l1-.4l1-.9l1,1.6l1,.3l1-.7l1,.2l1,.5l1-.8l1-.8l1,3l1-.5l1-3.1l1,1.5l1,0l1,.6l1-.2l1-.7l1-.4l1,1.1l1,.5l1-1.8l1,.1l1,.5l1-1.5l1,1.9l1-.6l1,.8l1-1.4l1-.3l1,.8l1,.1l1,0l1,.2l1,.7l1,.4l1,.2l1-2l1-.1l1-1.4l1,3.8l1-2.5l1,.5l1,.3l1-1.7l1,1.6l1-.8l1-1l1,1.6l1,.6l1-2.3l1,2.2l1,.1l1-.3l1-.5l1,1.4l1-1.7l1,.9l1-.9l1,1l1-1.2l1,.6l1,1.8l1-.7l1-1.3l1-.5l1,.3l1,2.6l1,.2l1-.3l1,.6l1-1l1,.8l1-.5l1-.5l1,1.1l1-.7l1-.3l1,.2l1,.1l1,.8l1-.8l1-2.5l1,1.3l1-.2l1-.6l1,1.3l1-1.6l1,.3l1,.8l1,.6l1-1.6l1,1.6l1-2l1,3.3l1-2l1-8.7l1-1.2l1,.9l1,1.3l1-3.8l1,1.9l1,.2l1-.5l1-.2l1,2.8l1-1.8l1-.7l1,1.9l1-2.1l1,1.6l1-.9l1-.1l1,1.4l1-1.1l1-1.2l1,.1l1,2.4l1-.3l1-1.4l1,1.7l1-.8l1,.8l1-2.3l1,1l1,1.1l1-.1l1,.3l1-3.1l1,2l1,.8l1,1.5l1-2.4l1-.1l1,.6l1,.6l1-1.5l1,1.7l1-2l1,1.3l1-.8l1,1.2l1-.5l1-1.1l1,2.1l1-.1l1-1l1,.6l1,1.1l1-1.8l1-92.1l1,.5l1,.4l1-1.2l1-.9l1,2.2l1-.8l1.1,0l1,.3l1-.2l1-.3l1-.2l1-1l1,.9l1-.2l1-.6l1,2.1l1-2.4l1,1.7l1-1.5l1,1.2l1,1.1l1-1.4l1-1l1,.9l1-.4l1-.9l1,.7l1,.2l1-.2l1-.4l1,.9l1-.2l1,.1l1,.3l1-1.2l1,0l1,.1l1-.2l1-.4l1-.7l1,.7l1,.1l1-.6l1,.6l1,.9l1-1.2l1,1.5l1-3.6l1,1.8l1-1.7l1,3.1l1,.7l1-3.5l1,1.5l1,.3l1-.7l1,1.1l1-2.5l1,2.7l1-.6l1-.5l1-.4l1,1l1-1.2l1,.7l1-1.6l1-.6l1,1.8l1,.1l1,.5l1-1.1l1,.4l1,.5l1-.5l1,1.4l1,.2l1-2.4l1-.8l1,2.4l1,0l1-.4l1,.3l1-1.9l1,.4l1,1.1l1-1.5l1-1.3l1,.4l1,3.1l1-.3l1-2.5l1,.2l1,.7l1-29.6l1,1.7l1-1.3l1-1.1l1,1.1l1-1.4l1,.4l1,.3l1-1.1l1,.5l1-.6l1-.9l1-.8l1,.4l1,.3l1-.1l1,1l1,.2l1-.5l1-1.8" fill="none" stroke="#705DA0" stroke-width="1.2" stroke-linejoin="round"/>
<path d="M68.5,410.9l1,.9l1-.2l1,.4l1-1.2l1,.2l1,1.1l1-.3l1,1.1l1-.8l1-.3l1,.4l1-1.6l1,2.2l1-.9l1,.6l1-2.9l1,.3l1,1.5l1,.8l1-.1l1-.7l1,.5l1-.2l1,.4l1-.1l1-1l1,1.3l1,.2l1,.1l1-.9l1-.8l1,.4l1,0l1,.8l1-.6l1-.7l1,.3l1,.5l1,.6l1-1.4l1,.9l1,.6l1-1.9l1,1.3l1,1.6l1-3.8l1,1.5l1,.3l1-.7l1,2l1-1.1l1-.4l1,1.1l1,.2l1-.7l1,1.4l1-1.5l1,.1l1-1.6l1,2.2l1-1.8l1,1l1-1.2l1,.6l1,0l1,1.9l1-2.7l1-.4l1,1.8l1,.9l1-.6l1-2.2l1-.5l1,2.9l1-1l1-.2l1,2.1l1-.6l1-1.2l1,1.2l1-.5l1,1.5l1-1l1-.2l1,.1l1-1.6l1,2.5l1-1l1,.1l1-1.8l1,.8l1,.9l1-1.8l1,1.1l1,1.4l1-2.6l1,1.9l1,.2l1-.9l1,0l1,.3l1,0l1,.7l1-1.5l1,.2l1,1.4l1.1-1.3l1-.4l1,1.6l1-.5l1-1.2l1,.3l1,.6l1-.5l1,.3l1,1.9l1-2.6l1,2.1l1-2.2l1,1.1l1,1l1-.1l1,.2l1-.5l1,.5l1-.7l1,.5l1-1l1,.7l1,.1l1-.7l1,1l1-.7l1,1.2l1-1l1-.9l1-.1l1,0l1,1.6l1-1.8l1,.6l1,1.4l1-3.8l1,.9l1,2.1l1,0l1-.1l1-.6l1,.8l1-.4l1-1.2l1,3.4l1-2.4l1-.5l1,.3l1,0l1,.2l1-1.9l1,1.7l1,.7l1-2l1,1.1l1,.9l1,.1l1,.8l1-3.2l1,1.6l1,0l1,.5l1,.6l1-3.3l1,3.3l1-1.7l1,1.2l1-1.1l1,1.2l1,.3l1-.6l1,.1l1,.6l1-.6l1,.5l1,.6l1-.4l1-.3l1,1.9l1-3.4l1,1.5l1-.7l1,.4l1,.8l1-.4l1,.2l1-2.2l1-.6l1,2.8l1-1.9l1-.8l1,.5l1,2.5l1-.6l1,.6l1-2l1,.3l1-1l1,2.4l1,.5l1-2.7l1,2.9l1-1.2l1-.4l1-1.4l1,2.5l1-.9l1-.8l1,.9l1,.6l1,0l1-1.4l1,1.3l1-.1l1,.6l1-1.6l1-.8l1,1.5l1-.5l1,.2l1,1l1-.9l1-1.7l1,1.4l1-1.3l1,2.1l1-.1l1-.6l1-.1l1,1.3l1-.4l1,.2l1-1.1l1,1.2l1,.3l1-.4l1-1.7l1,.8l1-1.3l1,.3l1-.8l1,3.1l1-2.3l1,1l1-.6l1,.5l1-.3l1,.3l1,.6l1-.8l1,.9l1,.4l1-1.1l1-.7l1-.3l1,1.7l1-2.6l1,1.2l1,1.9l1-.5l1-.5l1-.5l1-.2l1-1l1,.3l1,1l1,1.2l1-1.5l1-.2l1-.2l1-.5l1,1.3l1-1.2l1,.9l1-1.6l1,2.1l1-.7l1-.5l1,1.5l1-.2l1-2.1l1,1.5l1,.7l1-.6l1,.5l1,.7l1-.8l1-.2l1,1.4l1-.7l1-.5l1-1.4l1,1.9l1,.4l1-1.4l1-.3l1,2.5l1-3.3l1,1.6l1,2.1l1-2.8l1,1.2l1,.9l1-1.5l1,.5l1,.6l1-2.2l1,1.8l1,0l1,.4l1-.6l1-.4l1-.7l1.1,.4l1,1.1l1-.4l1-.5l1-.9l1,3.4l1-1.7l1-.1l1-3l1,2.8l1-.4l1,1.1l1-1.8l1,.4l1,.8l1-2.1l1,2l1,.2l1-1.3l1,1.9l1,.7l1-3.2l1,1.4l1,.2l1,0l1-.5l1-.1l1,1.1l1-.4l1-1.9l1,.2l1,2.8l1-.9l1,1.2l1-1.6l1-1.2l1,.5l1-1.9l1,2.2l1-.4l1,.8l1-.4l1-.1l1,.2l1,.3l1-.2l1,0l1-1l1,1.5l1-.8l1-1.3l1,.4l1,.9l1-.2l1,.2l1,0l1,.7l1-.3l1-1.9l1,1.7l1,.4l1-.6l1,0l1,.1l1-.7l1-1.3l1,2.5l1-1.3l1,1.5l1-1.6l1-1.2l1,.5l1,3.2l1-1.6l1-1.8l1-.1l1,2.4l1-.5l1,.4l1,1.1l1-15l1-.9l1,1.3l1,.8l1-.8l1-.3l1-1.3l1,1.2l1-.3l1-.2l1,.5l1-.1l1,.1l1-1l1,2.4l1-.8l1-.9l1,.2l1,1.6l1-2.1l1,.6l1,.3l1-.6l1-.7l1,.5l1,.8l1-.1l1-.2l1-.6l1,.6l1,0l1-.5l1-.1l1,.2l1,.5l1-.9l1,.1l1,.7l1-1.6l1,0l1-.1l1,.1l1,2l1,.1l1-1.1l1,.4l1-1.3l1,2.8l1-1.6l1,.5l1-1l1,0l1-1.1l1,1.9l1,0l1-1.1l1,.4l1,1l1-1.5l1-.6l1,1.3l1,0l1-.2l1,.4l1-.2l1,.2l1,.7l1,.4l1,0l1-2l1,1.2l1-.6l1-.5l1,1.4l1-1l1,1.2l1-2.1l1,.2l1,1.7l1-1.2l1-.2l1,1.3l1-1.5l1,.9l1,.6l1-.2l1-.8l1,.4l1-2.1l1,1l1,.8l1-1.1l1,1.2l1,.1l1-1.4l1,.6l1-.1l1,1.3l1,0l1-.3l1-1.5l1,1.2l1,.3l1,.4l1-.2l1-1.1l1-.1l1,.3l1,.8l1-1.1l1,1.3l1-.3l1,.3l1,.8l1-.7l1,1.7l1-2.3l1,.7l1-.5l1-4.8l1-3l1,.7l1,1.4l1,0l1,1.3l1-1.3l1,.6l1-.8l1,1l1-.7l1-.9l1,1.2l1-1.5l1.1,1.8l1-2.6l1,1.9l1,1.6l1,3.9l1,.3l1,.6l1-.5l1-1.1l1,1.1l1,.1l1,.7l1-1.5l1,2l1-.2l1-1.1l1,.4l1-1.2l1,1.9l1-1.5l1,.8l1-.9l1-.1l1,1.1l1,.2l1-1.1l1-.2l1,1.1l1-.8l1,.3l1,.9l1,0l1-1.6l1,2.3l1-1.8l1-.1l1-.5l1,.3l1-2l1,3.2l1-.3l1-1.8l1,.1l1-.4l1,1.8l1-.5l1-.2l1-.5l1,.6l1-1l1,1.2l1-1.3l1,.9l1-.3l1,.5l1-.8l1,.2l1,.4l1,0l1,1.1l1,.3l1-1.8l1,.7l1-.5l1,.3l1-.1l1,.8l1-.3l1,.1l1,2.1l1-2.7l1,.3l1,2l1-3.4l1,1.4l1,.3l1,.5l1-.7l1,.1l1,.5l1-.4l1,0l1-1.7l1,.2l1,1.3l1-.9l1-.6l1,1.7l1-.7l1,.9l1,.1l1-.2l1,.6l1-1.1l1-.5l1,.9l1,.2l1-.5l1-.2l1,.7l1-1l1,.9l1,1.1l1-2.1l1,.2l1,.1l1,1.1l1-.9l1,.5l1-1.3l1,1.1l1-.9l1,14.1l1,3.2l1-.8l1-2.2l1,1.8l1-.2l1,.1l1,.1l1-2.1l1,1.2l1,1.2l1-1.3l1-.2l1-.1l1,0l1,.8l1,1.4l1-.8l1-.2l1,2.2l1-2.9l1-.5l1,1.8l1,.4l1-1.8l1-.3l1,1l1,0l1-1.2l1,1.6l1-1.9l1,1.2l1-.5l1,.7l1-.3l1,1.1l1,.5l1-1.8l1,1.4l1-1.3l1,.9l1,0l1,.1l1-1.2l1,.6l1,0l1-2l1,1.6l1-.1l1-.7l1,.3l1-1.5l1,2l1,.1l1-.6l1,.4l1-.5l1,.8l1,.4l1-1.7l1,.9l1,.4l1,.8l1-1.9l1,.9l1,0l1,.7l1,.9l1-1.7l1,1.8l1-1.7l1,.5l1-.2l1,1.5l1-2.3l1-148.1l1,2.3l1,.5l1-.4l1,1.7l1-1.6l1,0l1-.2l1-.9l1,1.7l1-3l1,.5l1-2.3l1,3.2l1-1.9l1,2l1,1.6l1-3.3l1,.4l1-.3l1-.5l1,0l1,1l1-.4l1,.3l1-1.1l1,1.4l1.1,149.3l1-1.1l1,.7l1-1l1-.9l1,2.2l1-.5l1-1.2l1,2l1-.4l1-1.7l1,2.7l1-1l1-.1l1-.9l1,.4l1-1.8l1,2.4l1-.9l1-.5l1,1.1l1-.6l1,.1l1-.5l1,.6l1-1.9l1,.9l1,1.3l1,.1l1-.9l1,.3l1,1.5l1-2.5l1,1.3l1,1l1-.9l1,.4l1-1.1l1,0l1,1.3l1-1l1,1.5l1,.7l1-2.9l1,.6l1,.9l1-1.6l1,.8l1,1.1l1-1.5l1,1.4l1-3.2l1,3.1l1-1.8l1,.7l1-.1l1,0l1,.7l1-.3l1-.8l1,1.5l1,.1l1-.6l1,.3l1,.5l1-.8l1-1.1l1,3.4l1-.9l1-2.9l1,1.6l1-.1l1,.6l1,0l1-.9l1-.5l1,1.1l1,.7l1-1.8l1,.1l1,.3l1-1.3l1,2.1l1-.9l1,1.4l1-2l1-.2l1,.6l1,.1l1-.1l1,.5l1,.9l1,.1l1,0l1-2l1,.5l1-1.4l1,3.4l1-3.1l1,1.3l1,.1l1-2.2l1,2.1l1-.7l1-.8l1,1.2l1,.8l1-2.2l1,2l1,.3l1-.8l1-.3l1,1.4l1-1.1l1,.2l1-.8l1,1.2l1-1.2l1,.5l1,1.6l1-.7l1-1l1-.4l1,0l1,2.9l1,0l1-.6l1,1.1l1-1.3l1,.8l1-.5l1-.4l1,1.1l1-.9l1,.2l1-.3l1,.4l1,.6l1-.7l1-2.6l1,1.1l1,.1l1-.9l1,1.8l1-1.7l1,.3l1,.5l1,.7l1-1.5l1,1.6l1-1.9l1,2.7l1-1.5l1-8.7l1-1l1,.8l1,1l1-3.6l1,2l1,0l1-.3l1-.2l1,2.4l1-1.1l1-1.5l1,2.5l1-2.2l1,1.6l1-1.1l1-.1l1,1.4l1-.4l1-2l1,.4l1,2.6l1-.9l1-.9l1,1.3l1-.8l1,1l1-2.5l1,1.2l1,1.2l1-.4l1,.4l1-2.6l1,1.7l1,.6l1,1.6l1-2.5l1,.1l1,.6l1,1.1l1-2.2l1,1.7l1-2.1l1,1.2l1-.5l1,1.3l1-.5l1-1l1,1.9l1-.5l1-.7l1,.8l1,.8l1-1.6l1-92.2l1,.4l1,.8l1-1.2l1-.9l1,2l1-.8l1.1-.1l1,.4l1,0l1-.7l1,0l1-.9l1,.9l1-.4l1-.4l1,1.8l1-2.2l1,1.8l1-1.7l1,1.1l1,1.5l1-1.3l1-1.7l1,1.2l1-.3l1-.9l1,.6l1,.5l1-.2l1-.3l1,.6l1-.3l1,.1l1,.4l1-1.5l1,0l1,.7l1-.4l1-.2l1-.7l1,.6l1-.4l1,.1l1,.1l1,.8l1-.8l1,1.3l1-3.8l1,1.9l1-1.4l1,3.1l1,.4l1-3.3l1,1.4l1,.2l1-.2l1,.8l1-2.7l1,3.1l1-.7l1-.1l1-.9l1,1l1-1.5l1,.7l1-1.4l1-.6l1,1.5l1,.2l1,.6l1-1.2l1,.7l1,.3l1-.6l1,1.8l1-.3l1-1.9l1-1.3l1,2.8l1,.1l1-.4l1-.1l1-1.6l1,.3l1,1.1l1-1.2l1-1.6l1,.6l1,2.5l1,0l1-2.4l1,.3l1,.3l1-29.1l1,1.2l1-.9l1-1.2l1,.9l1-1.2l1,.4l1,.1l1-.9l1,.8l1-.9l1-.8l1-1.2l1,.7l1,.4l1-.1l1,1.1l1,.1l1-.5l1-1.8" fill="none" stroke="#508642" stroke-width="1.2" stroke-linejoin="round"/>
<path d="M68.5,407.7l1,1.8l1-.4l1,.2l1-1.3l1,.1l1,1.5l1-.3l1,1.1l1-1.1l1-.6l1,.8l1-1.4l1,1.8l1,.1l1,.1l1-3.1l1,.4l1,1.3l1,.5l1,.7l1-.7l1,.4l1-.7l1,1.1l1-.2l1-1.7l1,1.9l1-.6l1,.6l1-.7l1-1.3l1,1.2l1-.5l1,.6l1-.9l1,0l1,.8l1-.4l1,.8l1-1.7l1,1.1l1,.3l1-1.4l1,1.5l1,1.4l1-4.2l1,1.8l1,.5l1-.4l1,1.6l1-1.5l1,.2l1,.7l1,.3l1-.5l1,1.5l1-1.5l1-.5l1-1.3l1,2.4l1-2.5l1,1.1l1-1l1,.9l1,.4l1,1.7l1-2.8l1-1l1,2.2l1,1.3l1-1l1-2.6l1-.1l1,2.8l1-.4l1-1l1,2.1l1-.6l1-.8l1,1.1l1-.4l1,1.4l1-1l1-.1l1-.2l1-1.1l1,2.2l1-1.3l1,.2l1-1.4l1,.6l1,.6l1-1.7l1,1.7l1,1.1l1-3.1l1,2.2l1,.1l1-1.1l1,.5l1,.4l1,.4l1-.1l1-1.4l1,0l1,1.7l1.1-1.5l1,.1l1,1.2l1-.3l1-.9l1-.2l1,.6l1-.4l1,.2l1,2.1l1-2.9l1,2l1-1.8l1,1.1l1,.6l1,.1l1,.2l1-.5l1,.8l1-.6l1,.7l1-1.2l1,.5l1,.5l1-1.3l1,1.1l1-.6l1,1.6l1-1.4l1-.9l1,0l1-.5l1,2.4l1-2.2l1,.3l1,2.1l1-4.8l1,1.2l1,2.2l1-.4l1,.5l1-1.4l1,1.6l1-1.2l1-.7l1,3.9l1-2.7l1-.7l1,.1l1,.5l1,.4l1-2.2l1,1.6l1,.8l1-2.6l1,1.7l1,.6l1,.5l1,.3l1-3l1,1.8l1,.3l1,.2l1,.6l1-3.1l1,3l1-1.2l1,.5l1-.5l1,.6l1,0l1-.4l1,1.3l1,0l1-.5l1,0l1,.8l1-.9l1,0l1,2.1l1-3.4l1,1.7l1-.9l1,.1l1,1.5l1-.4l1,.2l1-2.7l1-.6l1,3.6l1-2.1l1-.9l1-.2l1,3.1l1-.6l1,.4l1-2.4l1,.6l1-.9l1,2.1l1,.4l1-2.4l1,3l1-1.3l1-.4l1-1.6l1,2.5l1,0l1-1.6l1,.7l1,.9l1,.2l1-1.8l1,1.3l1-.1l1,1.3l1-2.2l1-.5l1,.8l1,.7l1-1l1,1.6l1-.7l1-2.4l1,1.7l1-1.5l1,2.3l1-.3l1,.2l1-.3l1,.8l1-.5l1,.3l1-.5l1,.8l1,.3l1,.1l1-2.7l1,.9l1-1.2l1,.4l1-.5l1,2.9l1-2.4l1,1.5l1-.3l1-.1l1-.1l1,.1l1,.7l1-1.1l1,.6l1,.9l1-1l1-1l1-.2l1,1.9l1-2.8l1,1.2l1,1.9l1-.4l1,.1l1-.8l1,0l1-1.8l1,.7l1,.4l1,1.1l1-1.2l1-.4l1,.3l1-.2l1,1.3l1-1.2l1,.3l1-1.3l1,1.9l1-.4l1-.9l1,2.2l1,0l1-2.4l1,1.6l1,.5l1-.4l1,.4l1,.3l1,0l1-.7l1,1.2l1-.4l1-.5l1-1.7l1,1.8l1,.8l1-1.9l1-.4l1,3.2l1-3.9l1,1.6l1,2.4l1-3l1,1.4l1,.7l1-1.9l1,1.2l1,.4l1-1.5l1,1l1-.2l1,.4l1-.3l1-.2l1-1.3l1.1,.4l1,1.4l1,.4l1-.7l1-1.5l1,3.7l1-2.6l1,1.1l1-3.5l1,3l1-.7l1,1.5l1-2.5l1,.5l1,1.6l1-2.7l1,1.8l1,.4l1-1.3l1,1.8l1,.8l1-3.3l1,1l1,.5l1,.1l1-.5l1-.2l1,1.3l1,.2l1-2.2l1,.7l1,1.8l1-1.1l1,1.7l1-1.7l1-1.1l1,.7l1-1.9l1,1.4l1,.6l1,.5l1-.3l1-.3l1,0l1,.3l1,.1l1,.3l1-1.6l1,2l1-1.4l1-1.3l1,.5l1,1.6l1-.4l1-.1l1,0l1,.6l1-.7l1-1.2l1,1.8l1,.1l1-.8l1,.5l1,.1l1-1l1-.9l1,2.4l1-1.6l1,1.3l1-1.2l1-1.4l1,.5l1,3l1-1.2l1-1.9l1-.1l1,2.2l1-.6l1,.5l1,1.3l1-15.2l1-.8l1,1.2l1,.7l1-.4l1-.8l1-.8l1,.9l1-.7l1,.7l1,.6l1-.1l1-.7l1,.4l1,1l1-.8l1-1.2l1,.1l1,2.7l1-2.6l1,.7l1,.2l1-.5l1-.6l1,.2l1,1.1l1-.1l1-.2l1-1.1l1,1.3l1,.1l1-.7l1-.6l1,.6l1-.4l1-.3l1,.3l1,1.2l1-2.3l1-.2l1-.1l1,.8l1,2.2l1-.4l1-1.1l1-.2l1-.9l1,2.9l1-1.4l1,.2l1,.2l1-1l1-.7l1,1.5l1-.1l1-.9l1,.2l1,1.3l1-1.5l1-1.1l1,1.4l1,.1l1,.3l1-.1l1,.1l1-.3l1,.8l1,.8l1-.3l1-2.1l1,1.7l1-1.5l1,.4l1,1.2l1-1.2l1,1l1-2l1,.6l1,1.1l1-.9l1-.5l1,2.2l1-2.4l1,1.2l1,.8l1-.3l1-.6l1,.4l1-2.6l1,1.6l1,.3l1-1.4l1,1.9l1,.4l1-1.8l1,.4l1-.3l1,1.8l1-.6l1,0l1-1.1l1,.9l1,.5l1,.2l1,.3l1-1.4l1-.3l1,.1l1,.8l1-1.4l1,1.4l1-.3l1,.7l1,.9l1-.7l1,1.4l1-2.4l1,1l1-.4l1-5.3l1-2.3l1,.4l1,1.3l1,.5l1,1.3l1-1.4l1,.4l1-.9l1,.9l1-1l1-.7l1,1.4l1-2l1.1,2.3l1-2.1l1,.8l1,2l1,4.2l1-.1l1,.6l1,.1l1-1.3l1,1.7l1-.6l1,1.1l1-1.6l1,1.5l1,.8l1-2.1l1,1l1-1.6l1,1.6l1-1.5l1,1.3l1-.7l1-.5l1,1.2l1,.2l1-1.9l1,.9l1,.7l1-.7l1,.2l1,.7l1,.6l1-2.2l1,2.2l1-1.9l1-.2l1-.1l1,.2l1-1.4l1,3l1-.2l1-2.3l1,0l1,0l1,1.7l1-.3l1-.9l1,.3l1,.1l1-1.1l1,2l1-1.5l1,.6l1-.1l1,.3l1-.6l1-.5l1,.6l1,.1l1,1.2l1,.1l1-1.1l1,.2l1,0l1,.4l1-.7l1,1.1l1-.5l1-.6l1,2.3l1-2.5l1-.1l1,2.7l1-3.4l1,1.5l1,.3l1,.8l1-1.5l1,0l1,1l1-1.1l1,.8l1-1.7l1,.3l1,.9l1-.1l1-1.6l1,2.1l1-1.2l1,1.3l1-.1l1,.1l1,.4l1-1l1,0l1,.2l1,.6l1-.7l1,0l1,.2l1-.3l1,.9l1,.1l1-1.7l1,.7l1-.2l1,1.3l1-1.1l1,.8l1-2.1l1,1.4l1-.5l1,14.2l1,3l1-.8l1-2.8l1,2.8l1-.8l1,.3l1,.5l1-2.4l1,1.5l1,1.1l1-1.5l1-.5l1,.7l1-.8l1,1l1,1.3l1-.8l1,.1l1,2l1-3.2l1,0l1,1.3l1,.6l1-1.7l1-.4l1,.6l1,0l1-.2l1,.3l1-1.1l1,1.5l1-.3l1,0l1-.2l1,1l1,.8l1-2l1,1.7l1-1.8l1,1.2l1,.2l1,.6l1-1.4l1-.1l1,.1l1-1.8l1,1.1l1,.5l1-.9l1,.2l1-2l1,2.4l1,.6l1-.8l1,.1l1-.2l1,.9l1-.1l1-1.7l1,1.5l1-.1l1,1.3l1-1.8l1,.5l1-.3l1,1l1,.8l1-1.6l1,1.8l1-1.6l1,0l1,0l1,1.4l1-2.3l1-147.7l1,2.1l1,.9l1-.3l1,1.1l1-1.3l1,.5l1-.9l1-1l1,2.2l1-3.3l1,.5l1-2.8l1,3.9l1-2.2l1,1.8l1,1.6l1-3l1,.5l1-.6l1-.5l1,.5l1,.8l1-.8l1,.4l1-1.1l1,1.5l1.1,149.6l1-1.4l1,.3l1-.2l1-.7l1,1.8l1-1l1-.7l1,2.2l1-.6l1-1.8l1,2.8l1-1.2l1,.4l1-1.8l1,1.3l1-1.7l1,1.8l1-1.5l1,.2l1,1l1-.1l1-.3l1-.2l1,.4l1-2.2l1,1l1,1.2l1,.2l1-1.1l1,.1l1,1.7l1-2.2l1,1.3l1,1.4l1-.8l1,.3l1-1.9l1,.5l1,1.3l1-.8l1,1l1,1.2l1-2.9l1,.8l1,.4l1-1.6l1,1l1,.8l1-1.3l1,1.2l1-3.3l1,3.2l1-1.6l1,.4l1,.2l1-.7l1,1.5l1-.1l1-.5l1,.9l1-.6l1-.4l1,1l1,0l1-.6l1-1.3l1,3.5l1-.8l1-3.1l1,1.7l1-.4l1,1.1l1-.2l1-1l1-.3l1,1.5l1,.4l1-1.5l1-.1l1-.4l1-.6l1,2.2l1-.9l1,1.4l1-2.7l1,.1l1,.7l1,0l1-.1l1,.7l1,.6l1-.1l1,.2l1-1.6l1,.8l1-2.5l1,4.2l1-2.9l1,1.1l1-.2l1-1.6l1,.7l1,0l1-.5l1,.9l1,1.1l1-2.1l1,2l1,.1l1-.7l1-.3l1,1.4l1-1l1-.4l1,0l1,.9l1-1.3l1,.4l1,2.5l1-1.9l1-.6l1-1l1,.5l1,2.7l1,0l1,.4l1,.3l1-1.7l1,.9l1,0l1-.7l1,1.7l1-.9l1,0l1-.3l1,.7l1,.5l1-.8l1-2.7l1,1.3l1-.4l1-.5l1,1.3l1-1.7l1,.3l1,1l1,.7l1-1.7l1,1.4l1-1.4l1,2l1-1.4l1-8.4l1-1.2l1,.8l1,1.1l1-3.3l1,1.8l1-.5l1,.1l1,.2l1,2.2l1-1.1l1-2.1l1,3l1-1.9l1,1.1l1-.8l1-.5l1,1.7l1-1l1-1.1l1,0l1,2.9l1-1.1l1-1.1l1,1.7l1-.7l1,1.1l1-3.2l1,.8l1,1.5l1,0l1,.6l1-3l1,1.9l1,.7l1,1.2l1-2.5l1,.4l1,.4l1,1.2l1-2.2l1,2.6l1-2.9l1,.9l1-.2l1,1.4l1-.6l1-1.1l1,1.2l1,.3l1-.9l1,1.3l1,0l1-1l1-92.8l1,1l1,.9l1-1.5l1-1.1l1,2.4l1-1.1l1.1,.5l1-.9l1,.6l1-.6l1-.3l1-.6l1,.8l1-.1l1-.7l1,2.4l1-2.7l1,1.9l1-1.3l1,1l1,1.4l1-1.4l1-2l1,1.8l1-.9l1-.5l1,.3l1,.6l1,.1l1-.8l1,.8l1,0l1-.1l1,.8l1-1.9l1,0l1,.4l1-.1l1,.1l1-1.3l1,.2l1,0l1,.2l1-.1l1,1.4l1-1l1,.8l1-3.3l1,2.1l1-1.5l1,2.7l1,.7l1-3.2l1,.9l1,.1l1-.3l1,1.1l1-2.3l1,2.7l1-.5l1-.1l1-1.3l1,1.1l1-.9l1,.7l1-1.7l1-.1l1,1.4l1-.3l1,1l1-1.4l1,.3l1,.5l1-.1l1,1.3l1-.4l1-2.1l1-1l1,3l1,0l1,.2l1-.5l1-1.8l1,.1l1,1.6l1-1.3l1-1.6l1,.6l1,2.4l1,0l1-2.3l1,.3l1-.2l1-29l1,1.6l1-1.5l1-1.1l1,1l1-1.1l1,.6l1,.1l1-1.2l1,1.3l1-.9l1-1.4l1-1.1l1,.9l1,.1l1,.1l1,1.5l1-.3l1-.4l1-1.7" fill="none" stroke="#C15C17" stroke-width="2.5" stroke-linejoin="round"/>
<path d="M68.5,403.4l1,1.3l1-.3l1,.1l1-1.2l1,.5l1,1l1-.2l1,.9l1-.4l1-1.3l1,1.4l1-1.6l1,1.7l1,.2l1,.1l1-3.3l1,.1l1,1.5l1,.8l1,1l1-1.5l1,.7l1-.5l1,.7l1,.1l1-1.1l1,1.7l1-1.5l1,1.1l1-1.1l1-.5l1,1.1l1-.6l1,.2l1,0l1-.3l1,.2l1,0l1,.8l1-2l1,1.5l1-.9l1-.8l1,1.9l1,.6l1-4.2l1,2.7l1,0l1,.1l1,2.2l1-2.8l1,.6l1,1l1,.4l1-.7l1,1.3l1-.9l1-1.2l1-1.5l1,2.2l1-1.8l1,1.2l1-1.8l1,2.6l1-.8l1,1.6l1-2.2l1-1.4l1,2.1l1,1.3l1-1.1l1-2.4l1-.2l1,3.3l1-1.9l1,.7l1,1.9l1-1.9l1,.5l1,1l1-.7l1,1.6l1-1.2l1-.2l1-.5l1-.1l1,1.3l1-1.6l1,.9l1-1.4l1,.8l1,.4l1-2.2l1,2.6l1,.5l1-2.7l1,1.7l1,.8l1-1.9l1,.7l1,.4l1,.3l1-.4l1-1.2l1-.3l1,2.7l1.1-2.5l1,1l1,.7l1,.6l1-1.6l1,.5l1,.3l1-.1l1-.9l1,1.9l1-2.5l1,1.8l1-2.2l1,1.9l1,.5l1,0l1,.3l1-.7l1,1.2l1-.1l1-.4l1,.2l1-.6l1,.8l1-1.2l1,1.8l1-1.7l1,1.5l1-1.9l1,0l1-.3l1-.4l1,3.1l1-3.2l1-.2l1,3.8l1-4.9l1,.5l1,2.2l1-.9l1,.9l1-2.3l1,2.8l1-1.3l1-.6l1,3.1l1-3.1l1,.1l1,.9l1-.4l1,1.2l1-3.4l1,1.6l1,1.6l1-1.8l1,1l1,.2l1,.9l1,.4l1-3l1,2l1,.3l1-.1l1,.1l1-3.5l1,3.6l1-1.1l1,1.2l1-1.4l1,.4l1,.6l1-.5l1,1l1,.4l1-1.1l1,.3l1,.9l1-1.3l1,.3l1,2.4l1-4.1l1,2.6l1-1.6l1-.3l1,2.5l1-1.1l1,.7l1-2.9l1-.2l1,3.2l1-2.3l1-.4l1,0l1,3.4l1-1.3l1,.9l1-2.9l1,1.5l1-1.4l1,1.2l1,0l1-1l1,2.7l1-1.9l1,0l1-1.8l1,3.2l1,.3l1-1.7l1-.1l1,1l1,.2l1-2.2l1,2.3l1-.6l1,1l1-2.1l1-.1l1,.3l1,.5l1-.3l1,1.3l1-.7l1-2.5l1,2.5l1-2.2l1,1.9l1,.7l1-.3l1-.9l1,1.3l1-.6l1,.4l1-.2l1,.7l1-.1l1,.4l1-2.5l1,.8l1-1.8l1,.3l1-.4l1,3.5l1-2.5l1,1.5l1-.7l1,0l1,.1l1,.4l1,.5l1-1.4l1,.8l1,1.6l1-1.4l1-1.8l1-.1l1,2.1l1-2.3l1,1l1,1.9l1-.5l1,0l1-.3l1-.8l1-1.8l1,.8l1,1l1,1.3l1-2l1,.2l1-.1l1,.3l1,.2l1-.7l1,.2l1-1.1l1,2.5l1-.4l1-1.1l1,2.4l1-.5l1-3.2l1,3l1,.1l1-.3l1,.1l1,.6l1-.8l1,.2l1-.1l1,.3l1-.9l1-1.3l1,2.1l1,1.6l1-2.9l1-.4l1,3.5l1-4l1,1.2l1,3.4l1-3.1l1,.7l1,.8l1-1.6l1,1.1l1,.7l1-2.3l1,1.4l1-.5l1,.7l1,.1l1-.1l1-2.5l1.1,1.9l1,.4l1,.7l1-.5l1-1.9l1,3.7l1-2.1l1,.7l1-3.3l1,2.8l1-1.4l1,1.4l1-1.8l1,.7l1,1.4l1-2.3l1,1.5l1,.3l1-1.4l1,1.8l1,.8l1-2.6l1,.7l1,.3l1,.3l1-.3l1-.8l1,1.3l1,.3l1-2.4l1,1.5l1,.8l1-.9l1,1.7l1-1.8l1-.9l1,1l1-2.9l1,2.4l1-.2l1,1.1l1-.2l1-.6l1,1.2l1-1.1l1,.3l1,.7l1-1.2l1,1.7l1-1.7l1-1.2l1,.4l1,2.1l1-.7l1-.2l1,.6l1-.3l1-.4l1-1.6l1,1.9l1,1.1l1-1.5l1,.4l1,.4l1-1.7l1-.6l1,2.3l1-1.9l1,1.6l1-1l1-1.8l1,1l1,3.2l1-2.2l1-1.3l1-.9l1,3.2l1-1.5l1,1.5l1,1.6l1-15.7l1-.8l1,1.2l1,1l1,0l1-1.9l1-.1l1,.3l1-.6l1,.5l1,1.3l1-1.4l1,.1l1,.5l1,1.2l1-.9l1-1.1l1-.4l1,3.4l1-2.4l1,.1l1,.3l1,.4l1-1.2l1,.6l1,.3l1,.3l1-.7l1-.9l1,1.4l1,0l1-.7l1-1l1,.5l1-.4l1,.7l1-.7l1,1.9l1-2.5l1-.1l1-.2l1,.9l1,1.7l1,0l1-.9l1-.7l1-.1l1,2.3l1-1.5l1,1.1l1-.2l1-1.6l1-.9l1,2.3l1-.3l1-1.1l1,.4l1,1.2l1-2.4l1,.5l1,1l1-.2l1,.5l1,.7l1-1l1-.1l1,.4l1,.5l1,.2l1-2.4l1,1.7l1-1.4l1,1l1,1l1-1.3l1,.6l1-2l1,.6l1,1.1l1,.4l1-1l1,2.2l1-2.8l1,1.3l1,.5l1,.4l1-1.2l1,.8l1-3l1,1.8l1,.5l1-.9l1,1.4l1-.3l1-1.9l1,.4l1,.2l1,1.6l1-.4l1-.8l1-1.5l1,2.9l1-.4l1,1.2l1-.2l1-2.4l1,.7l1,.2l1,.9l1-2.4l1,1.7l1,.5l1,.5l1,.3l1,.3l1,.6l1-2.7l1,.9l1-.7l1-4.2l1-2.2l1-.2l1,1l1,.7l1,1.3l1-.5l1-.9l1-.1l1,0l1-.5l1-.2l1,.3l1-.9l1.1,2.1l1-2l1,.5l1,1.1l1,4.9l1,.2l1,.4l1,.4l1-.9l1,.8l1-.5l1,.3l1-.9l1,2.5l1-.2l1-2.3l1,1.7l1-1.8l1,1.6l1-1.2l1,1l1-.3l1-1.5l1,2.1l1-.1l1-2.5l1,1.3l1,1.2l1-1.8l1,.6l1,1l1,.7l1-2.6l1,3.4l1-3l1,.2l1-.1l1,.6l1-1.6l1,2.3l1,0l1-2l1,.4l1-.3l1,1.5l1,1l1-1.9l1,.1l1-.5l1-.5l1,1.7l1-1.6l1,.6l1,.1l1,0l1-.4l1,.1l1,.6l1,.1l1,.9l1-.2l1-.3l1,0l1-.2l1-.5l1,.4l1,1.1l1-.6l1-.7l1,2l1-2.4l1,.5l1,2.6l1-4.5l1,2.3l1,.5l1,.7l1-1.6l1,.6l1,.3l1-1.5l1,1.2l1-1.4l1-.8l1,2.5l1-1.3l1-.8l1,1.6l1-2.1l1,2.4l1-.7l1,.9l1,.1l1-.7l1,.2l1,.1l1,.1l1-1.1l1,.1l1,.6l1-.2l1,1.3l1,.2l1-2.6l1,.8l1,.7l1,.9l1-1.3l1,.3l1-2.2l1,2.4l1-1.4l1,14l1,3.9l1-.9l1-2.8l1,2.6l1-.7l1-.2l1,.5l1-2.6l1,1.6l1,1.5l1-1.8l1-.3l1,.9l1-1.2l1,1.3l1,1.1l1-1l1,.3l1,1.6l1-3.2l1,.4l1,1.5l1,1l1-2.6l1,.3l1,.6l1,.2l1-.5l1,.1l1-1.5l1,2.3l1-.4l1-.6l1,0l1,.6l1,1.7l1-1.8l1,1.5l1-2.2l1,.9l1,1.2l1,.1l1-1.9l1,.2l1,.4l1-1.6l1,.6l1,.1l1-.3l1,0l1-2.4l1,2.4l1,1.4l1-.7l1-1.1l1,.1l1,.9l1,.6l1-2l1,1.7l1,.2l1,.9l1-1.9l1,.8l1-.6l1,1.2l1,.5l1-.5l1,.9l1-1.6l1-.4l1,0l1,1.7l1-2.7l1-147.1l1,2.1l1,.4l1,.2l1,1.1l1-.6l1-.3l1-1.1l1-1.2l1,2.1l1-2.9l1-.1l1-1.9l1,3.1l1-2l1,2.2l1,1.8l1-2.6l1,.1l1-.6l1-.5l1,.6l1,1l1-.9l1-.4l1-.5l1,.8l1.1,150.6l1-2.3l1,.4l1,.2l1-.8l1,1.3l1-.1l1-1l1,2.5l1-1.8l1-1.3l1,3l1-1.2l1,.7l1-2.3l1,1.3l1-1.8l1,1.8l1-1.3l1,.6l1,1.9l1-1.3l1,.1l1,.1l1,0l1-2l1,.5l1,.6l1,.9l1-1.6l1,.2l1,1.6l1-2.3l1,1.7l1,2.2l1-2.1l1,.6l1-2.3l1,1.7l1,1.2l1-1.2l1,1.3l1,1.6l1-4.3l1,1.8l1,.1l1-1.6l1,1l1,1.4l1-2.1l1,1.2l1-3.6l1,4.3l1-1.9l1,.5l1,.4l1-1.3l1,1.1l1,.3l1-1.4l1,1.5l1-.2l1,0l1,.5l1,0l1-.3l1-1.4l1,3.7l1-.3l1-3.1l1,1.3l1-1.6l1,1.4l1,.6l1-1l1-.6l1,1.5l1,.8l1-1.9l1-.1l1-.3l1,.1l1,1.2l1-.9l1,1.4l1-3.1l1,.3l1,1.6l1-.4l1-.7l1,1.6l1,.2l1-1l1,1.7l1-2.3l1,.9l1-2.2l1,4.2l1-3l1,1.3l1-.7l1-1.1l1,.2l1-.7l1,.4l1,1l1,2.2l1-3.6l1,2.2l1,.6l1-.5l1-.6l1,.8l1-.8l1-1l1,.6l1,.9l1-1.2l1,.5l1,2.6l1-1.8l1-.8l1-1.3l1,1l1,2.1l1,.7l1-.2l1-.3l1-1.3l1,.9l1,.8l1-.6l1,.9l1-1.1l1,.5l1-.4l1,.5l1,.7l1-.8l1-3l1,1.5l1-.3l1-.1l1,.7l1-1.2l1,.3l1,.8l1,.3l1,0l1,.1l1-1.5l1,1.9l1-1.3l1-8.2l1-1.1l1,.8l1,1.1l1-4.3l1,2.6l1-.5l1,.5l1-.9l1,2.8l1-1.1l1-2.1l1,3.6l1-2.6l1,1.2l1-.2l1-1l1,1.5l1-1.2l1-1.3l1-.2l1,3l1-.7l1-.5l1,.8l1-.2l1,.5l1-2.5l1,.6l1,1.9l1,0l1,.7l1-2.9l1,1.4l1,.6l1,1.3l1-2.7l1,.7l1,.6l1,1.3l1-2.7l1,3.2l1-3.9l1,1.3l1,.1l1,1.3l1-1.2l1-.7l1,1.9l1,.3l1-1.4l1,.9l1,.6l1-1l1-93.3l1,1.1l1,1l1-1.4l1-1.1l1,2.3l1-1.2l1.1,.1l1,0l1-.7l1,0l1,.8l1-1.8l1,1.4l1,0l1-1.2l1,1.9l1-1.3l1,1.1l1-1.1l1,.8l1,1.6l1-1.6l1-2.4l1,2.2l1-.5l1-1.4l1,1.4l1,.6l1-.2l1-1.3l1,1.4l1-.5l1,.3l1,.9l1-2.6l1,.6l1-.7l1,1.2l1-.5l1-.5l1-.4l1-.2l1-.3l1,.8l1,1.5l1-1.3l1,1.3l1-3.7l1,1.3l1-.4l1,2.3l1,.8l1-3.4l1,.9l1,.9l1-.7l1,.2l1-1.2l1,2.1l1,.6l1-1l1-1.6l1,1.6l1-.9l1,.8l1-2.1l1,.1l1,1.9l1-.7l1,.6l1-1.5l1,.4l1,.9l1-1l1,1.9l1-.2l1-2.6l1-.7l1,3l1-.3l1,.7l1-.8l1-1.4l1-.9l1,1.8l1-.6l1-2.1l1,.8l1,2.1l1,1.2l1-3.8l1,.4l1,.9l1-29.1l1,1l1-1.5l1-1l1,1.5l1-1.7l1,1.3l1,.2l1-2.3l1,2l1-.8l1-1.8l1-1l1,1l1-.2l1,0l1,2l1-.7l1,0l1-1.6" fill="none" stroke="#890F02" stroke-width="2.3" stroke-linejoin="round"/>
<path d="M68.5,396.6l1,.9l1-.2l1,.8l1-1.7l1,.3l1,2.5l1-3.2l1,2.3l1-.6l1-1.9l1,1.8l1-1.1l1,1.7l1-1.2l1,.7l1-2.8l1,.2l1,1.4l1,1.2l1,.5l1-.8l1,.6l1-2.2l1,1.9l1,.4l1-1.7l1,3.2l1-3.2l1,2.4l1-2.8l1,.1l1,1.1l1,1l1-1.1l1-.3l1,.1l1,.3l1,.3l1,.3l1-2.3l1,2.5l1-2.2l1,.3l1,.4l1,2.2l1-4l1,2.1l1,.7l1-.4l1,2l1-3.5l1,1.3l1,.5l1-.2l1,1.2l1,.5l1-3l1,.7l1-1.1l1,1.6l1-1.6l1,.5l1-1l1,2.5l1-.7l1,1.4l1-1.5l1-3.1l1,3.6l1,.7l1-2.4l1-1.8l1,0l1,3.5l1-1.4l1,1l1,2.1l1-2l1-.2l1,2.2l1-1.8l1,1.8l1-.9l1-.9l1-.1l1-.2l1,1.5l1-1.7l1,.9l1-1.3l1,1l1,.4l1-1.7l1,2.9l1-.5l1-1.3l1,.3l1,1.1l1-2.2l1,.5l1,1l1-.9l1,.6l1-1.5l1,.4l1,2.3l1.1-7.6l1,1.4l1-1l1,1.5l1-1.4l1,.6l1-.2l1,.3l1-.9l1,1.9l1-2.5l1,.8l1-1.5l1,2l1,.7l1-.2l1-.1l1,1l1,.4l1-.7l1-1.4l1,2.5l1-1l1-.7l1-.3l1,2.7l1-2.9l1,1.7l1-1.4l1-.3l1,.5l1-2.2l1,5l1-3.9l1-.2l1,4.3l1-5.5l1-.3l1,3.7l1-1.3l1,1.3l1-3.6l1,3.8l1-2.1l1-.8l1,3.2l1-2.3l1-.1l1,.3l1-.4l1,1.9l1-2.5l1,.1l1,1.6l1-2.1l1,1l1,1.5l1,4.4l1,.3l1-1.3l1,1.8l1-1.5l1,1.5l1-.6l1-4.2l1,5.4l1-.7l1,.3l1-1.4l1,.7l1,1.5l1-1.9l1,1.5l1-.5l1-1.2l1,.6l1,1.9l1-1.6l1,.6l1,1.3l1-4.5l1,2.9l1-.9l1-1.1l1,2.6l1-.8l1,.9l1-2.9l1-.4l1,3.9l1-3.2l1,0l1-.4l1,3.6l1-.4l1-.6l1-2.5l1,1.2l1-1l1,.8l1,.6l1-1.4l1,2.7l1-.6l1-1.6l1-.8l1,2.3l1,1l1-3.5l1,1.7l1,1.1l1-.7l1-1.6l1,2l1-.2l1,.5l1-2.1l1-.1l1,.2l1,.9l1-.6l1,1.4l1-.4l1-2.3l1,2.4l1-1.4l1,.7l1,1.5l1-.7l1-1.3l1,2.1l1-2l1,1.6l1-.5l1,.7l1,0l1-.9l1-1l1,.5l1-1.4l1,.5l1-1.9l1,3.9l1-1.4l1,1.1l1-1l1,.3l1-.1l1,.4l1,.2l1-1.3l1,.5l1,1.8l1-1.4l1-1.2l1-1.1l1,2.6l1-1.9l1,1.3l1,.9l1,.8l1,0l1-1.2l1-1.1l1-.4l1-.7l1,1.2l1,.6l1-1.4l1,.1l1-.3l1,2.1l1-.9l1-.1l1-1l1-1.2l1,4.2l1-1.3l1-.9l1,1.8l1,.1l1-3.8l1,3.8l1-.3l1,.4l1-.6l1,.6l1-1.6l1,1.6l1-1.1l1,.8l1-1.9l1-.1l1,2.3l1,.3l1-1.8l1-.6l1-2.9l1-3.4l1,.7l1,4.5l1-4.4l1,.8l1,1.4l1-1.8l1,1.2l1,.7l1-1.5l1,1.3l1-1l1,1.8l1-.4l1,.1l1-2.6l1.1,2l1,.3l1-.3l1,0l1-1.1l1,4.3l1-2.5l1-.7l1-3.6l1,3.6l1-1.6l1,2.1l1-1.3l1-.6l1,1.6l1-1.8l1,1.7l1,1.2l1-2.8l1,1.4l1,1l1-1.2l1,.5l1,.3l1,.8l1-1.1l1-.7l1,1.7l1-.2l1-2l1,2.1l1-.5l1,.2l1,.9l1-1.2l1-1.9l1,2.7l1-4l1,6.3l1-.4l1,1.8l1-.9l1-1.2l1,2.5l1-2.3l1,.8l1,1l1-2l1,3.7l1-3.3l1-.1l1-.4l1,1.6l1-.2l1,.5l1,.8l1-.7l1,.8l1-4.2l1,3.3l1,1.5l1-3.7l1,1.6l1-.5l1-1.4l1,.1l1,1.8l1-.5l1,1.2l1-1.9l1-1.8l1,2l1,4.3l1-3.6l1-1.5l1-.6l1,3.7l1-2.6l1,2.8l1,.5l1-15.6l1,.6l1,0l1,2.2l1-.9l1-2.3l1,.4l1-.3l1-.4l1,.8l1,1.1l1-1.4l1,.2l1,.4l1,.9l1-.8l1-.7l1-1.2l1,3.3l1-1.5l1,.1l1,.7l1-.4l1-.6l1,1.4l1-2.6l1,2l1-.6l1-.5l1-.3l1,1.4l1-1.1l1-.8l1-.4l1,.3l1,1.2l1-1.2l1,1.8l1-2.2l1-.3l1,.8l1,.5l1,.7l1,1.3l1-1.7l1-.8l1,0l1,2.2l1-1.5l1,.5l1,1.2l1-2l1-2l1,2.7l1-1.5l1,1.3l1-.3l1,1l1-2.3l1,.7l1,1.4l1-.2l1,.3l1,.5l1-1.6l1,.2l1,1l1-.6l1,1.1l1-1l1-.3l1-1.2l1,.2l1,1.8l1-.5l1,.1l1-1.3l1-.1l1,1.5l1,1.4l1-2.9l1,2.7l1-3.4l1,2.5l1-.4l1,.5l1-.7l1,.9l1-3.5l1,1.7l1-.4l1,1.3l1,.6l1-1.5l1-1.2l1,.5l1-.1l1-.1l1-1.2l1-.4l1-1l1,2.7l1-1.1l1,1l1,.2l1-3.2l1,1.7l1,.9l1,.8l1-2.9l1,2l1,1.2l1-.7l1,.8l1-.1l1,1.2l1-3.3l1,0l1,.4l1-6.3l1-3l1,.5l1,1.9l1-.7l1,1.9l1-.7l1-.9l1,.3l1-.3l1,.1l1-.9l1-.1l1-1.1l1.1,2.3l1-.9l1,.6l1-1.2l1,8.1l1,.6l1,1.2l1,.2l1-1.2l1-.4l1,.9l1-.5l1-.1l1,2.7l1-1.8l1-1l1,1.3l1-2.3l1,2.2l1-.6l1-.1l1,3.6l1-2.3l1,2l1-.8l1-2l1,1.2l1,1.8l1-2.7l1,1.1l1,1.5l1-.5l1-3.2l1,4.9l1-4l1,.5l1-.5l1,1.5l1-3l1,2.6l1,.5l1-2.4l1,2.7l1-1.3l1,.6l1,.7l1-.4l1-.8l1-.7l1-.4l1,1.3l1-.3l1-1l1,.8l1-1.2l1,1.4l1,1.2l1-.9l1,.3l1,1l1,.5l1-1.5l1-.2l1,1.4l1-1.5l1-.4l1,1.6l1-.6l1-.1l1,1.3l1-1.5l1,.2l1,1.4l1-4.6l1,2.6l1,1.4l1,.4l1-1.3l1,.2l1,.6l1-1.1l1,1.4l1-3.3l1-.6l1,3l1-1l1-.4l1,1.8l1-2.5l1,1.9l1,0l1,.7l1-.2l1-.5l1,.4l1,.1l1-.3l1-.3l1-.1l1,.4l1-.9l1,2.2l1-.3l1-3.1l1,1.5l1,.3l1,.9l1-1.2l1,.7l1-2.4l1,2l1-1.4l1,14.2l1,3.4l1-.7l1-2.3l1,2.5l1,.2l1-1.5l1,1.4l1-3.9l1,1.8l1,2.1l1-2l1-.6l1,1.3l1-.6l1,.1l1,1.3l1-.6l1,.8l1,1.4l1-3.8l1,1.9l1,.7l1,.4l1-.4l1-2.7l1,1.6l1-.6l1-.3l1,1.2l1-1.9l1,2.8l1-1.3l1,0l1,.7l1-.4l1,1.4l1-1.4l1,2.2l1-3.1l1,.6l1,1.3l1,.1l1-1.4l1-.1l1,.2l1-1.8l1,0l1,.8l1-.8l1-.4l1-1.3l1,2.1l1,1.3l1-.1l1-2.2l1,1.5l1,.4l1,1.6l1-2.7l1,1l1-.2l1,2.1l1-2.6l1,1l1-1.3l1,1.6l1,.8l1,.5l1,.2l1-1.3l1-.8l1-.6l1,2.9l1-2.9l1-152.7l1,3.3l1,1.1l1,.6l1,1.3l1-1.2l1-1.6l1-.3l1-1.5l1,3.4l1-3.9l1-1.1l1-.8l1,2.9l1-2.4l1,2.7l1,2.7l1-4.7l1,2.1l1-1l1,.4l1-.2l1,.8l1-1.5l1-.8l1,.2l1,2.4l1.1,151.5l1-3l1,.8l1,0l1,.1l1,1.1l1-.4l1-.7l1,3.4l1-2.4l1-2.3l1,2.8l1-1.5l1,2.3l1-2.5l1,.2l1-1l1,2.3l1-1.9l1-1.6l1,4.6l1-1.7l1,.2l1,0l1-.7l1-1.5l1,.2l1-.1l1,.7l1-1.6l1,1.2l1,1.4l1-1.9l1,1.5l1,2.7l1-2l1-1.1l1-1.3l1,3.5l1,0l1-1.5l1,2.1l1,.6l1-4.4l1,2.2l1,.9l1-2.5l1,.3l1,1.8l1-2.1l1,1l1-2.9l1,4.1l1-1.8l1,0l1,.6l1-1.9l1,1l1,1.2l1-2.3l1,2l1,.3l1-.6l1,.8l1-.7l1,.5l1-2.5l1,4.6l1-.5l1-1.9l1,.2l1-.6l1,.6l1,.3l1-.2l1-.2l1,.9l1,.7l1-1.2l1-.4l1-.5l1-1.2l1,1l1,1.5l1-.8l1-1.7l1-1.1l1,2.7l1-1.2l1,.1l1,1.3l1,.2l1-.9l1,2.3l1-3.1l1,.3l1-2.2l1,4.8l1-2.9l1,1.2l1-1.6l1-.5l1,1l1-.7l1,.2l1,1.1l1,1.2l1-3.5l1,2l1,1.3l1-.5l1-.6l1,.2l1-1.1l1,.3l1-1l1,1.6l1-.5l1,.8l1,2.5l1-1.8l1-1.5l1-.7l1,1.3l1,3.4l1,.1l1,.2l1,.2l1-1.8l1,1.2l1,.1l1-.9l1,2.9l1-2.7l1,.8l1-.2l1,0l1,1l1-.5l1-6.9l1,.9l1-.2l1-.1l1-.3l1-.1l1-.5l1,.8l1,.4l1,.4l1,2l1-2.7l1,1.7l1-1.4l1-9.3l1-.2l1,.3l1,2l1-5.4l1,1.9l1-.7l1,1.1l1-2.2l1,3.8l1-1.9l1-1l1,2.7l1-3l1,1.6l1-.8l1-.6l1,1.3l1-1.4l1-1.5l1-.4l1,2.7l1-.4l1-.5l1,.7l1-.6l1,2.3l1-4.7l1,1.1l1,2l1,0l1,2.7l1-3.7l1,2l1,0l1,1.5l1-.8l1,.3l1,.8l1,.3l1-1.9l1,3.8l1-3.4l1,1.8l1,0l1,2.3l1-.4l1-.7l1,1.4l1,.9l1-.2l1-.5l1,2l1-1l1-93.8l1,.7l1,1.1l1-.7l1-.8l1,3.3l1-2l1.1,0l1,0l1-1.6l1,.5l1,1l1-1.5l1,1l1,.1l1-.1l1,.6l1-1.1l1,1.8l1-2l1,.8l1,1.8l1-2.2l1-2l1,2.5l1-.5l1-1.8l1,1.5l1,1.2l1-.7l1-1l1,1.6l1-1.8l1,2.1l1,1.1l1-3.4l1,0l1-.3l1,.9l1-.9l1-.8l1,.2l1,1.2l1-1.9l1,1.4l1,1.2l1-.9l1,.7l1-3l1-.1l1,.7l1,3.2l1,.5l1-5l1,2.7l1,.5l1-1.4l1,.7l1-1.7l1,2.2l1,.4l1,.2l1-1l1,1.8l1-2.5l1,1.3l1-3l1,1l1,2.5l1-.6l1-.8l1-.6l1-.9l1,2.2l1-2.5l1,3.6l1-.7l1-1.8l1-1.8l1,2.1l1,1.4l1,.3l1-.8l1-2.2l1-1l1,1.4l1-.5l1-.9l1,.7l1,2.1l1,1.6l1-4l1,.1l1,.7l1-28.1l1,.1l1-1.2l1-.9l1,.4l1-1.2l1,1.8l1,0l1-2.6l1,2.4l1-1.1l1-2.2l1-.2l1-.7l1,1.4l1-1l1,3.6l1-1.4l1-.7l1,.2" fill="none" stroke="#6D1F62" stroke-width="1.3" stroke-linejoin="round"/>
<path d="M68.5,395.4l1,.9l1-.2l1,.8l1-1.7l1,.3l1,2.5l1-3.2l1,2.3l1-.6l1-1.9l1,1.8l1-1.1l1,1.7l1-1.2l1,.7l1-2.8l1,.2l1,1.4l1,1.2l1,.5l1-.8l1,.6l1-2.2l1,1.9l1,.4l1-1.7l1,3.2l1-3.2l1,2.4l1-2.8l1,.1l1,1.1l1,1l1-1.1l1-.3l1,.1l1,.3l1,.3l1,.3l1-2.3l1,2.5l1-2.2l1,.3l1,.4l1,2.2l1-4l1,2.1l1,.7l1-.4l1,2l1-3.5l1,1.3l1,.5l1-.2l1,1.2l1,.5l1-3l1,.7l1-1.1l1,1.6l1-1.6l1,.5l1-1l1,2.5l1-.7l1,1.4l1-1.5l1-3.1l1,3.6l1,.7l1-2.4l1-1.8l1,0l1,3.5l1-1.4l1,1l1,2.1l1-2l1-.2l1,2.2l1-1.8l1,1.8l1-.9l1-.9l1-.1l1-.2l1,1.5l1-1.7l1,.9l1-1.3l1,1l1,.4l1-1.7l1,2.9l1-.5l1-1.3l1,.3l1,1.1l1-2.2l1,.5l1,1l1-.9l1,.6l1-1.5l1,.4l1,2.3l1.1-7.6l1,1.4l1-1l1,1.5l1-1.4l1,.6l1-.2l1,.3l1-.9l1,1.9l1-2.5l1,.8l1-1.5l1,2l1,.7l1-.2l1-.1l1,1l1,.4l1-.7l1-1.4l1,2.5l1-1l1-.7l1-.3l1,2.7l1-2.9l1,1.7l1-1.4l1-.3l1,.5l1-2.2l1,5l1-3.9l1-.2l1,4.3l1-5.5l1-.3l1,3.7l1-1.3l1,1.3l1-3.6l1,3.8l1-2.1l1-.8l1,3.2l1-2.3l1-.1l1,.3l1-.4l1,1.9l1-2.5l1,.1l1,1.6l1-2.1l1,1l1,1.5l1,4.4l1,.3l1-1.3l1,1.8l1-1.5l1,1.5l1-.6l1-4.2l1,5.4l1-.7l1,.3l1-1.4l1,.7l1,1.5l1-1.9l1,1.5l1-.5l1-1.2l1,.6l1,1.9l1-1.6l1,.6l1,1.3l1-4.5l1,2.9l1-.9l1-1.1l1,2.6l1-.8l1,.9l1-2.9l1-.4l1,3.9l1-3.2l1,0l1-.4l1,3.6l1-.4l1-.6l1-2.5l1,1.2l1-1l1,.8l1,.6l1-1.4l1,2.7l1-.6l1-1.6l1-.8l1,2.3l1,1l1-3.5l1,1.7l1,1.1l1-.7l1-1.6l1,2l1-.2l1,.5l1-2.1l1-.1l1,.2l1,.9l1-.6l1,1.4l1-.4l1-2.3l1,2.4l1-1.4l1,.7l1,1.5l1-.7l1-1.3l1,2.1l1-2l1,1.6l1-.5l1,.7l1,0l1-.9l1-1l1,.5l1-1.4l1,.5l1-1.9l1,3.9l1-1.4l1,1.1l1-1l1,.3l1-.1l1,.4l1,.2l1-1.3l1,.5l1,1.8l1-1.4l1-1.2l1-1.1l1,2.6l1-1.9l1,1.3l1,.9l1,.8l1,0l1-1.2l1-1.1l1-.4l1-.7l1,1.2l1,.6l1-1.4l1,.1l1-.3l1,2.1l1-.9l1-.1l1-1l1-1.2l1,4.2l1-1.3l1-.9l1,1.8l1,.1l1-3.8l1,3.8l1-.3l1,.4l1-.6l1,.6l1-1.6l1,1.6l1-1.1l1,.8l1-1.9l1-.1l1,2.3l1,.3l1-1.8l1-.6l1-2.9l1-3.4l1,.7l1,4.5l1-4.4l1,.8l1,1.4l1-1.8l1,1.2l1,.7l1-1.5l1,1.3l1-1l1,1.8l1-.4l1,.1l1-2.6l1.1,2l1,.3l1-.3l1,0l1-1.1l1,4.3l1-2.5l1-.7l1-3.6l1,3.6l1-1.6l1,2.1l1-1.3l1-.6l1,1.6l1-1.8l1,1.7l1,1.2l1-2.8l1,1.4l1,1l1-1.2l1,.5l1,.3l1,.8l1-1.1l1-.7l1,1.7l1-.2l1-2l1,2.1l1-.5l1,.2l1,.9l1-1.2l1-1.9l1,2.7l1-4l1,6.3l1-.4l1,1.8l1-.9l1-1.2l1,2.5l1-2.3l1,.8l1,1l1-2l1,3.7l1-3.3l1-.1l1-.4l1,1.6l1-.2l1,.5l1,.8l1-.7l1,.8l1-4.2l1,3.3l1,1.5l1-3.7l1,1.6l1-.5l1-1.4l1,.1l1,1.8l1-.5l1,1.2l1-1.9l1-1.8l1,2l1,4.3l1-3.6l1-1.5l1-.6l1,3.7l1-2.6l1,2.8l1,.5l1-15.6l1,.6l1,0l1,2.2l1-.9l1-2.3l1,.4l1-.3l1-.4l1,.8l1,1.1l1-1.4l1,.2l1,.4l1,.9l1-.8l1-.7l1-1.2l1,3.3l1-1.5l1,.1l1,.7l1-.4l1-.6l1,1.4l1-2.6l1,2l1-.6l1-.5l1-.3l1,1.4l1-1.1l1-.8l1-.4l1,.3l1,1.2l1-1.2l1,1.8l1-2.2l1-.3l1,.8l1,.5l1,.7l1,1.3l1-1.7l1-.8l1,0l1,2.2l1-1.5l1,.5l1,1.2l1-2l1-2l1,2.7l1-1.5l1,1.3l1-.3l1,1l1-2.3l1,.7l1,1.4l1-.2l1,.3l1,.5l1-1.6l1,.2l1,1l1-.6l1,1.1l1-1l1-.3l1-1.2l1,.2l1,1.8l1-.5l1,.1l1-1.3l1-.1l1,1.5l1,1.4l1-2.9l1,2.7l1-3.4l1,2.5l1-.4l1,.5l1-.7l1,.9l1-3.5l1,1.7l1-.4l1,1.3l1,.6l1-1.5l1-1.2l1,.5l1-.1l1-.1l1-1.2l1-.4l1-1l1,2.7l1-1.1l1,1l1,.2l1-3.2l1,1.7l1,.9l1,.8l1-2.9l1,2l1,1.2l1-.7l1,.8l1-.1l1,1.2l1-3.3l1,0l1,.4l1-6.3l1-3l1,.5l1,1.9l1-.7l1,1.9l1-.7l1-.9l1,.3l1-.3l1,.1l1-.9l1-.1l1-1.1l1.1,2.3l1-.9l1,.6l1-1.2l1,8.1l1,.6l1,1.2l1,.2l1-1.2l1-.4l1,.9l1-.5l1-.1l1,2.7l1-1.8l1-1l1,1.3l1-2.3l1,2.2l1-.6l1-.1l1,3.6l1-2.3l1,2l1-.8l1-2l1,1.2l1,1.8l1-2.7l1,1.1l1,1.5l1-.5l1-3.2l1,4.9l1-4l1,.5l1-.5l1,1.5l1-3l1,2.6l1,.5l1-2.4l1,2.7l1-1.3l1,.6l1,.7l1-.4l1-.8l1-.7l1-.4l1,1.3l1-.3l1-1l1,.8l1-1.2l1,1.4l1,1.2l1-.9l1,.3l1,1l1,.5l1-1.5l1-.2l1,1.4l1-1.5l1-.4l1,1.6l1-.6l1-.1l1,1.3l1-1.5l1,.2l1,1.4l1-4.6l1,2.6l1,1.4l1,.4l1-1.3l1,.2l1,.6l1-1.1l1,1.4l1-3.3l1-.6l1,3l1-1l1-.4l1,1.8l1-2.5l1,1.9l1,0l1,.7l1-.2l1-.5l1,.4l1,.1l1-.3l1-.3l1-.1l1,.4l1-.9l1,2.2l1-.3l1-3.1l1,1.5l1,.3l1,.9l1-1.2l1,.7l1-2.4l1,2l1-1.4l1,14.2l1,3.4l1-.7l1-2.3l1,2.5l1,.2l1-1.5l1,1.4l1-3.9l1,1.8l1,2.1l1-2l1-.6l1,1.3l1-.6l1,.1l1,1.3l1-.6l1,.8l1,1.4l1-3.8l1,1.9l1,.7l1,.4l1-.4l1-2.7l1,1.6l1-.6l1-.3l1,1.2l1-1.9l1,2.8l1-1.3l1,0l1,.7l1-.4l1,1.4l1-1.4l1,2.2l1-3.1l1,.6l1,1.3l1,.1l1-1.4l1-.1l1,.2l1-1.8l1,0l1,.8l1-.8l1-.4l1-1.3l1,2.1l1,1.3l1-.1l1-2.2l1,1.5l1,.4l1,1.6l1-2.7l1,1l1-.2l1,2.1l1-2.6l1,1l1-1.3l1,1.6l1,.8l1,.5l1,.2l1-1.3l1-.8l1-.6l1,2.9l1-2.9l1-152.7l1,3.3l1,1.1l1,.6l1,1.3l1-1.2l1-1.6l1-.3l1-1.5l1,3.4l1-3.9l1-1.1l1-.8l1,2.9l1-2.4l1,2.7l1,2.7l1-4.7l1,2.1l1-1l1,.4l1-.2l1,.8l1-1.5l1-.8l1,.2l1,2.4l1.1,151.5l1-3l1,.8l1,0l1,.1l1,1.1l1-.4l1-.7l1,3.4l1-2.4l1-2.3l1,2.8l1-1.5l1,2.3l1-2.5l1,.2l1-1l1,2.3l1-1.9l1-1.6l1,4.6l1-1.7l1,.2l1,0l1-.7l1-1.5l1,.2l1-.1l1,.7l1-1.6l1,1.2l1,1.4l1-1.9l1,1.5l1,2.7l1-2l1-1.1l1-1.3l1,3.5l1,0l1-1.5l1,2.1l1,.6l1-4.4l1,2.2l1,.9l1-2.5l1,.3l1,1.8l1-2.1l1,1l1-2.9l1,4.1l1-1.8l1,0l1,.6l1-1.9l1,1l1,1.2l1-2.3l1,2l1,.3l1-.6l1,.8l1-.7l1,.5l1-2.5l1,4.6l1-.5l1-1.9l1,.2l1-.6l1,.6l1,.3l1-.2l1-.2l1,.9l1,.7l1-1.2l1-.4l1-.5l1-1.2l1,1l1,1.5l1-.8l1-1.7l1-1.1l1,2.7l1-1.2l1,.1l1,1.3l1,.2l1-.9l1,2.3l1-3.1l1,.3l1-2.2l1,4.8l1-2.9l1,1.2l1-1.6l1-.5l1,1l1-.7l1,.2l1,1.1l1,1.2l1-3.5l1,2l1,1.3l1-.5l1-.6l1,.2l1-1.1l1,.3l1-1l1,1.6l1-.5l1,.8l1,2.5l1-1.8l1-1.5l1-.7l1,1.3l1,3.4l1,.1l1,.2l1,.2l1-1.8l1,1.2l1,.1l1-.9l1,2.9l1-2.7l1,.8l1-.2l1,0l1,1l1-.5l1-6.9l1,.9l1-.2l1-.1l1-.3l1-.1l1-.5l1,.8l1,.4l1,.4l1,2l1-2.7l1,1.7l1-1.4l1-9.3l1-.2l1,.3l1,2l1-5.4l1,1.9l1-.7l1,1.1l1-2.2l1,3.8l1-1.9l1-1l1,2.7l1-3l1,1.6l1-.8l1-.6l1,1.3l1-1.4l1-1.5l1-.4l1,2.7l1-.4l1-.5l1,.7l1-.6l1,2.3l1-4.7l1,1.1l1,2l1,0l1,2.7l1-3.7l1,2l1,0l1,1.5l1-.8l1,.3l1,.8l1,.3l1-1.9l1,3.8l1-3.4l1,1.8l1,0l1,2.3l1-.4l1-.7l1,1.4l1,.9l1-.2l1-.5l1,2l1-1l1-93.8l1,.7l1,1.1l1-.7l1-.8l1,3.3l1-2l1.1,0l1,0l1-1.6l1,.5l1,1l1-1.5l1,1l1,.1l1-.1l1,.6l1-1.1l1,1.8l1-2l1,.8l1,1.8l1-2.2l1-2l1,2.5l1-.5l1-1.8l1,1.5l1,1.2l1-.7l1-1l1,1.6l1-1.8l1,2.1l1,1.1l1-3.4l1,0l1-.3l1,.9l1-.9l1-.8l1,.2l1,1.2l1-1.9l1,1.4l1,1.2l1-.9l1,.7l1-3l1-.1l1,.7l1,3.2l1,.5l1-5l1,2.7l1,.5l1-1.4l1,.7l1-1.7l1,2.2l1,.4l1,.2l1-1l1,1.8l1-2.5l1,1.3l1-3l1,1l1,2.5l1-.6l1-.8l1-.6l1-.9l1,2.2l1-2.5l1,3.6l1-.7l1-1.8l1-1.8l1,2.1l1,1.4l1,.3l1-.8l1-2.2l1-1l1,1.4l1-.5l1-.9l1,.7l1,2.1l1,1.6l1-4l1,.1l1,.7l1-28.1l1,.1l1-1.2l1-.9l1,.4l1-1.2l1,1.8l1,0l1-2.6l1,2.4l1-1.1l1-2.2l1-.2l1-.7l1,1.4l1-1l1,3.6l1-1.4l1-.7l1,.2" fill="none" stroke="#584477" stroke-width="2.0" stroke-linejoin="round"/>
<path d="M68.5,390.5l1,.2l1,.4l1,.9l1-2.1l1,1l1,1.3l1-2.5l1,2.2l1,.2l1-2.8l1,1.8l1-1l1,2.1l1-1.5l1,.6l1-2.2l1-.3l1,1.6l1,.1l1,1.5l1-1.5l1,1.1l1-2.1l1,2l1,.3l1-1.9l1,3.5l1-3l1,2.9l1-3l1-.8l1,1l1,1.1l1-1.1l1-.6l1,.5l1,.9l1-.1l1-.1l1-2.1l1,3l1-2.9l1,1.5l1-.4l1,2.7l1-4l1,1.8l1,.5l1-.2l1,1.4l1-3.3l1,1.5l1,.7l1-.7l1,1.6l1,.5l1-2.9l1,.8l1-2.1l1,2.3l1-1.3l1-.2l1,0l1,2.3l1-1.1l1,1.5l1-1.2l1-3.9l1,3.4l1,1.4l1-3.2l1-.8l1-1l1,4.5l1-2.1l1,.6l1,2.8l1-1.8l1-.9l1,2.7l1-1.5l1,1.9l1-1.4l1-1.2l1,.6l1,0l1,1.4l1-1.9l1,1.3l1-2.3l1,1.3l1,1.2l1-2.2l1,2.6l1-.2l1-1.3l1,0l1,1.3l1-1.9l1,.4l1,.7l1-.5l1-.5l1-.4l1,.1l1,2.2l1.1-7.3l1,1.1l1-.1l1,1l1-2l1,.9l1-.2l1-.1l1-.8l1,2.4l1-2.3l1-.2l1-1.9l1,3l1,.3l1,.6l1-.4l1,1.2l1-.2l1-.3l1-1.3l1,2.8l1-1l1-1.7l1,.4l1,1.4l1-1.9l1,1.3l1-.6l1-.9l1,.4l1-1.4l1,4.7l1-3.4l1-.5l1,4l1-5.4l1-.9l1,4.2l1-.8l1,.6l1-2.8l1,3.3l1-2.2l1-.6l1,3.5l1-2.5l1-.3l1,.6l1-.6l1,1.8l1-3.1l1,.7l1,.9l1-1.4l1,1.4l1,.6l1,5.3l1-.5l1-1.4l1,2.9l1-2.6l1,1.6l1-.5l1-3.8l1,5.2l1-.3l1,.1l1-1.9l1,.6l1,1.7l1-1.3l1,1.6l1-1.4l1-.3l1,.1l1,2l1-1.6l1,.4l1,1.8l1-4.2l1,1.9l1-.8l1-.8l1,2.7l1-.9l1,1l1-3.1l1-.7l1,4.5l1-3.5l1-.2l1,.9l1,2.3l1-.6l1-.1l1-2.8l1,1.4l1-.8l1,.1l1,.9l1-2l1,4.4l1-.9l1-1.7l1-.5l1,1.2l1,2.1l1-4.1l1,1.4l1,1.3l1-.8l1-1.4l1,2.2l1,.1l1-.6l1-1.8l1-.5l1,1l1,.3l1-.7l1,1.7l1-.6l1-2.2l1,2.4l1-1.1l1,.6l1,1.7l1-.2l1-2.7l1,3.6l1-2.8l1,1.2l1-.3l1,1.1l1-.1l1-.5l1-1.9l1,1.4l1-2.3l1,1l1-2.2l1,4.4l1-1.8l1,1l1-.3l1-.3l1,.2l1,.1l1-.2l1-.2l1,.2l1,1.3l1-1.4l1-.9l1-1.4l1,2.1l1-1.9l1,2.5l1,.5l1,1.1l1,.2l1-1.4l1-1.7l1-.5l1-1.2l1,1.9l1,1.1l1-1.3l1-1.3l1,.5l1,1.3l1,.5l1-.9l1-1l1-1.4l1,4.5l1-2l1-.1l1,1.9l1-.1l1-3l1,3l1-.5l1,1.1l1-.2l1-.3l1-1.2l1,1.4l1-1.4l1,1l1-1.3l1-.6l1,2.6l1-.2l1-1.5l1-.6l1-3.2l1-3l1,.4l1,4.6l1-3.9l1,.2l1,1.2l1-1.8l1,1l1,2l1-2.2l1,1l1-.4l1,2l1-1.3l1,.5l1-2.5l1.1,1.6l1,.5l1,.1l1-.8l1-.9l1,4.5l1-2.5l1-.6l1-3.5l1,3.6l1-1.2l1,1.5l1-1.6l1-.1l1,1.7l1-1.9l1,2.2l1,.7l1-3.2l1,1.8l1,1.1l1-1.8l1,1l1-.8l1,2.4l1-1.8l1-.3l1,1.4l1-.2l1-1.9l1,2.1l1-.7l1,0l1,1.8l1-1.8l1-1.2l1,2.4l1-4.2l1,6.2l1-.7l1,1.4l1-.9l1-.8l1,2l1-2l1,1.7l1,.7l1-1.4l1,2.7l1-3.7l1,.5l1,.2l1,1.6l1-2l1,1.5l1,.9l1-.8l1,.7l1-4.3l1,3.9l1,.6l1-3.7l1,2.7l1-.8l1-1.5l1,.3l1,.9l1-.1l1,1.1l1-.8l1-2.7l1,1.6l1,5.3l1-4.3l1-1.3l1-.6l1,3.7l1-1.9l1,2.3l1,.5l1-15.3l1,0l1,.5l1,1.9l1-1.1l1-2.1l1,1l1-.9l1-.8l1,1.2l1,1.5l1-2.4l1,1.4l1-.6l1,1.4l1-.9l1-.8l1-1.6l1,4.1l1-1.9l1-.1l1,1.6l1-1.6l1,.2l1,.8l1-2.3l1,2l1-.5l1-.3l1-1.4l1,2.4l1-.5l1-2l1,.8l1-.7l1,1l1-.5l1,1.2l1-1.6l1-.2l1,.1l1,.3l1,.6l1,2.1l1-1.9l1-.8l1-.4l1,3.6l1-3l1,.8l1,1.1l1-2.1l1-1.6l1,2.4l1-1.2l1,1.1l1-.6l1,1.4l1-2.7l1,.9l1,1.3l1,.6l1,.2l1,.4l1-1.7l1-.4l1,1.3l1-.2l1,.1l1-.5l1-.2l1-.5l1-.4l1,1.5l1-.5l1,.6l1-1.4l1,.3l1,.9l1,1.4l1-3.1l1,3.3l1-3.5l1,2.7l1-.3l1-.3l1-.2l1,.5l1-3.8l1,2.7l1-.9l1,1.7l1,.5l1-1.9l1-1.2l1,1l1-.5l1-.5l1-1l1-.2l1-1l1,2.3l1-.5l1,1.2l1,.9l1-4.5l1,2.1l1,.8l1,.4l1-3l1,2.3l1,.5l1,0l1,.3l1,.5l1,.9l1-3.4l1,.5l1,.6l1-6.6l1-2.7l1,.6l1,1.7l1-.8l1,1.3l1-.5l1-.8l1,.1l1,.3l1-.2l1-.4l1-.3l1-1.8l1.1,2.3l1-.2l1,1.1l1-2.2l1,8.9l1,.2l1,1.1l1,.2l1-1.1l1-.9l1,1.7l1-1.2l1-.1l1,3.2l1-2l1-.6l1,1.2l1-2.1l1,1.6l1,0l1,.2l1,2.2l1-1.4l1,2.3l1-1.3l1-2.3l1,.9l1,2.1l1-1.8l1-.3l1,2.6l1-.8l1-3.4l1,4.1l1-2.5l1,.4l1-.5l1,1.5l1-3.3l1,2.6l1,.9l1-3.6l1,3.1l1-1.3l1-.5l1,2.2l1-.6l1-.7l1-.7l1-1.1l1,2.2l1-.5l1-1l1,.4l1-1.9l1,2.5l1,1.6l1-1l1,.5l1,.1l1,.4l1-.7l1-.8l1,2.1l1-2.5l1-.7l1,3l1-.8l1-.2l1,.5l1-.7l1-.3l1,1.6l1-5.2l1,3.2l1,1.8l1-.3l1-1.2l1,.1l1,.9l1-1.2l1,1.8l1-4l1-.7l1,4.1l1-2l1-.4l1,2.7l1-3.3l1,2.4l1,.4l1,.1l1-.1l1-1l1,1l1-.6l1-.1l1,.7l1-.9l1,.2l1-.8l1,2.9l1-1.1l1-2.5l1,.9l1,.4l1,.7l1-.8l1,.9l1-2.2l1,1.9l1-2.1l1,14.7l1,3.5l1-.4l1-3.2l1,2.8l1,.1l1-1.3l1,1l1-2.3l1,.9l1,2.4l1-2.5l1-1l1,2.3l1-1.7l1,1l1,.6l1-.9l1,1.2l1,1.7l1-4l1,2.7l1-.3l1,.8l1-.8l1-2.6l1,2.2l1-1.3l1-.1l1,1l1-2.1l1,3.2l1-1.2l1-.7l1,1.3l1-.6l1,1.7l1-1.3l1,1.6l1-2.9l1,.9l1,1.4l1-.7l1-.8l1,.6l1-.9l1-1.5l1-.3l1,1.4l1-.7l1-.7l1-1l1,2.7l1,.9l1-.8l1-1.1l1,.5l1,.6l1,1.2l1-1.5l1-.2l1,.5l1,1.6l1-1.9l1,.4l1-1.5l1,2.2l1,.4l1,.7l1,.7l1-1.3l1-1.8l1-.1l1,3.1l1-2.9l1-153.1l1,4.1l1,.5l1,.2l1,1.9l1-2.4l1-.7l1,0l1-1.8l1,3.1l1-2.9l1-1.6l1-1.2l1,3.7l1-3.2l1,2.3l1,3.4l1-5.3l1,2.3l1-.4l1,0l1,.4l1,.1l1-1.3l1-.8l1,.5l1,2.1l1.1,151.6l1-3l1,.5l1-.2l1,.8l1,.8l1-.4l1-.5l1,3.2l1-2.4l1-2.5l1,3.3l1-1.8l1,2.6l1-2.7l1,.2l1-1l1,2.8l1-2.3l1-1.8l1,5.3l1-2.6l1,0l1-.6l1,.8l1-1.8l1,0l1,.1l1,.6l1-2.4l1,1.6l1,1.6l1-1.8l1,1.8l1,2.5l1-2.6l1-.3l1-1l1,2.8l1,.1l1-1.6l1,1.8l1,2.2l1-5.6l1,1.9l1,1.2l1-2.4l1,.8l1,.5l1-1.4l1,.7l1-3.1l1,4.3l1-1.5l1-.4l1,1.4l1-2.4l1,1l1,.8l1-1.7l1,1.6l1,.1l1-.9l1,1.6l1-.9l1,.1l1-1.1l1,3.5l1-.7l1-2.1l1,1.2l1-1.2l1,.9l1,.9l1-.8l1,.4l1,.6l1,1l1-1.7l1-.3l1-1.1l1-.7l1,1.4l1,.4l1-.1l1-1.4l1-1.6l1,3.5l1-2.1l1,.7l1,0l1,1.9l1-1.8l1,2.2l1-3.2l1,1.2l1-2.7l1,4.5l1-3l1,1.7l1-.9l1-1.2l1,.8l1-.8l1,.6l1,.8l1,1l1-3.2l1,1.9l1,1.2l1-.9l1-.1l1,.3l1-2.1l1,1l1-.1l1,.5l1,.4l1,.6l1,2l1-1.7l1-1.4l1-.3l1,.7l1,3l1,1l1-.6l1,1l1-1.7l1,1l1,1.1l1-1.8l1,1.5l1-1.6l1,.6l1-.2l1,.9l1,.1l1-.1l1-7.3l1,1.4l1-.1l1-.5l1-.7l1-.2l1-.6l1,1.3l1,.7l1,.2l1,1.9l1-1.8l1,1.2l1-2l1-8l1-.6l1-.4l1,1.2l1-4.3l1,1.7l1-.5l1,.2l1-1.7l1,3.5l1-1.5l1-.7l1,2.3l1-2.6l1,1.3l1-.6l1-.9l1,1.4l1,.1l1-3.1l1-.6l1,3.6l1-.2l1-1.6l1,1.1l1-.4l1,1.7l1-4.4l1,.8l1,2.7l1-.5l1,2.1l1-2.9l1,1.5l1,.6l1,1.6l1-.8l1,.1l1,.6l1-.7l1-.9l1,4.1l1-2.9l1,.9l1,.1l1,2.9l1-1.1l1,.1l1,.8l1,1.3l1-1.1l1-.1l1,2.5l1-1.5l1-93.8l1,.6l1,1.3l1-.6l1-1l1,3.8l1-2.2l1.1-.8l1,.2l1-1.6l1,1.2l1,.8l1-1l1-.1l1,1l1-.3l1,.5l1-.7l1,1.3l1-1.5l1,.3l1,1.8l1-1.9l1-1.9l1,1.8l1-.4l1-1.1l1,.6l1,1.9l1-.8l1-.4l1,1.6l1-2.9l1,2.4l1,1.2l1-3.9l1,1l1-.6l1,1.5l1-1.3l1-.9l1-.5l1,1.4l1-1.9l1,1.8l1,1l1-.6l1,.5l1-3.8l1,.7l1,.7l1,3l1,.9l1-4.9l1,2.2l1,.5l1-2.4l1,1.6l1-1.8l1,2.8l1,.2l1,.1l1-.9l1,2.3l1-2.8l1,1.6l1-3.5l1,.9l1,1.8l1,.5l1-1.3l1-.2l1-1.2l1,2l1-3.5l1,5l1-.9l1-1.5l1-2l1,2.9l1,.5l1,.2l1-.3l1-3.2l1-.3l1,1l1,0l1-.8l1,.4l1,2.4l1,1.7l1-4.4l1,.6l1,.7l1-29.1l1,.7l1-1.4l1-1.1l1,.9l1-1.3l1,1.5l1,.6l1-2.8l1,1.2l1-.2l1-2.7l1,.3l1-.6l1,1.8l1-1.6l1,4.2l1-2.2l1-.1l1,.1" fill="none" stroke="#F4D598" stroke-width="1.0" stroke-linejoin="round"/>
<path d="M68.5,389.1l1,.2l1,.4l1,.9l1-2.1l1,1l1,1.3l1-2.5l1,2.2l1,.2l1-2.8l1,1.8l1-1l1,2.1l1-1.5l1,.6l1-2.2l1-.3l1,1.6l1,.1l1,1.5l1-1.5l1,1.1l1-2.1l1,2l1,.3l1-1.9l1,3.5l1-3l1,2.9l1-3l1-.8l1,1l1,1.1l1-1.1l1-.6l1,.5l1,.9l1-.1l1-.1l1-2.1l1,3l1-2.9l1,1.5l1-.4l1,2.7l1-4l1,1.8l1,.5l1-.2l1,1.4l1-3.3l1,1.5l1,.7l1-.7l1,1.6l1,.5l1-2.9l1,.8l1-2.1l1,2.3l1-1.3l1-.2l1,0l1,2.3l1-1.1l1,1.5l1-1.2l1-3.9l1,3.4l1,1.4l1-3.2l1-.8l1-1l1,4.5l1-2.1l1,.6l1,2.8l1-1.8l1-.9l1,2.7l1-1.5l1,1.9l1-1.4l1-1.2l1,.6l1,0l1,1.4l1-1.9l1,1.3l1-2.3l1,1.3l1,1.2l1-2.2l1,2.6l1-.2l1-1.3l1,0l1,1.3l1-1.9l1,.4l1,.7l1-.5l1-.5l1-.4l1,.1l1,2.2l1.1-7.3l1,1.1l1-.1l1,1l1-2l1,.9l1-.2l1-.1l1-.8l1,2.4l1-2.3l1-.2l1-1.9l1,3l1,.3l1,.6l1-.4l1,1.2l1-.2l1-.3l1-1.3l1,2.8l1-1l1-1.7l1,.4l1,1.4l1-1.9l1,1.3l1-.6l1-.9l1,.4l1-1.4l1,4.7l1-3.4l1-.5l1,4l1-5.4l1-.9l1,4.2l1-.8l1,.6l1-2.8l1,3.3l1-2.2l1-.6l1,3.5l1-2.5l1-.3l1,.6l1-.6l1,1.8l1-3.1l1,.7l1,.9l1-1.4l1,1.4l1,.6l1,5.3l1-.5l1-1.4l1,2.9l1-2.6l1,1.6l1-.5l1-3.8l1,5.2l1-.3l1,.1l1-1.9l1,.6l1,1.7l1-1.3l1,1.6l1-1.4l1-.3l1,.1l1,2l1-1.6l1,.4l1,1.8l1-4.2l1,1.9l1-.8l1-.8l1,2.7l1-.9l1,1l1-3.1l1-.7l1,4.5l1-3.5l1-.2l1,.9l1,2.3l1-.6l1-.1l1-2.8l1,1.4l1-.8l1,.1l1,.9l1-2l1,4.4l1-.9l1-1.7l1-.5l1,1.2l1,2.1l1-4.1l1,1.4l1,1.3l1-.8l1-1.4l1,2.2l1,.1l1-.6l1-1.8l1-.5l1,1l1,.3l1-.7l1,1.7l1-.6l1-2.2l1,2.4l1-1.1l1,.6l1,1.7l1-.2l1-2.7l1,3.6l1-2.8l1,1.2l1-.3l1,1.1l1-.1l1-.5l1-1.9l1,1.4l1-2.3l1,1l1-2.2l1,4.4l1-1.8l1,1l1-.3l1-.3l1,.2l1,.1l1-.2l1-.2l1,.2l1,1.3l1-1.4l1-.9l1-1.4l1,2.1l1-1.9l1,2.5l1,.5l1,1.1l1,.2l1-1.4l1-1.7l1-.5l1-1.2l1,1.9l1,1.1l1-1.3l1-1.3l1,.5l1,1.3l1,.5l1-.9l1-1l1-1.4l1,4.5l1-2l1-.1l1,1.9l1-.1l1-3l1,3l1-.5l1,1.1l1-.2l1-.3l1-1.2l1,1.4l1-1.4l1,1l1-1.3l1-.6l1,2.6l1-.2l1-1.5l1-.6l1-3.2l1-3l1,.4l1,4.6l1-3.9l1,.2l1,1.2l1-1.8l1,1l1,2l1-2.2l1,1l1-.4l1,2l1-1.3l1,.5l1-2.5l1.1,1.6l1,.5l1,.1l1-.8l1-.9l1,4.5l1-2.5l1-.6l1-3.5l1,3.6l1-1.2l1,1.5l1-1.6l1-.1l1,1.7l1-1.9l1,2.2l1,.7l1-3.2l1,1.8l1,1.1l1-1.8l1,1l1-.8l1,2.4l1-1.8l1-.3l1,1.4l1-.2l1-1.9l1,2.1l1-.7l1,0l1,1.8l1-1.8l1-1.2l1,2.4l1-4.2l1,6.2l1-.7l1,1.4l1-.9l1-.8l1,2l1-2l1,1.7l1,.7l1-1.4l1,2.7l1-3.7l1,.5l1,.2l1,1.6l1-2l1,1.5l1,.9l1-.8l1,.7l1-4.3l1,3.9l1,.6l1-3.7l1,2.7l1-.8l1-1.5l1,.3l1,.9l1-.1l1,1.1l1-.8l1-2.7l1,1.6l1,5.3l1-4.3l1-1.3l1-.6l1,3.7l1-1.9l1,2.3l1,.5l1-15.3l1,0l1,.5l1,1.9l1-1.1l1-2.1l1,1l1-.9l1-.8l1,1.2l1,1.5l1-2.4l1,1.4l1-.6l1,1.4l1-.9l1-.8l1-1.6l1,4.1l1-1.9l1-.1l1,1.6l1-1.6l1,.2l1,.8l1-2.3l1,2l1-.5l1-.3l1-1.4l1,2.4l1-.5l1-2l1,.8l1-.7l1,1l1-.5l1,1.2l1-1.6l1-.2l1,.1l1,.3l1,.6l1,2.1l1-1.9l1-.8l1-.4l1,3.6l1-3l1,.8l1,1.1l1-2.1l1-1.6l1,2.4l1-1.2l1,1.1l1-.6l1,1.4l1-2.7l1,.9l1,1.3l1,.6l1,.2l1,.4l1-1.7l1-.4l1,1.3l1-.2l1,.1l1-.5l1-.2l1-.5l1-.4l1,1.5l1-.5l1,.6l1-1.4l1,.3l1,.9l1,1.4l1-3.1l1,3.3l1-3.5l1,2.7l1-.3l1-.3l1-.2l1,.5l1-3.8l1,2.7l1-.9l1,1.7l1,.5l1-1.9l1-1.2l1,1l1-.5l1-.5l1-1l1-.2l1-1l1,2.3l1-.5l1,1.2l1,.9l1-4.5l1,2.1l1,.8l1,.4l1-3l1,2.3l1,.5l1,0l1,.3l1,.5l1,.9l1-3.4l1,.5l1,.6l1-6.6l1-2.7l1,.6l1,1.7l1-.8l1,1.3l1-.5l1-.8l1,.1l1,.3l1-.2l1-.4l1-.3l1-1.8l1.1,2.3l1-.2l1,1.1l1-2.2l1,8.9l1,.2l1,1.1l1,.2l1-1.1l1-.9l1,1.7l1-1.2l1-.1l1,3.2l1-2l1-.6l1,1.2l1-2.1l1,1.6l1,0l1,.2l1,2.2l1-1.4l1,2.3l1-1.3l1-2.3l1,.9l1,2.1l1-1.8l1-.3l1,2.6l1-.8l1-3.4l1,4.1l1-2.5l1,.4l1-.5l1,1.5l1-3.3l1,2.6l1,.9l1-3.6l1,3.1l1-1.3l1-.5l1,2.2l1-.6l1-.7l1-.7l1-1.1l1,2.2l1-.5l1-1l1,.4l1-1.9l1,2.5l1,1.6l1-1l1,.5l1,.1l1,.4l1-.7l1-.8l1,2.1l1-2.5l1-.7l1,3l1-.8l1-.2l1,.5l1-.7l1-.3l1,1.6l1-5.2l1,3.2l1,1.8l1-.3l1-1.2l1,.1l1,.9l1-1.2l1,1.8l1-4l1-.7l1,4.1l1-2l1-.4l1,2.7l1-3.3l1,2.4l1,.4l1,.1l1-.1l1-1l1,1l1-.6l1-.1l1,.7l1-.9l1,.2l1-.8l1,2.9l1-1.1l1-2.5l1,.9l1,.4l1,.7l1-.8l1,.9l1-2.2l1,1.9l1-2.1l1,14.7l1,3.5l1-.4l1-3.2l1,2.8l1,.1l1-1.3l1,1l1-2.3l1,.9l1,2.4l1-2.5l1-1l1,2.3l1-1.7l1,1l1,.6l1-.9l1,1.2l1,1.7l1-4l1,2.7l1-.3l1,.8l1-.8l1-2.6l1,2.2l1-1.3l1-.1l1,1l1-2.1l1,3.2l1-1.2l1-.7l1,1.3l1-.6l1,1.7l1-1.3l1,1.6l1-2.9l1,.9l1,1.4l1-.7l1-.8l1,.6l1-.9l1-1.5l1-.3l1,1.4l1-.7l1-.7l1-1l1,2.7l1,.9l1-.8l1-1.1l1,.5l1,.6l1,1.2l1-1.5l1-.2l1,.5l1,1.6l1-1.9l1,.4l1-1.5l1,2.2l1,.4l1,.7l1,.7l1-1.3l1-1.8l1-.1l1,3.1l1-2.9l1-153.1l1,4.1l1,.5l1,.2l1,1.9l1-2.4l1-.7l1,0l1-1.8l1,3.1l1-2.9l1-1.6l1-1.2l1,3.7l1-3.2l1,2.3l1,3.4l1-5.3l1,2.3l1-.4l1,0l1,.4l1,.1l1-1.3l1-.8l1,.5l1,2.1l1.1,151.6l1-3l1,.5l1-.2l1,.8l1,.8l1-.4l1-.5l1,3.2l1-2.4l1-2.5l1,3.3l1-1.8l1,2.6l1-2.7l1,.2l1-1l1,2.8l1-2.3l1-1.8l1,5.3l1-2.6l1,0l1-.6l1,.8l1-1.8l1,0l1,.1l1,.6l1-2.4l1,1.6l1,1.6l1-1.8l1,1.8l1,2.5l1-2.6l1-.3l1-1l1,2.8l1,.1l1-1.6l1,1.8l1,2.2l1-5.6l1,1.9l1,1.2l1-2.4l1,.8l1,.5l1-1.4l1,.7l1-3.1l1,4.3l1-1.5l1-.4l1,1.4l1-2.4l1,1l1,.8l1-1.7l1,1.6l1,.1l1-.9l1,1.6l1-.9l1,.1l1-1.1l1,3.5l1-.7l1-2.1l1,1.2l1-1.2l1,.9l1,.9l1-.8l1,.4l1,.6l1,1l1-1.7l1-.3l1-1.1l1-.7l1,1.4l1,.4l1-.1l1-1.4l1-1.6l1,3.5l1-2.1l1,.7l1,0l1,1.9l1-1.8l1,2.2l1-3.2l1,1.2l1-2.7l1,4.5l1-3l1,1.7l1-.9l1-1.2l1,.8l1-.8l1,.6l1,.8l1,1l1-3.2l1,1.9l1,1.2l1-.9l1-.1l1,.3l1-2.1l1,1l1-.1l1,.5l1,.4l1,.6l1,2l1-1.7l1-1.4l1-.3l1,.7l1,3l1,1l1-.6l1,1l1-1.7l1,1l1,1.1l1-1.8l1,1.5l1-1.6l1,.6l1-.2l1,.9l1,.1l1-.1l1-7.3l1,1.4l1-.1l1-.5l1-.7l1-.2l1-.6l1,1.3l1,.7l1,.2l1,1.9l1-1.8l1,1.2l1-7l1-8l1,4.4l1-.4l1,1.2l1-4.3l1,1.7l1-.5l1,.2l1-1.7l1,3.5l1-1.5l1-.7l1,2.3l1-2.6l1,1.3l1-.6l1-.9l1,1.4l1,.1l1-3.1l1-.6l1,3.6l1-.2l1-1.6l1,1.1l1-.4l1,1.7l1-4.4l1,.8l1,2.7l1-.5l1,2.1l1-2.9l1,1.5l1,.6l1,1.6l1-.8l1,.1l1,.6l1-.7l1-.9l1,4.1l1-2.9l1,.9l1,.1l1,2.9l1-1.1l1,.1l1,.8l1,1.3l1-1.1l1-.1l1,2.5l1-1.5l1-93.8l1,.6l1,1.3l1-.6l1-1l1,3.8l1-2.2l1.1-.8l1,.2l1-1.6l1,1.2l1,.8l1-1l1-.1l1,1l1-.3l1,.5l1-.7l1,1.3l1-1.5l1,.3l1,1.8l1-1.9l1-1.9l1,1.8l1-.4l1-1.1l1,.6l1,1.9l1-.8l1-.4l1,1.6l1-2.9l1,2.4l1,1.2l1-3.9l1,1l1-.6l1,1.5l1-1.3l1-.9l1-.5l1,1.4l1-1.9l1,1.8l1,1l1-.6l1,.5l1-3.8l1,.7l1,.7l1,3l1,.9l1-4.9l1,2.2l1,.5l1-2.4l1,1.6l1-1.8l1,2.8l1,.2l1,.1l1-.9l1,2.3l1-2.8l1,1.6l1-3.5l1,.9l1,1.8l1,.5l1-1.3l1-.2l1-1.2l1,2l1-3.5l1,5l1-.9l1-1.5l1-2l1,2.9l1,.5l1,.2l1-.3l1-3.2l1-.3l1,1l1,0l1-.8l1,.4l1,2.4l1,1.7l1-4.4l1,.6l1,.7l1-29.1l1,.7l1-1.4l1-1.1l1,.9l1-1.3l1,1.5l1,.6l1-2.8l1,1.2l1-.2l1-2.7l1,.3l1-.6l1,1.8l1-7.6l1,4.2l1,3.8l1-.1l1,.1" fill="none" stroke="#70DBED" stroke-width="2.1" stroke-linejoin="round"/>
<path d="M68.5,372.7l1-.1l1,.9l1,1.6l1-2.8l1,1.3l1,1.5l1-3.5l1,1.6l1,1.7l1-2.6l1,1.8l1-2.1l1,2.8l1-2.3l1,1.4l1-2.3l1,.1l1,1.4l1,0l1,2.3l1-2.6l1,2.4l1-3.1l1,1.6l1,1l1-1.8l1,3.5l1-2.6l1,1.4l1-1.6l1-2.3l1,.9l1,2.5l1-2.1l1-.1l1,.7l1,1.2l1-.1l1-1.1l1-1.4l1,3.1l1-2.8l1,.9l1-.2l1,3.1l1-4.3l1,1.4l1,1.5l1-.9l1,2.5l1-4.8l1,1.9l1,1.1l1,0l1,.7l1,.1l1-1.5l1,.9l1-3l1,2.7l1-1.3l1-1l1,0l1,2.7l1-1.3l1,1.4l1-.3l1-4.6l1,2.9l1,1.6l1-3.1l1-1.6l1-1.3l1,5.8l1-2.6l1,.7l1,2l1-1.5l1-.6l1,2.1l1-.3l1,1.3l1-.7l1-1.9l1,1.6l1-1.1l1,1.3l1-2l1,1.7l1-1.6l1,.8l1,.6l1-2l1,3.1l1-.8l1-1.1l1,.4l1,1.1l1-1.7l1-.9l1,2.2l1-1.2l1-.7l1-1.4l1,.4l1,1.5l1.1-6.1l1,.6l1,.7l1,1.3l1-2.2l1,1.8l1-.8l1-.4l1-.3l1,1.8l1-2.7l1,.7l1-1.9l1,3.6l1-.6l1,.3l1-.1l1,1.3l1-.2l1,0l1-1.9l1,2.8l1-.8l1-1.1l1,.3l1,1l1-1.5l1,2.1l1-1.6l1-1.3l1,.5l1-1.3l1,4l1-2.6l1-1.1l1,4.5l1-6.6l1-.4l1,4.7l1-.9l1,.9l1-2.8l1,3.1l1-2.2l1-.6l1,4.2l1-2.5l1,0l1,.6l1-1.9l1,3.3l1-5l1,2.4l1,.5l1-1.7l1,2l1-.3l1,6.5l1-2.5l1-.1l1,2.2l1-2.6l1,2l1-1.3l1-3.9l1,6.1l1-.1l1-.1l1-1.6l1,1.2l1,1l1-2.5l1,2.9l1-1l1-1.6l1,1.1l1,2l1-1.4l1-.1l1,3.5l1-5.9l1,1.4l1,.2l1-.5l1,1l1,.6l1,.6l1-3.1l1-1.5l1,4.7l1-3.4l1,0l1,.9l1,1.8l1,.4l1-1l1-2.8l1,1.8l1-1.1l1,.6l1,.5l1-1.1l1,4.1l1-1.5l1-1.8l1,.1l1,1.2l1,1.7l1-3.7l1,.9l1,1.2l1-1l1-.4l1,2.1l1-1.2l1,.1l1-2l1-.7l1,2.6l1-.4l1-.6l1,1.6l1,.1l1-3.2l1,2.3l1-1l1,1.1l1,.8l1-.4l1-2.7l1,4l1-1.4l1,0l1-1l1,1.6l1,.1l1-.5l1-1.2l1,1.3l1-2.1l1,.5l1-1.3l1,3.5l1-2.2l1,.8l1,.5l1-.5l1,.7l1-.1l1-.4l1,.6l1-.2l1,1.6l1-2.9l1,.2l1-1.4l1,2.6l1-2.4l1,2.2l1,1.4l1-.4l1,1.4l1-2l1-1.6l1-1.5l1-.4l1,1.9l1,.8l1-1.1l1-1.4l1-.3l1,1.8l1,.1l1-.5l1-1.6l1-.9l1,4.9l1-1.8l1,13.4l1,2.3l1-.4l1-3.6l1,3.1l1-.1l1,1.3l1-.7l1-.5l1-.9l1,.5l1-.9l1,2.1l1-1.8l1-1.4l1,2.5l1,0l1-1.6l1-.4l1-2.1l1-3.2l1,.9l1,4.5l1-5.2l1,.9l1,1.2l1-2.6l1,2l1,2.1l1-2.9l1,1.1l1-.1l1,1.7l1-1.8l1,1.4l1-2.6l1.1,.6l1,1.9l1-.9l1,1.3l1-2.9l1,5.4l1-.8l1-2l1-4.9l1,4.5l1-.9l1,1.4l1-2l1,.1l1,1.7l1-.9l1,2.1l1,1.1l1-4.2l1,2.3l1,.5l1-1.5l1,1.3l1-2.1l1,2.7l1-1.4l1-.3l1,1.6l1,.2l1-1.7l1,1.4l1-.4l1,.5l1,.9l1-1.9l1-.3l1,1.4l1-4.1l1,5.5l1-.1l1,.9l1,0l1-.8l1,1.4l1-2.8l1,3l1,.3l1-.4l1,2.3l1-4.3l1,.5l1,.7l1,1.1l1-1.7l1,1l1,1.7l1-1.2l1,.5l1-3.5l1,3.1l1,1.1l1-3.6l1,2.8l1-.3l1-2.5l1,.2l1,1.5l1-.1l1,1.4l1-1.4l1-4l1,2.8l1,6.4l1-4.9l1-.8l1-1.4l1,3.7l1-1.7l1,2.2l1,1l1-17.1l1,1.1l1,.4l1,1.7l1-1.7l1-.3l1,.3l1-1.3l1-1.4l1,1.1l1,1.5l1-2.1l1,1.7l1-1l1,1.5l1-2l1,.6l1-1.6l1,3.6l1-1.4l1-.3l1,.5l1-1.3l1,.5l1,1.3l1-2l1,1.4l1-.1l1-1.2l1,.1l1,1.9l1-.2l1-2.6l1,.2l1-.6l1,1.2l1,.2l1-.2l1-.3l1-.1l1-.4l1,.4l1,.9l1,2.3l1-3l1-.6l1-.5l1,3.8l1-3.7l1,1.5l1,1.7l1-2.7l1-1.4l1,3.3l1-2.2l1,.7l1-.3l1,.8l1-1.5l1,.6l1,.7l1,1.1l1-.9l1,.8l1-1.7l1-.4l1,1.6l1-.5l1,.1l1,.8l1-1.4l1-.4l1-.1l1,1.9l1-1l1,.8l1-1.4l1,1l1,.2l1,1.1l1-2.5l1,3.3l1-3.8l1,3.4l1-.9l1-.6l1,.5l1,.1l1-3.3l1,2.4l1-.9l1,1.3l1,0l1-1.4l1-.9l1,.6l1-.9l1-.1l1-.3l1-.8l1-1.2l1,2l1-.2l1,1.8l1,.1l1-4.5l1,2l1,.1l1,2.1l1-3.1l1,1.7l1,.9l1,0l1-.2l1,1.4l1,.1l1-3.2l1,0l1,1l1-7.3l1-2.5l1,1.7l1,1.3l1-1.1l1,1.7l1-.3l1-1l1,.4l1-.6l1-.6l1,.5l1,.4l1-3.1l1.1,2.9l1-.1l1,1.9l1-3.1l1,9.5l1,.4l1,.7l1-.3l1-.2l1-.7l1,.6l1-.9l1,1.2l1,2.1l1-1.7l1-.6l1,.2l1-2.3l1,2.4l1-.5l1,0l1,2.8l1-.2l1,.8l1-.8l1-1.3l1,0l1,2l1-1.7l1,.3l1,1.8l1-.6l1-3.9l1,4.8l1-2.6l1-.2l1,1.3l1,.1l1-2.7l1,2l1,.4l1-2.7l1,2.5l1-.8l1-1l1,2.2l1-.5l1,.1l1-.8l1-2l1,2.1l1,.1l1-1.2l1,.2l1-1.5l1,2.3l1,2l1-.6l1-.2l1-.4l1,1l1-.6l1-1.1l1,2l1-2.8l1-.6l1,3.2l1,0l1-.7l1,.1l1-.5l1-1.1l1,3.2l1-5.6l1,2.5l1,2.5l1-.5l1-1.3l1,.3l1,.6l1-1.7l1,3l1-4.5l1-.3l1,1.9l1-.5l1-1.3l1,3.5l1-3.1l1,1.7l1,.1l1,.3l1,1.3l1-.9l1,.4l1-.9l1-1.3l1,1.5l1,.1l1-.1l1-1l1,2.3l1-.7l1-2.3l1,.9l1-.2l1,1.5l1-1l1,1.1l1-3.1l1,2.2l1-2l1,10.7l1,4.3l1-.7l1-3.1l1,1.4l1,1.2l1-1.5l1,.3l1-2.1l1,1.7l1,.8l1-2.1l1-1l1,2.4l1-2.6l1,1.4l1,0l1-2l1,2.5l1,1.1l1-3.2l1,2l1-.3l1,.7l1-1.7l1-2.7l1,2.6l1-2.5l1,.3l1,.7l1-2.6l1,3.5l1-1.6l1-1l1,2.2l1-.3l1,.6l1-1.5l1,1.6l1-4.1l1,1.7l1,.9l1-1.5l1-1.4l1,1.7l1-1.4l1-1.9l1-.7l1,1.3l1-.2l1-.8l1-1.9l1,3l1,.7l1-.7l1-.9l1-.4l1,1.4l1,.2l1-1.5l1,0l1,.5l1,.5l1-1.6l1,.2l1-2l1,3.1l1-.6l1-.3l1,1.5l1-1.1l1-2.9l1-1.5l1,4l1-2.1l1-151l1,4.2l1,.1l1,1.4l1,1.1l1-2.6l1,.1l1,.4l1-2.6l1,3.4l1-3.4l1-.9l1-1.8l1,4.2l1-3.5l1,3.3l1,3l1-6l1,3l1-.8l1-.3l1,.6l1,1.8l1-2.6l1-1.7l1,1.8l1,2.1l1.1,151.7l1-3.3l1,1.4l1-.5l1-.3l1,1.5l1-1.3l1-.7l1,3.9l1-2.9l1-2.1l1,4.6l1-2.7l1,2.4l1-2.5l1,.1l1-.3l1,1.9l1-3.5l1,0l1,4.3l1-1.8l1,0l1-.4l1,1.9l1-3l1-.2l1-.2l1,.9l1-1.5l1,1.2l1,1.7l1-2.4l1,2l1,2.5l1-3.1l1,.2l1-.2l1,2.4l1-.7l1-.7l1,1.1l1,2.1l1-5.1l1,2.5l1,.5l1-3l1,.5l1,1.1l1-1.9l1,1.4l1-3.6l1,5.3l1-2l1-.9l1,1.2l1-1.1l1,.5l1,.1l1-1.2l1,2.1l1-.9l1-.4l1,1.5l1-1.1l1-.3l1-1.7l1,4.5l1-1.8l1-1.8l1,2.2l1-1.5l1,0l1,1.4l1-.1l1-.4l1,.5l1,1.4l1-1.3l1-.9l1-1l1-.4l1,1.8l1-.2l1,.2l1-1.2l1-.9l1,2.3l1-2.4l1,.5l1,.4l1,1.8l1-.6l1,.6l1-2.1l1,.9l1-2.8l1,5.1l1-2.3l1-.2l1-.6l1-1.4l1,1.5l1-.3l1-.4l1,1.3l1,.6l1-2.5l1,1.5l1,.6l1-.1l1,.2l1-.8l1-1.2l1,1.1l1,.2l1,.9l1-1.1l1,.6l1,2.5l1-1.8l1-2.1l1,.2l1,1l1,3.1l1,1l1-.8l1,.9l1-2.5l1,1.5l1,1.3l1-1.9l1,2.6l1-2.4l1,.3l1,.8l1,.7l1-1.6l1,1.5l1-8.2l1,1.2l1,.9l1-1.2l1,.1l1-1.3l1,0l1,1.8l1-1.6l1,1.5l1,2.9l1-2.4l1,1.4l1-2.4l1-8.4l1,.4l1-1.7l1,2.8l1-6l1,3.3l1-.4l1-.1l1-2.4l1,3.5l1-1.4l1-2l1,3.2l1-1.4l1,.8l1-1.9l1,0l1,1.3l1,.2l1-2.6l1-.6l1,3l1,.5l1-2l1,1l1-.5l1,2.1l1-4.1l1,1.1l1,2.4l1-1.6l1,3l1-3l1,1.8l1-.8l1,2.3l1-.7l1-.3l1,.5l1-.8l1,.3l1,3.3l1-2.8l1,1l1-1.1l1,4.8l1-2l1,.2l1,0l1,2.6l1-1.9l1,.9l1,1.4l1-1.2l1-93.7l1,.9l1,1.6l1-1.1l1-1l1,4.1l1-1l1.1-1.8l1-.2l1-1.7l1,.9l1,1.3l1-1l1,.6l1,.3l1-.1l1,.3l1-.6l1,1l1-.8l1-.3l1,1.6l1-1.5l1-2.4l1,3l1-.8l1-1.5l1,.4l1,2.4l1-1l1,0l1,1.8l1-3.9l1,3.4l1,1.3l1-4l1,1.4l1-1l1,1.3l1-1.5l1-1l1-1l1,2.2l1-1.3l1,.9l1,1.2l1-.8l1,.7l1-3.8l1,1.5l1-.6l1,3.6l1,1l1-5.9l1,3.4l1-.9l1-2.5l1,2.6l1-1.3l1,1.4l1,.5l1,0l1-.7l1,1.8l1-1.4l1,.2l1-2.8l1-.6l1,3.1l1,.1l1-1.3l1,0l1-1.4l1,1.9l1-2.4l1,3.6l1-.6l1-1.5l1-1.2l1,2.2l1,.1l1,1l1-1.1l1-2.7l1-.3l1,1.3l1-1.2l1,.2l1,.8l1,3l1,.3l1-4l1,0l1,1.5l1-26.2l1,.1l1-.9l1-.8l1,.8l1-1.9l1,2.8l1,0l1-3.8l1,2.2l1-1.2l1-2.6l1,.5l1-.5l1,2.8l1-2.8l1,5.3l1-3.1l1-.6l1,1.1" fill="none" stroke="#F9BA8F" stroke-width="1.0" stroke-linejoin="round"/>
<path d="M68.5,371.4l1-.1l1,.9l1,1.6l1-2.8l1,1.3l1,1.5l1-3.5l1,1.6l1,1.7l1-2.6l1,1.8l1-2.1l1,2.8l1-2.3l1,1.4l1-2.3l1,.1l1,1.4l1,0l1,2.3l1-2.6l1,2.4l1-3.1l1,1.6l1,1l1-1.8l1,3.5l1-2.6l1,1.4l1-1.6l1-2.3l1,.9l1,2.5l1-2.1l1-.1l1,.7l1,1.2l1-.1l1-1.1l1-1.4l1,3.1l1-2.8l1,.9l1-.2l1,3.1l1-4.3l1,1.4l1,1.5l1-.9l1,2.5l1-4.8l1,1.9l1,1.1l1,0l1,.7l1,.1l1-1.5l1,.9l1-3l1,2.7l1-1.3l1-1l1,0l1,2.7l1-1.3l1,1.4l1-.3l1-4.6l1,2.9l1,1.6l1-3.1l1-1.6l1-1.3l1,5.8l1-2.6l1,.7l1,2l1-1.5l1-.6l1,2.1l1-.3l1,1.3l1-.7l1-1.9l1,1.6l1-1.1l1,1.3l1-2l1,1.7l1-1.6l1,.8l1,.6l1-2l1,3.1l1-.8l1-1.1l1,.4l1,1.1l1-1.7l1-.9l1,2.2l1-1.2l1-.7l1-1.4l1,.4l1,1.5l1.1-6.1l1,.6l1,.7l1,1.3l1-2.2l1,1.8l1-.8l1-.4l1-.3l1,1.8l1-2.7l1,.7l1-1.9l1,3.6l1-.6l1,.3l1-.1l1,1.3l1-.2l1,0l1-1.9l1,2.8l1-.8l1-1.1l1,.3l1,1l1-1.5l1,2.1l1-1.6l1-1.3l1,.5l1-1.3l1,4l1-2.6l1-1.1l1,4.5l1-6.6l1-.4l1,4.7l1-.9l1,.9l1-2.8l1,3.1l1-2.2l1-.6l1,4.2l1-2.5l1,0l1,.6l1-1.9l1,3.3l1-5l1,2.4l1,.5l1-1.7l1,2l1-.3l1,6.5l1-2.5l1-.1l1,2.2l1-2.6l1,2l1-1.3l1-3.9l1,6.1l1-.1l1-.1l1-1.6l1,1.2l1,1l1-2.5l1,2.9l1-1l1-1.6l1,1.1l1,2l1-1.4l1-.1l1,3.5l1-5.9l1,1.4l1,.2l1-.5l1,1l1,.6l1,.6l1-3.1l1-1.5l1,4.7l1-3.4l1,0l1,.9l1,1.8l1,.4l1-1l1-2.8l1,1.8l1-1.1l1,.6l1,.5l1-1.1l1,4.1l1-1.5l1-1.8l1,.1l1,1.2l1,1.7l1-3.7l1,.9l1,1.2l1-1l1-.4l1,2.1l1-1.2l1,.1l1-2l1-.7l1,2.6l1-.4l1-.6l1,1.6l1,.1l1-3.2l1,2.3l1-1l1,1.1l1,.8l1-.4l1-2.7l1,4l1-1.4l1,0l1-1l1,1.6l1,.1l1-.5l1-1.2l1,1.3l1-2.1l1,.5l1-1.3l1,3.5l1-2.2l1,.8l1,.5l1-.5l1,.7l1-.1l1-.4l1,.6l1-.2l1,1.6l1-2.9l1,.2l1-1.4l1,2.6l1-2.4l1,2.2l1,1.4l1-.4l1,1.4l1-2l1-1.6l1-1.5l1-.4l1,1.9l1,.8l1-1.1l1-1.4l1-.3l1,1.8l1,.1l1-.5l1-1.6l1-.9l1,4.9l1-1.8l1,13.4l1,2.3l1-.4l1-3.6l1,3.1l1-.1l1,1.3l1-.7l1-.5l1-.9l1,.5l1-.9l1,2.1l1-1.8l1-1.4l1,2.5l1,0l1-1.6l1-.4l1-2.1l1-3.2l1,.9l1,4.5l1-5.2l1,.9l1,1.2l1-2.6l1,2l1,2.1l1-2.9l1,1.1l1-.1l1,1.7l1-1.8l1,1.4l1-2.6l1.1,.6l1,1.9l1-.9l1,1.3l1-2.9l1,5.4l1-.8l1-2l1-4.9l1,4.5l1-.9l1,1.4l1-2l1,.1l1,1.7l1-.9l1,2.1l1,1.1l1-4.2l1,2.3l1,.5l1-1.5l1,1.3l1-2.1l1,2.7l1-1.4l1-.3l1,1.6l1,.2l1-1.7l1,1.4l1-.4l1,.5l1,.9l1-1.9l1-.3l1,1.4l1-4.1l1,5.5l1-.1l1,.9l1,0l1-.8l1,1.4l1-2.8l1,3l1,.3l1-.4l1,2.3l1-4.3l1,.5l1,.7l1,1.1l1-1.7l1,1l1,1.7l1-1.2l1,.5l1-3.5l1,3.1l1,1.1l1-3.6l1,2.8l1-.3l1-2.5l1,.2l1,1.5l1-.1l1,1.4l1-1.4l1-4l1,2.8l1,6.4l1-4.9l1-.8l1-1.4l1,3.7l1-1.7l1,2.2l1,1l1-17.1l1,1.1l1,.4l1,1.7l1-1.7l1-.3l1,.3l1-1.3l1-1.4l1,1.1l1,1.5l1-2.1l1,1.7l1-1l1,1.5l1-2l1,.6l1-1.6l1,3.6l1-1.4l1-.3l1,.5l1-1.3l1,.5l1,1.3l1-2l1,1.4l1-.1l1-1.2l1,.1l1,1.9l1-.2l1-2.6l1,.2l1-.6l1,1.2l1,.2l1-.2l1-.3l1-.1l1-.4l1,.4l1,.9l1,2.3l1-3l1-.6l1-.5l1,3.8l1-3.7l1,1.5l1,1.7l1-2.7l1-1.4l1,3.3l1-2.2l1,.7l1-.3l1,.8l1-1.5l1,.6l1,.7l1,1.1l1-.9l1,.8l1-1.7l1-.4l1,1.6l1-.5l1,.1l1,.8l1-1.4l1-.4l1-.1l1,1.9l1-1l1,.8l1-1.4l1,1l1,.2l1,1.1l1-2.5l1,3.3l1-3.8l1,3.4l1-.9l1-.6l1,.5l1,.1l1-3.3l1,2.4l1-.9l1,1.3l1,0l1-1.4l1-.9l1,.6l1-.9l1-.1l1-.3l1-.8l1-1.2l1,2l1-.2l1,1.8l1,.1l1-4.5l1,2l1,.1l1,2.1l1-3.1l1,1.7l1,.9l1,0l1-.2l1,1.4l1,.1l1-3.2l1,0l1,1l1-7.3l1-2.5l1,1.7l1,1.3l1-1.1l1,1.7l1-.3l1-1l1,.4l1-.6l1-.6l1,.5l1,.4l1-3.1l1.1,2.9l1-.1l1,1.9l1-3.1l1,9.5l1,.4l1,.7l1-.3l1-.2l1-.7l1,.6l1-.9l1,1.2l1,2.1l1-1.7l1-.6l1,.2l1-2.3l1,2.4l1-.5l1,0l1,2.8l1-.2l1,.8l1-.8l1-1.3l1,0l1,2l1-1.7l1,.3l1,1.8l1-.6l1-3.9l1,4.8l1-2.6l1-.2l1,1.3l1,.1l1-2.7l1,2l1,.4l1-2.7l1,2.5l1-.8l1-1l1,2.2l1-.5l1,.1l1-.8l1-2l1,2.1l1,.1l1-1.2l1,.2l1-1.5l1,2.3l1,2l1-.6l1-.2l1-.4l1,1l1-.6l1-1.1l1,2l1-2.8l1-.6l1,3.2l1,0l1-.7l1,.1l1-.5l1-1.1l1,3.2l1-5.6l1,2.5l1,2.5l1-.5l1-1.3l1,.3l1,.6l1-1.7l1,3l1-4.5l1-.3l1,1.9l1-.5l1-1.3l1,3.5l1-3.1l1,1.7l1,.1l1,.3l1,1.3l1-.9l1,.4l1-.9l1-1.3l1,1.5l1,.1l1-.1l1-1l1,2.3l1-.7l1-2.3l1,.9l1-.2l1,1.5l1-1l1,1.1l1-3.1l1,2.2l1-2l1,10.7l1,4.3l1-.7l1-3.1l1,1.4l1,1.2l1-1.5l1,.3l1-2.1l1,1.7l1,.8l1-2.1l1-1l1,2.4l1-2.6l1,1.4l1,0l1-2l1,2.5l1,1.1l1-3.2l1,2l1-.3l1,.7l1-1.7l1-2.7l1,2.6l1-2.5l1,.3l1,.7l1-2.6l1,3.5l1-1.6l1-1l1,2.2l1-.3l1,.6l1-1.5l1,1.6l1-4.1l1,1.7l1,.9l1-1.5l1-1.4l1,1.7l1-1.4l1-1.9l1-.7l1,1.3l1-.2l1-.8l1-1.9l1,3l1,.7l1-.7l1-.9l1-.4l1,1.4l1,.2l1-1.5l1,0l1,.5l1,.5l1-1.6l1,.2l1-2l1,3.1l1-.6l1-.3l1,1.5l1-1.1l1-2.9l1-1.5l1,4l1-2.1l1-151l1,4.2l1,.1l1,1.4l1,1.1l1-2.6l1,.1l1,.4l1-2.6l1,3.4l1-3.4l1-.9l1-1.8l1,4.2l1-3.5l1,3.3l1,3l1-6l1,3l1-.8l1-.3l1,.6l1,1.8l1-2.6l1-1.7l1,1.8l1,2.1l1.1,151.7l1-3.3l1,1.4l1-.5l1-.3l1,1.5l1-1.3l1-.7l1,3.9l1-2.9l1-2.1l1,4.6l1-2.7l1,2.4l1-2.5l1,.1l1-.3l1,1.9l1-3.5l1,0l1,4.3l1-1.8l1,0l1-.4l1,1.9l1-3l1-.2l1-.2l1,.9l1-1.5l1,1.2l1,1.7l1-2.4l1,2l1,2.5l1-3.1l1,.2l1-.2l1,2.4l1-.7l1-.7l1,1.1l1,2.1l1-5.1l1,2.5l1,.5l1-3l1,.5l1,1.1l1-1.9l1,1.4l1-3.6l1,5.3l1-2l1-.9l1,1.2l1-1.1l1,.5l1,.1l1-1.2l1,2.1l1-.9l1-.4l1,1.5l1-1.1l1-.3l1-1.7l1,4.5l1-1.8l1-1.8l1,2.2l1-1.5l1,0l1,1.4l1-.1l1-.4l1,.5l1,1.4l1-1.3l1-.9l1-1l1-.4l1,1.8l1-.2l1,.2l1-1.2l1-.9l1,2.3l1-2.4l1,.5l1,.4l1,1.8l1-.6l1,.6l1-2.1l1,.9l1-2.8l1,5.1l1-2.3l1-.2l1-.6l1-1.4l1,1.5l1-.3l1-.4l1,1.3l1,.6l1-2.5l1,1.5l1,.6l1-.1l1,.2l1-.8l1-1.2l1,1.1l1,.2l1,.9l1-1.1l1,.6l1,2.5l1-1.8l1-2.1l1,.2l1,1l1,3.1l1,1l1-.8l1,.9l1-2.5l1,1.5l1,1.3l1-1.9l1,2.6l1-2.4l1,.3l1,.8l1,.7l1-1.6l1,1.5l1-8.2l1,1.2l1,.9l1-1.2l1,.1l1-1.3l1,0l1,1.8l1-1.6l1,1.5l1,2.9l1-2.4l1,1.4l1-8.4l1-8.4l1,6.4l1-1.7l1,2.8l1-6l1,3.3l1-.4l1-.1l1-2.4l1,3.5l1-1.4l1-2l1,3.2l1-1.4l1,.8l1-1.9l1,0l1,1.3l1,.2l1-2.6l1-.6l1,3l1,.5l1-2l1,1l1-.5l1,2.1l1-4.1l1,1.1l1,2.4l1-1.6l1,3l1-3l1,1.8l1-.8l1,2.3l1-.7l1-.3l1,.5l1-.8l1,.3l1,3.3l1-2.8l1,1l1-1.1l1,4.8l1-2l1,.2l1,0l1,2.6l1-1.9l1,.9l1,1.4l1-1.2l1-93.7l1,.9l1,1.6l1-1.1l1-1l1,4.1l1-1l1.1-1.8l1-.2l1-1.7l1,.9l1,1.3l1-1l1,.6l1,.3l1-.1l1,.3l1-.6l1,1l1-.8l1-.3l1,1.6l1-1.5l1-2.4l1,3l1-.8l1-1.5l1,.4l1,2.4l1-1l1,0l1,1.8l1-3.9l1,3.4l1,1.3l1-4l1,1.4l1-1l1,1.3l1-1.5l1-1l1-1l1,2.2l1-1.3l1,.9l1,1.2l1-.8l1,.7l1-3.8l1,1.5l1-.6l1,3.6l1,1l1-5.9l1,3.4l1-.9l1-2.5l1,2.6l1-1.3l1,1.4l1,.5l1,0l1-.7l1,1.8l1-1.4l1,.2l1-2.8l1-.6l1,3.1l1,.1l1-1.3l1,0l1-1.4l1,1.9l1-2.4l1,3.6l1-.6l1-1.5l1-1.2l1,2.2l1,.1l1,1l1-1.1l1-2.7l1-.3l1,1.3l1-1.2l1,.2l1,.8l1,3l1,.3l1-4l1,0l1,1.5l1-26.2l1,.1l1-.9l1-.8l1,.8l1-1.9l1,2.8l1,0l1-3.8l1,2.2l1-1.2l1-2.6l1,.5l1-.5l1,2.8l1-8.8l1,5.3l1,2.9l1-.6l1,1.1" fill="none" stroke="#AEA2E0" stroke-width="2.6" stroke-linejoin="round"/>
<path d="M68.5,363.2l1-1l1,.5l1,3.1l1-3.2l1,1.8l1,.9l1-3.5l1,1.3l1,3.3l1-3.2l1,2.8l1-3l1,3l1-3l1,1.5l1-2.3l1,.2l1,2.1l1-1.1l1,3l1-2.7l1,2.7l1-3.6l1,1.3l1,1.2l1-1l1,3.8l1-3.1l1,1.6l1-2.3l1-2l1,1.1l1,2.9l1-2.9l1,.4l1,.3l1,1.6l1,1.1l1-2.6l1-1.3l1,2.7l1-2.5l1,1.5l1-.7l1,3.1l1-4.4l1,.9l1,3.1l1-1.8l1,3l1-5l1,1.8l1,1.8l1-.9l1,.5l1,1.6l1-2.8l1,1.3l1-2.9l1,2.3l1-1.3l1-.8l1-.7l1,2.2l1,.8l1,0l1-.8l1-3.8l1,2.7l1,.8l1-2.3l1-2.7l1,0l1,5.6l1-2.5l1-.5l1,2.5l1-.4l1-2.6l1,2.8l1,.5l1,.4l1-.9l1-1.4l1,2l1-1.2l1,1.6l1-2.5l1,1.7l1-2.7l1,2l1,.5l1-2.8l1,3.7l1-.5l1-.8l1-.3l1,1.6l1-1.8l1-2l1,2.7l1-2.4l1-.2l1-1.3l1-.2l1,2.9l1.1-6.4l1,1.1l1-.6l1,1.8l1-1.6l1,2.6l1-1.2l1-.3l1-1.2l1,2.1l1-2.2l1,1.3l1-2.8l1,3.4l1-.5l1-.5l1,1l1,.7l1,.4l1,.3l1-2.3l1,3.1l1-.6l1-1.4l1,1.8l1-1.1l1-1l1,2.8l1-1.6l1-1.5l1,1.5l1-2.7l1,4.4l1-3.5l1,0l1,3.3l1-6.2l1,0l1,3.5l1-.9l1,1.8l1-2.5l1,3.4l1-2.9l1-.9l1,4.6l1-3l1,.3l1,.9l1-.8l1,2.9l1-5.9l1,2.3l1,1.4l1-1.9l1,2l1-.2l1,6.3l1-1.9l1-1.8l1,3.2l1-3l1,1.9l1-.1l1-4l1,5.2l1,0l1-.5l1-1.4l1,2l1,.8l1-3.4l1,3.1l1-1l1-.2l1-.6l1,2.6l1-.3l1-1l1,3.2l1-5.2l1,1.3l1,.3l1-1.1l1,1.5l1,.8l1-.4l1-2l1-1.6l1,4.2l1-3.6l1,.2l1,.9l1,2.2l1-.6l1-.1l1-3.2l1,2.4l1-.8l1-.1l1,.5l1-2l1,4.6l1-.9l1-1.6l1-.7l1,1.6l1,2l1-4.3l1,1.7l1,.8l1-.5l1-1.3l1,1.9l1-.7l1,0l1-2l1-1.5l1,3.1l1-.4l1-.5l1,2.2l1-.7l1-3.2l1,2.3l1-1.8l1,1.8l1,.8l1-.2l1-2.1l1,3.8l1-1.5l1-.5l1-.8l1,2.1l1,.2l1-.2l1-.9l1,.8l1-1.5l1,.9l1-1.4l1,3l1-3.2l1,1.9l1,.3l1,.3l1,.2l1-.6l1-.6l1,1.2l1-.8l1,1.8l1-2.9l1-.2l1-.3l1,1.2l1-2.5l1,3.5l1,.7l1-.7l1,1.7l1-1.6l1-2.6l1-1.2l1-.4l1,1.6l1,0l1-.4l1-2.2l1,.5l1,1.4l1,.5l1-.9l1-2.8l1,1l1,4.4l1-1.6l1,13.7l1,1l1-.5l1-3.6l1,3.1l1,.4l1,1.7l1-1.8l1,.6l1-1.7l1,1.5l1-1.4l1,1.9l1-.8l1-2.2l1,1.9l1,.7l1-1l1-1.6l1-1l1-3.8l1,1.2l1,4.2l1-4.9l1,.7l1,1.5l1-2.8l1,2.9l1,1.2l1-2.5l1,.8l1-1l1,2.4l1-1.4l1,1.4l1-3.2l1.1,1.1l1,1.8l1,0l1,.9l1-3.2l1,6.2l1-.3l1-2.1l1-6l1,5l1-.4l1,1.1l1-2.8l1,1.2l1,1.2l1-1.3l1,2l1,2.4l1-3.5l1,1.9l1-.5l1-.3l1,.9l1-2.1l1,2.6l1-2.5l1,.7l1,2.1l1-.6l1-2.9l1,3.1l1-1.2l1,.9l1,.4l1-1.7l1-1.3l1,2.8l1-5.4l1,6.2l1,.8l1-.3l1-.5l1,.3l1,1.7l1-3.6l1,2.8l1,.8l1-.6l1,2.4l1-4.4l1,.3l1,1l1,1.4l1-2.2l1,1l1,1.6l1-1.3l1,1l1-2.4l1,1.8l1,1.5l1-3.2l1,3l1-.4l1-2.9l1-.2l1,2.5l1-.7l1,1.3l1-1.3l1-3.4l1,2.2l1,6l1-4.3l1-.8l1-1.8l1,3.5l1-1.5l1,1.9l1,2.3l1-17.9l1,.9l1,.3l1,.8l1-1.1l1,0l1-.9l1-.7l1-1.4l1,.9l1,1.6l1-2.7l1,3.1l1-2.1l1,1.9l1-2.4l1,1.4l1-2.4l1,5l1-1.7l1-1.9l1,.5l1-1.2l1,.9l1,1.4l1-2.3l1,1.5l1,.1l1-1.4l1-.1l1,2.7l1-.1l1-3l1-.4l1-.4l1,1.1l1-.5l1,.7l1-.5l1-.1l1-.3l1,.4l1,1.2l1,1.8l1-3.4l1-.4l1,.2l1,4.4l1-4.6l1,1.1l1,2.8l1-4.4l1-.6l1,3.3l1-2.4l1,1.6l1-.7l1,.5l1-2l1,1.4l1,.3l1,1l1-.4l1,.3l1-1.7l1-.4l1,1.8l1-1.1l1,.9l1-.2l1-.5l1,.2l1-.4l1,2l1-.9l1,.1l1-1l1,1.4l1-.5l1,2.4l1-3.2l1,2.5l1-3.3l1,2.8l1-.7l1-.6l1,1.7l1-.2l1-4.3l1,2.2l1,.4l1,.5l1,.5l1-1.7l1-1.8l1,1l1-.8l1-21.3l1-1.3l1-1l1-1.7l1,2.2l1,1.5l1,.4l1,0l1-3.9l1,1.8l1,1.1l1,2.5l1-4l1,1.6l1,.4l1,.5l1-.8l1,2.3l1-.9l1-1.9l1-.9l1,1.8l1-11.7l1-1.3l1,2.1l1-.5l1,.4l1,1.7l1-.7l1-.9l1,1l1-1.9l1-.1l1-.5l1,1.4l1-3.1l1.1,2.9l1,.5l1,2l1-2.4l1,12.3l1,.6l1,.3l1-.2l1,.2l1-1.3l1,.2l1,.1l1,.3l1,3.1l1-1.5l1-1.3l1-.9l1-.2l1,.9l1-.9l1,1.1l1,3.7l1,.8l1,0l1-1l1,0l1-.3l1,.8l1-.8l1,1.1l1,.4l1,.2l1-4.7l1,5.2l1-2.6l1,.6l1,1.8l1-.2l1-3.5l1,2.6l1,1.1l1-3.7l1,3l1-1.5l1-1.2l1,3.1l1-2l1,1.2l1-1.6l1-.6l1,1.5l1-.7l1,.2l1-.7l1-1.4l1,1.2l1,2.5l1-.3l1,.7l1-1.3l1,1.2l1-.7l1-1.3l1,1.9l1-2.7l1-.2l1,2.4l1-.3l1,.8l1-.3l1-1.2l1-1.1l1,3.5l1-5.4l1,2.1l1,3.4l1-1.3l1-.9l1,.2l1-.4l1-1.8l1,4.4l1-5.5l1,.8l1,.7l1-.3l1-1.2l1,3.9l1-5l1,2.9l1,.1l1,.7l1,1.6l1-2.9l1,1.7l1-.4l1-1.9l1,1l1,.8l1-.1l1-1.5l1,3.7l1-.6l1-3.4l1,1.5l1-.3l1,1.3l1-1.1l1,.7l1-3.9l1,4.1l1-2.7l1,11.1l1,4.7l1-1.2l1-2.9l1,1.8l1,.5l1-1.6l1,.4l1-2.6l1,2.8l1,1.1l1-2.5l1-.9l1,1.6l1-1.4l1,1.3l1-.8l1-1.1l1,2.3l1,.9l1-2.7l1,.6l1,.6l1-.3l1-1.1l1-2.5l1,2.5l1-2.5l1,.4l1,1.4l1-3.6l1,3.4l1-.6l1-1.1l1,1.4l1-.1l1,1.6l1-2.9l1,.8l1-3.6l1,2.7l1,.2l1-1.1l1-1.3l1,1.9l1-1.5l1-2.4l1-.9l1,2.1l1-.8l1,.5l1-3.3l1,3.4l1,.2l1-.7l1-.7l1-.1l1,2l1-.8l1-1.1l1,1l1,.1l1-.1l1-2.2l1,1.4l1-2.6l1,3.6l1-1.8l1,.2l1,1.1l1-.7l1-2.5l1-3.5l1,5.3l1-2.3l1-149.8l1,4.2l1,1.1l1,.3l1,1.5l1-1.7l1-.6l1,1.4l1-2.8l1,3.6l1-4.4l1-1.1l1-1.3l1,5.1l1-3.6l1,2.7l1,3.1l1-5.5l1,2.9l1-1.1l1,.3l1,1.2l1,1.2l1-2.3l1-.9l1,0l1,2.7l1.1,151l1-2.4l1,.5l1-.5l1,0l1,1.2l1-.5l1-1.6l1,4.7l1-3.6l1-2.2l1,5.3l1-3.6l1,3.5l1-2l1-.9l1-.6l1,2.1l1-2.9l1-.4l1,4.6l1-2.2l1,.9l1-.5l1,2.6l1-3.5l1-.4l1,.5l1-.3l1-1.4l1,2.1l1,.4l1-2.7l1,2.9l1,2.8l1-3.3l1,.9l1-1.3l1,3.1l1-1.1l1-.9l1,1.5l1,2.8l1-5.9l1,2.4l1,1.3l1-4.1l1,1.6l1,.2l1-1.5l1,.9l1-3.6l1,4.7l1-2.4l1,.2l1,1l1-1.3l1,.6l1,.1l1-1.5l1,3.1l1-1.8l1-.5l1,1.5l1-.6l1-1.4l1-.7l1,3.8l1-1.8l1-1.5l1,2.2l1-1.6l1-.4l1,1.6l1-.5l1-.3l1-.4l1,3.1l1-2.4l1-.3l1-1l1-.8l1,1.2l1,2.1l1-2.2l1-.4l1-1.3l1,3.2l1-2.2l1-.6l1,1.2l1,1.6l1,.1l1,.7l1-2.3l1,.9l1-2.6l1,5.1l1-1.9l1-1l1-1l1-1.8l1,2.7l1,.7l1-1l1,.2l1,1.2l1-2.6l1,1.8l1,.3l1-.2l1,.2l1-1.1l1-1.1l1,1.2l1,1l1,1.3l1-1.3l1,.7l1,2.4l1-2.8l1-1.3l1,0l1,.8l1,3l1,1.5l1-.8l1,.1l1-3.1l1,2.1l1,1.3l1-2.3l1,3.6l1-2.9l1,.2l1,.6l1,.9l1-1.7l1,1.5l1-7.8l1,.4l1,1.3l1-.7l1-.8l1-1.4l1,.8l1,.9l1-1.6l1,2.1l1,2.9l1-1.7l1,.7l1-3.1l1-8.7l1,0l1-1.4l1,2.5l1-6l1,2.5l1-.9l1,.5l1-2.4l1,4.4l1-1.1l1-3.1l1,4.1l1-.8l1-.1l1-1.5l1-.6l1,1.1l1,0l1-2.6l1,0l1,3.8l1-.6l1-2l1,2l1-1.4l1,2.1l1-4.7l1,3.1l1,2l1-2.8l1,2.7l1-1.9l1,.8l1-.7l1,2.1l1-.2l1-1.6l1,1.3l1-.7l1,.1l1,3.8l1-3.3l1,1.6l1-.9l1,5.8l1-3.2l1,.1l1-.5l1,3.3l1-1.5l1,.2l1,.7l1,.7l1-92.9l1,.8l1,1.1l1,.3l1-1.8l1,3.9l1-1l1.1-2.5l1-.1l1-1.3l1,1.5l1,.7l1-.9l1,1l1,.5l1-.5l1,.3l1-.9l1,.8l1-.8l1,.5l1,2.1l1-2.6l1-1.4l1,2.4l1-.2l1-2.3l1,.8l1,2l1-.3l1-.7l1,2l1-3.8l1,3.5l1,1.2l1-4.1l1,1.8l1-1.6l1,1.3l1-1.6l1-.3l1-1l1,2.7l1-1.8l1,.6l1,2.3l1-1.3l1,.8l1-4.7l1,1.3l1-.7l1,3.6l1,1.5l1-5.4l1,2.5l1-1.1l1-2.5l1,2l1-.3l1,.9l1-.5l1,.7l1,.3l1,1.2l1-2l1,.1l1-2.9l1,.1l1,2.1l1,.4l1-1.3l1,.1l1-1.6l1,1.8l1-2.5l1,3.5l1,0l1-1.2l1-1.2l1,2.2l1,15.6l1,2l1-1.2l1-2.8l1-.8l1,2.3l1-1.4l1,1.5l1-.2l1,2.6l1,1.1l1-17.8l1,1.5l1,1.4l1-14.8l1,.3l1-1.4l1-.7l1,.8l1-1.1l1,1.8l1,.4l1-4.7l1,3l1-1.3l1-3l1,.4l1-1.3l1,3.2l1-2.1l1,4.8l1-2.4l1-1.8l1,1.5" fill="none" stroke="#E5AC0E" stroke-width="1.6" stroke-linejoin="round"/>
<path d="M68.5,353.4l1-1.2l1-.2l1,3.7l1-2.7l1,1.3l1,.9l1-3.2l1,.4l1,3.9l1-2.5l1,1.7l1-2.1l1,2.6l1-2.9l1,1.1l1-2.6l1,.6l1,1.6l1-.1l1,2.6l1-2.2l1,2.3l1-4.3l1,1.7l1,1.1l1-.8l1,4.5l1-3.3l1,1.3l1-1.7l1-2.1l1,1.2l1,2.2l1-2l1-1.3l1,1.2l1,1.3l1,.5l1-1.7l1-1l1,1.7l1-1l1,.1l1-.6l1,4.5l1-5.3l1,1l1,3.5l1-2.6l1,3.9l1-5.5l1,1l1,2l1,.7l1-.7l1,1.9l1-3.9l1,1.9l1-2.4l1,2.5l1-1.2l1-1.3l1,0l1,.9l1,1.5l1,.7l1-.6l1-5.2l1,2.9l1,1.2l1-2.3l1-3l1,.6l1,5.8l1-2.9l1-.1l1,.6l1,1.2l1-3l1,2.2l1,1.8l1-.3l1-1.1l1-1.1l1,2.7l1-2l1,1.2l1-2.9l1,2.1l1-2.2l1,2.4l1,.6l1-3.3l1,3.9l1-.5l1-2.3l1,1l1,2.1l1-2.3l1-3l1,3.7l1-2.9l1,1.1l1-1.5l1-1.1l1,3.4l1.1-6.4l1,.5l1-.8l1,2.9l1-1.8l1,2.5l1-1.4l1,.1l1-1.2l1,1.9l1-1.7l1,.3l1-3l1,3.5l1,.2l1-1.3l1,2.5l1,.1l1,.2l1,.2l1-3.3l1,3.9l1-1.4l1,0l1,9.5l1-.4l1-.6l1,1.8l1-1.1l1-1.1l1,.9l1-2.8l1,4.5l1-2.1l1-1l1,3.7l1-5.8l1-1l1,3.5l1-1.1l1,2.2l1-2.5l1,3.4l1-3l1-.4l1,3.6l1-3.2l1,1.3l1,.1l1-.8l1,3.5l1-5.1l1,.2l1,2.7l1-.5l1,.3l1,.8l1,5.5l1-.9l1-2.2l1,2.7l1-3l1,1.7l1,1.5l1-5.8l1,5.1l1-.2l1,.2l1-1.1l1,1.8l1,0l1-3.1l1,2.9l1-1.4l1,.7l1-1.1l1,2.9l1,.8l1-1.4l1,3.3l1-5.7l1,1.2l1-.1l1-.7l1,1.4l1,1.2l1-1.1l1-1.6l1-1.9l1,4.1l1-3.6l1-.2l1,2.3l1,1.7l1-.1l1-1.1l1-2.8l1,2l1-.6l1,0l1,.7l1-2.7l1,5.7l1-1.8l1-1.5l1-1.1l1,2l1,2.1l1-4.1l1,.1l1,1.9l1,.2l1-1l1,1.1l1-1.1l1,.9l1-2.6l1-1.5l1,3.3l1,0l1-.5l1,1.7l1-.5l1-3.1l1,2.2l1-2.1l1,1.2l1,1.2l1,.1l1-1.6l1,3.8l1-1.8l1-1.1l1,.5l1,1.2l1,.1l1,1.2l1-1.6l1-.3l1-1l1,1l1-.2l1,1.5l1-3.5l1,2.6l1-.7l1,1.8l1-.6l1,.1l1-1.3l1,1.2l1,.6l1,.9l1-2.5l1-1.3l1,1l1,.7l1-2.6l1,2.9l1,1l1-.6l1,2l1-2.7l1-1.4l1-1.6l1-.8l1,2.5l1-.5l1-.4l1-2.3l1,1.3l1,1.3l1-.1l1-1.5l1-1.7l1,.6l1,3.8l1-2.3l1,15.1l1,1l1-1.3l1-3.4l1,4.1l1,.2l1,.8l1-2.1l1,1.9l1-2.2l1,1.9l1-2.3l1,2.7l1-1.6l1-2.6l1,3.4l1-.1l1-.5l1-2.7l1,.6l1-4.7l1,.6l1,4.8l1-4.3l1,.4l1,1.3l1-2.9l1,3.6l1,.6l1-3.5l1,1.6l1-1.4l1,3.9l1-2l1,.8l1-2.4l1.1,1.3l1,.8l1,.1l1,1.3l1-3.4l1,6.8l1,.1l1-3l1-6.7l1,6.1l1-1.6l1,1.6l1-3.4l1,1.6l1,1.6l1-1.2l1,2.4l1,1.6l1-3.2l1,1.3l1,.4l1-.7l1,.7l1-1.8l1,2l1-1.5l1,.5l1,2.2l1-.8l1-3.5l1,2.5l1,.1l1,1.1l1-.3l1-1.9l1-.7l1,2.4l1-5.4l1,6.8l1,.7l1-1.1l1,.2l1,.9l1,.1l1-1.6l1,2.5l1,.8l1-1.3l1,2.3l1-4.5l1,1.1l1,.7l1,1.6l1-4.1l1,1.3l1,2.2l1-.7l1-.6l1-.3l1,1.3l1,1.3l1-3.3l1,3l1-.5l1-2.5l1-.4l1,2.7l1-.3l1,.3l1-1.1l1-2.2l1,1l1,6.7l1-4.3l1-1.2l1-2.1l1,3.8l1-2.1l1,2.6l1,1.3l1-62.8l1,46.7l1,.2l1,1.2l1-1.1l1,.3l1-2.5l1,.4l1-1.6l1,1.1l1,1.9l1-1.9l1,1.3l1-1.1l1,1.7l1-2.8l1,1.1l1-.8l1,3.5l1-1l1-1.8l1,.3l1-.8l1-.1l1,1.3l1-1.5l1,1.1l1,.6l1-1.5l1,.2l1,1.3l1,1.1l1-3.7l1-1.1l1-.3l1,1.9l1-.2l1,.7l1-1.8l1,1.3l1-.9l1,1.2l1,.8l1,1.8l1-2.9l1-.5l1-.5l1,4.4l1-4.8l1,.9l1,3.1l1-4.2l1-1l1,4.1l1-3l1,1.3l1,.7l1,.1l1-3l1,2.3l1-1.4l1,3.4l1-1.9l1,.7l1-2l1,.1l1,2.1l1-1.2l1,.1l1,.2l1-.9l1,.8l1-.9l1,2.8l1-.9l1-.5l1-.4l1,1l1,.2l1,1.2l1-2.2l1,1.3l1-3.1l1,3.5l1-1.3l1,1l1,.3l1,.4l1-4.7l1,2.1l1,.6l1,.3l1-.8l1-.3l1-2.2l1,.8l1-.6l1-19.9l1-1.6l1-1.5l1-2.4l1,2l1,2.9l1-.5l1,0l1-4.2l1,2.4l1,.8l1,2.5l1-4l1,2.4l1,0l1,.4l1-.9l1,2.6l1-.4l1-2.8l1-1.7l1,2.2l1-12l1,.3l1,1.7l1-1.1l1,.7l1,2.1l1-1l1-1.3l1,1.7l1-17.5l1,14.7l1-1.2l1,2l1-1.7l1.1,1l1,.7l1,2.7l1-2l1,12.4l1-1.2l1,.9l1,.8l1-.2l1-1.2l1,.4l1-.1l1,.1l1,1.8l1-1l1,.1l1-.6l1-1.5l1,.9l1-.3l1,1.4l1,2.9l1,1.2l1,0l1-.6l1,.7l1-1.5l1,.4l1-.6l1,1l1,0l1,2.3l1-6.4l1,4.8l1-2.2l1,1.8l1,.5l1,.1l1-3.1l1,2.1l1,1.7l1-3.6l1,3l1-2l1-1.5l1,4.1l1-1.5l1,.2l1-2.3l1-.6l1,2.7l1-1.5l1-1l1,.7l1-.9l1,.4l1,2.6l1-.8l1,1.4l1-2.3l1,1.9l1-.5l1-.5l1,1l1-2.9l1,0l1,2.3l1,.1l1,.5l1-.3l1-.4l1-2.6l1,4.1l1-4.8l1,1.4l1,4.1l1-1.8l1-.6l1-.2l1-.3l1-1.7l1,3.1l1-3.4l1,0l1,.5l1-.2l1,.2l1,2.5l1-4.9l1,2.9l1,.5l1,.3l1,1.7l1-3l1,1.2l1,.4l1-1.6l1,.5l1,1.8l1-1.3l1-1.4l1,4.4l1-1.1l1-3.7l1,1.1l1,.2l1,1.1l1-1.4l1,1.3l1-4.7l1,4.7l1-2.4l1,12l1,3.6l1-1.8l1-2l1,1.5l1,.2l1-.5l1,.1l1-2.6l1,2.7l1,1.3l1-2.9l1-1l1,2.2l1-2.4l1,1.4l1,.4l1-2.6l1,2.9l1,.8l1-3l1,1.6l1-.2l1,.1l1-1.4l1-2.7l1,2.1l1-2l1,1.2l1,.9l1-2.3l1,1.9l1-.6l1-.6l1,1.2l1-1.4l1,3.4l1-3.9l1,1.1l1-3.1l1,1.8l1,.6l1-.8l1-1.7l1,2.4l1-2.1l1-2l1-.3l1,1.6l1-.4l1,0l1-3.9l1,4.1l1,.8l1-1.5l1-.6l1-.5l1,3.4l1-1.8l1-.7l1,1.3l1-1.4l1,.7l1-2.6l1,1.2l1-2.4l1,3.1l1-1.1l1,.4l1,.7l1-.5l1-3.6l1-2.6l1,5.5l1-2.5l1-149.6l1,4.5l1,1.9l1-.9l1,.6l1-.9l1,.4l1,1.5l1-4.1l1,4.4l1-5.4l1-.1l1-1.7l1,4.4l1-2.6l1,2.1l1,3.4l1-4.9l1,1.9l1-.3l1,0l1,1.2l1,.7l1-2.3l1-.5l1-.1l1,3.5l1.1,149l1-1.1l1,.8l1-.1l1-1.2l1,1.6l1-.3l1-1.9l1,5.1l1-3.9l1-2.3l1,5.9l1-4.1l1,4.2l1-3.5l1,0l1-.8l1,1.7l1-2.2l1,.1l1,4.3l1-2.1l1,.6l1-2.1l1,3.8l1-4.1l1,.5l1,.5l1,.2l1-1.8l1,2.5l1,.4l1-3.5l1,3.6l1,2.7l1-3.8l1,0l1-.5l1,3.4l1-1.1l1-.2l1,.7l1,2.8l1-5.3l1,2.3l1,.3l1-3.4l1,1.2l1,.7l1-1.8l1,.5l1-3.1l1,5l1-2.6l1,.7l1,.8l1-1.3l1,.4l1,.4l1-1.8l1,3l1-1l1-1.4l1,1.5l1-1.1l1-1.2l1,.1l1,3.7l1-1.4l1-1.9l1,1.6l1-2.3l1,.3l1,1.6l1,.3l1-.6l1-.6l1,2.7l1-2.3l1-.3l1-1l1-.4l1,.9l1,2.2l1-2.5l1,.2l1-2.1l1,3.9l1-2.6l1-.2l1,.8l1,1.6l1,.5l1,1.1l1-2.5l1,.9l1-4.2l1,7.1l1-2.7l1-1l1-1.3l1-1.4l1,1.6l1,.9l1,.2l1-.4l1,1.3l1-2.6l1,1.7l1,1.1l1-.4l1-.4l1-1.5l1,0l1,.6l1,1l1,.8l1-.5l1,.5l1,2.6l1-2.1l1-2.6l1,.6l1,.1l1,2.8l1,2.2l1-1.2l1,1.4l1-3.8l1,2.3l1,.8l1-2.1l1,4.3l1-4.3l1,1l1,.6l1,.6l1-2.3l1,3l1-8.5l1,.9l1,1l1-1.6l1-1.1l1-1l1,.6l1,1.3l1-1.2l1,2l1,1.5l1-.7l1,.7l1-10.4l1-9l1,7.9l1,0l1,1.3l1-5.3l1,1.6l1-.9l1,.5l1-3.5l1,4.7l1-.3l1-2.3l1,3.6l1-1l1-.9l1,.1l1-1.1l1-.1l1,1.1l1-2.6l1-.1l1,3.4l1,.2l1-1.9l1,1.4l1-1.2l1,1.3l1-4.3l1,3.7l1,1.1l1-2.8l1,2.9l1-1.4l1,1.3l1-.5l1,.9l1-.4l1-.8l1,.9l1-.9l1,.4l1,4.1l1-3.5l1,.9l1-1.1l1,6.5l1-2.8l1-.5l1-.7l1,4.3l1-1.5l1,.3l1,.6l1,.3l1-93.5l1,.3l1,2.7l1,0l1-2.3l1,4.3l1-1.2l1.1-3.1l1,.5l1-1.4l1,2.5l1,.1l1-.9l1,1.4l1,.1l1-1.1l1,.8l1-1.2l1,1.7l1-1l1-.7l1,2.6l1-2.2l1-2l1,2.4l1-.9l1-1l1,1.4l1,.7l1,0l1-.4l1,1.9l1-4l1,3l1,1.3l1-4.3l1,2.7l1-1.1l1,1.9l1-3.1l1-.3l1-.5l1,3.2l1-2l1,.2l1,3.3l1-3.6l1,1.6l1-4.5l1,.9l1,.2l1,4.2l1,0l1-4.5l1,2.3l1-1.7l1-2.1l1,2.6l1,0l1-.4l1-.7l1,.9l1,.8l1,1.4l1-3.2l1,1.3l1-2.9l1-.2l1,2.1l1,.3l1-1.3l1-.5l1-.1l1,1.3l1-2.3l1,2.3l1,.1l1,0l1-1.4l1,2.9l1,14l1,3l1-1l1-3.3l1-.6l1,1l1-.7l1,1.5l1,.2l1,2.5l1,1.6l1-19.5l1,2.2l1,1.6l1-22.7l1-.1l1,7.2l1-1.2l1,2.2l1-2.5l1,2.9l1,.4l1-5l1,2l1-1l1-2.5l1,.9l1-1.6l1,2.1l1-9.1l1,4.1l1,6.1l1-2.1l1,2.1" fill="none" stroke="#BF1B00" stroke-width="2.0" stroke-linejoin="round"/>
<path d="M790.8,408.3l1,.9l1,.6l1-.8l1-.6l1,.4l1,.6l1,.4l1,0l1-1l1-.6l1-.8l1,1.2l1-.4l1-.5l1,.1l1,.2l1-.3l1,.9l1-.4l1-.5l1,.5l1-.9l1,.8l1-.3" fill="none" stroke="#E5AC0E" stroke-width="2.2"/></svg>
<span class="t" style="left:15.45px;top:120.07px;font-size:14.80px;color:#d0d1d2;">2.5 kW</span>
<span class="t" style="left:15.45px;top:208.37px;font-size:14.80px;color:#d0d1d2;">2.0 kW</span>
<span class="t" style="left:15.45px;top:296.67px;font-size:14.80px;color:#d0d1d2;">1.5 kW</span>
<span class="t" style="left:15.45px;top:384.97px;font-size:14.80px;color:#d0d1d2;">1.0 kW</span>
<span class="t" style="left:18.73px;top:473.27px;font-size:14.80px;color:#d0d1d2;">500 W</span>
<span class="t" style="left:35.19px;top:561.57px;font-size:14.80px;color:#d0d1d2;">0 W</span>
<span class="t" style="left:119.23px;top:578.30px;font-size:15.00px;color:#d0d1d2;">03:35</span>
<span class="t" style="left:208.43px;top:578.30px;font-size:15.00px;color:#d0d1d2;">03:40</span>
<span class="t" style="left:297.63px;top:578.30px;font-size:15.00px;color:#d0d1d2;">03:45</span>
<span class="t" style="left:386.83px;top:578.30px;font-size:15.00px;color:#d0d1d2;">03:50</span>
<span class="t" style="left:476.03px;top:578.30px;font-size:15.00px;color:#d0d1d2;">03:55</span>
<span class="t" style="left:565.23px;top:578.30px;font-size:15.00px;color:#d0d1d2;">04:00</span>
<span class="t" style="left:654.43px;top:578.30px;font-size:15.00px;color:#d0d1d2;">04:05</span>
<span class="t" style="left:743.63px;top:578.30px;font-size:15.00px;color:#d0d1d2;">04:10</span>
<span class="t" style="left:832.83px;top:578.30px;font-size:15.00px;color:#d0d1d2;">04:15</span>
<span class="t" style="left:922.03px;top:578.30px;font-size:15.00px;color:#d0d1d2;">04:20</span>
<span class="t" style="left:1011.23px;top:578.30px;font-size:15.00px;color:#d0d1d2;">04:25</span>
<span class="t" style="left:1100.43px;top:578.30px;font-size:15.00px;color:#d0d1d2;">04:30</span>
<div class="r" style="left:1160px;top:120px;width:312px;height:479.5px;overflow:hidden;">
<div class="r" style="left:6.0px;top:3.0px;width:303.0px;height:30.7px;background:#262629;"></div>
<div class="r" style="left:19.0px;top:18.2px;width:17.0px;height:5.0px;background:#7EB26D;border-radius:1.5px;"></div>
<span class="t" style="left:45.30px;top:10.10px;font-size:15.00px;color:#d8d9da;transform:scaleX(1.0424);">Bathroom outlets</span>
<div class="r" style="left:19.0px;top:49.2px;width:17.0px;height:5.0px;background:#EAB839;border-radius:1.5px;"></div>
<span class="t" style="left:45.30px;top:41.10px;font-size:15.00px;color:#d8d9da;transform:scaleX(1.0366);">Bedrooms outlets</span>
<div class="r" style="left:6.0px;top:65.0px;width:303.0px;height:30.7px;background:#262629;"></div>
<div class="r" style="left:19.0px;top:80.2px;width:17.0px;height:5.0px;background:#6ED0E0;border-radius:1.5px;"></div>
<span class="t" style="left:45.30px;top:72.10px;font-size:15.00px;color:#d8d9da;transform:scaleX(1.0251);">Bonus outlets 2</span>
<div class="r" style="left:19.0px;top:111.2px;width:17.0px;height:5.0px;background:#EF843C;border-radius:1.5px;"></div>
<span class="t" style="left:45.30px;top:103.10px;font-size:15.00px;color:#d8d9da;transform:scaleX(1.0578);">Bonus outlets/lights</span>
<div class="r" style="left:6.0px;top:127.0px;width:303.0px;height:30.7px;background:#262629;"></div>
<div class="r" style="left:19.0px;top:142.2px;width:17.0px;height:5.0px;background:#E24D42;border-radius:1.5px;"></div>
<span class="t" style="left:45.30px;top:134.10px;font-size:15.00px;color:#d8d9da;transform:scaleX(0.9655);">Dryer</span>
<div class="r" style="left:19.0px;top:173.2px;width:17.0px;height:5.0px;background:#1F78C1;border-radius:1.5px;"></div>
<span class="t" style="left:45.30px;top:165.10px;font-size:15.00px;color:#d8d9da;transform:scaleX(1.0468);">Garage closet/freezer/lights</span>
<div class="r" style="left:6.0px;top:189.0px;width:303.0px;height:30.7px;background:#262629;"></div>
<div class="r" style="left:19.0px;top:204.2px;width:17.0px;height:5.0px;background:#BA43A9;border-radius:1.5px;"></div>
<span class="t" style="left:45.30px;top:196.10px;font-size:15.00px;color:#d8d9da;transform:scaleX(1.0401);">Garage walls/outside outlets</span>
<div class="r" style="left:19.0px;top:235.2px;width:17.0px;height:5.0px;background:#705DA0;border-radius:1.5px;"></div>
<span class="t" style="left:45.30px;top:227.10px;font-size:15.00px;color:#d8d9da;transform:scaleX(0.9876);">Generator</span>
<div class="r" style="left:6.0px;top:251.0px;width:303.0px;height:30.7px;background:#262629;"></div>
<div class="r" style="left:19.0px;top:266.2px;width:17.0px;height:5.0px;background:#508642;border-radius:1.5px;"></div>
<span class="t" style="left:45.30px;top:258.10px;font-size:15.00px;color:#d8d9da;">House HVAC</span>
<div class="r" style="left:19.0px;top:297.2px;width:17.0px;height:5.0px;background:#CCA300;border-radius:1.5px;"></div>
<span class="t" style="left:45.30px;top:289.10px;font-size:15.00px;color:#d8d9da;transform:scaleX(1.0378);">Kitchen counter west outlets</span>
<div class="r" style="left:6.0px;top:313.0px;width:303.0px;height:30.7px;background:#262629;"></div>
<div class="r" style="left:19.0px;top:328.2px;width:17.0px;height:5.0px;background:#447EBC;border-radius:1.5px;"></div>
<span class="t" style="left:45.30px;top:320.10px;font-size:15.00px;color:#d8d9da;transform:scaleX(1.0350);">Kitchen sink outlet</span>
<div class="r" style="left:19.0px;top:359.2px;width:17.0px;height:5.0px;background:#C15C17;border-radius:1.5px;"></div>
<span class="t" style="left:45.30px;top:351.10px;font-size:15.00px;color:#d8d9da;transform:scaleX(1.0276);">Laundry outlets</span>
<div class="r" style="left:6.0px;top:375.0px;width:303.0px;height:30.7px;background:#262629;"></div>
<div class="r" style="left:19.0px;top:390.2px;width:17.0px;height:5.0px;background:#890F02;border-radius:1.5px;"></div>
<span class="t" style="left:45.30px;top:382.10px;font-size:15.00px;color:#d8d9da;transform:scaleX(1.0348);">Living outlets</span>
<div class="r" style="left:19.0px;top:421.2px;width:17.0px;height:5.0px;background:#0A437C;border-radius:1.5px;"></div>
<span class="t" style="left:45.30px;top:413.10px;font-size:15.00px;color:#d8d9da;transform:scaleX(1.0464);">Main (total)</span>
<div class="r" style="left:6.0px;top:437.0px;width:303.0px;height:30.7px;background:#262629;"></div>
<div class="r" style="left:19.0px;top:452.2px;width:17.0px;height:5.0px;background:#6D1F62;border-radius:1.5px;"></div>
<span class="t" style="left:45.30px;top:444.10px;font-size:15.00px;color:#d8d9da;transform:scaleX(1.0517);">Master/peninsula outlets</span>
<div class="r" style="left:19.0px;top:483.2px;width:17.0px;height:5.0px;background:#584477;border-radius:1.5px;"></div>
<span class="t" style="left:45.30px;top:475.10px;font-size:15.00px;color:#d8d9da;transform:scaleX(1.0918);">Microwave/kitchen east outlets</span>
</div>
<div class="r" style="left:0.0px;top:612.0px;width:92.0px;height:618.0px;background:transparent;background:linear-gradient(90deg,rgba(11,12,14,.12) 0,rgba(11,12,14,.4) 100%);-webkit-mask-image:linear-gradient(180deg,transparent 0,#000 60px);"></div>
<div class="r" style="left:91.0px;top:645.0px;width:1381.0px;height:585.0px;background:#0b0c0e;box-shadow:0 0 38px 5px rgba(9,10,12,.95);"></div>
<span class="t" style="left:118.00px;top:661.72px;font-size:22.30px;color:#d8d9da;transform:scaleX(0.9765);">Query</span>
<div class="r" style="left:204.0px;top:651.0px;width:259.5px;height:44.5px;background:#0b0c0e;border:1px solid #2b2c30;box-sizing:border-box;border-radius:2px;"></div>
<svg class="r" style="left:217.50px;top:661.00px;" width="22.50" height="22.50" viewBox="0 0 22.5 22.5"><path d="M8.2,1.3L18.6,3.6L21.4,13.2L14.4,21L3.8,18.4L1.2,8.6Z" fill="none" stroke="#3c8be0" stroke-width="1.7" stroke-linejoin="round"/><path d="M8.2,1.3L14.2,8.4L18.6,3.6M14.2,8.4L21.4,13.2M14.2,8.4L9.4,14.6L14.4,21M9.4,14.6L3.8,18.4M9.4,14.6L1.2,8.6M8.2,1.3L9.4,14.6" fill="none" stroke="#3c8be0" stroke-width=".9" stroke-linejoin="round"/></svg>
<span class="t" style="left:252.00px;top:664.39px;font-size:17.50px;color:#d8d9da;transform:scaleX(1.0223);">Energy Monitor (Flux)</span>
<svg class="r" style="left:438.80px;top:670.00px;" width="10.50" height="6.00" viewBox="0 0 10.5 6"><path d="M0,0H10.5L5.25,6Z" fill="#d8d9da"/></svg>
<div class="r" style="left:1149.0px;top:653.0px;width:108.0px;height:41.0px;background:#2b2b2e;background:linear-gradient(180deg,#2a2a2d,#2f2f32);border-radius:3px;box-shadow:inset 0 0 0 1px rgba(255,255,255,.035);"></div>
<div class="r" style="left:1263.0px;top:653.0px;width:152.0px;height:41.0px;background:#2b2b2e;background:linear-gradient(180deg,#2a2a2d,#2f2f32);border-radius:3px;box-shadow:inset 0 0 0 1px rgba(255,255,255,.035);"></div>
<div class="r" style="left:1420.0px;top:653.0px;width:35.0px;height:41.0px;background:#2b2b2e;background:linear-gradient(180deg,#2a2a2d,#2f2f32);border-radius:3px;box-shadow:inset 0 0 0 1px rgba(255,255,255,.035);"></div>
<span class="t" style="left:1161.00px;top:664.99px;font-size:17.50px;color:#9c9d9e;-webkit-text-stroke:0.45px #9c9d9e;transform:scaleX(1.0101);">Add Query</span>
<span class="t" style="left:1274.50px;top:664.99px;font-size:17.50px;color:#9c9d9e;-webkit-text-stroke:0.45px #9c9d9e;transform:scaleX(1.0321);">Query Inspector</span>
<span class="t" style="left:1431.80px;top:662.98px;font-size:22.00px;color:#98999a;font-weight:bold;-webkit-text-stroke:0.4px #98999a;">?</span>
<div class="r" style="left:111.0px;top:748.0px;width:1351.0px;height:45.5px;background:#17181b;border-radius:2px;"></div>
<svg class="r" style="left:120.50px;top:766.00px;" width="10.50" height="6.40" viewBox="0 0 10.5 6.4"><path d="M0,0H10.5L5.25,6.4Z" fill="#9fa1a3"/></svg>
<span class="t" style="left:137.50px;top:762.39px;font-size:17.50px;color:#33b5e5;-webkit-text-stroke:0.25px #33b5e5;transform:scaleX(0.9852);">A</span>
<svg class="r" style="left:1262.00px;top:760.70px;" width="18.00" height="18.00" viewBox="0 0 18 18"><path d="M9,2.4V13.6M3,8.4L9,14.4L15,8.4" fill="none" stroke="#959697" stroke-width="3.5" stroke-linejoin="miter" stroke-linecap="round"/></svg>
<svg class="r" style="left:1305.30px;top:760.60px;" width="18.00" height="18.00" viewBox="0 0 18 18"><path d="M9,15.6V4.4M3,9.6L9,3.6L15,9.6" fill="none" stroke="#959697" stroke-width="3.5" stroke-linejoin="miter" stroke-linecap="round"/></svg>
<svg class="r" style="left:1347.00px;top:759.50px;" width="20.00" height="20.00" viewBox="0 0 20 20"><path d="M5,1H13V15.2H1V5Z M5,1V5H1" fill="none" stroke="#959697" stroke-width="1.5" stroke-linejoin="round"/><path d="M11.6,5.1H19.3V18.9H7.6V9.1Z M11.6,5.100V9.1H7.6" fill="#17181b" stroke="#959697" stroke-width="1.5" stroke-linejoin="round"/></svg>
<svg class="r" style="left:1390.80px;top:763.00px;" width="18.40" height="14.00" viewBox="0 0 20 15.2"><path d="M1,7.6C4,2.6 7,1.4 10,1.4C13,1.4 16,2.6 19,7.6C16,12.4 13,13.8 10,13.8C7,13.8 4,12.4 1,7.6Z" fill="none" stroke="#959697" stroke-width="1.8"/><circle cx="10" cy="6.8" r="4.3" fill="#959697"/><path d="M10,3.5A3,3 0 0 0 7.3,6.4" fill="none" stroke="#17181b" stroke-width="1.2"/></svg>
<svg class="r" style="left:1435.30px;top:761.60px;" width="15.40" height="16.40" viewBox="0 0 16 17"><path d="M2.3,4.6H13.7V14.4A1.8,1.8 0 0 1 11.9,16.2H4.1A1.8,1.8 0 0 1 2.3,14.4Z" fill="#959697"/><path d="M0.6,3.3H15.4" stroke="#959697" stroke-width="1.7"/><path d="M5.2,3.2V1.2H10.8V3.2" fill="none" stroke="#959697" stroke-width="1.5"/><path d="M5.4,6.6V14.2M8,6.6V14.2M10.6,6.6V14.2" stroke="#17181b" stroke-width="1.1"/></svg>
<div class="r" style="left:164.0px;top:796.5px;width:640.0px;height:252.0px;background:#09090b;border:1px solid #232428;box-sizing:border-box;border-radius:2px;"></div>
<div class="r" style="left:805.5px;top:796.5px;width:655.0px;height:252.0px;background:#262628;border-radius:3px;box-shadow:inset 0 1px 2px rgba(0,0,0,.25);"></div>
<svg class="r" style="left:1446.00px;top:1034.00px;" width="12.00" height="12.00" viewBox="0 0 12 12"><path d="M11,2L2,11M11,7L7,11" stroke="#b0b1b3" stroke-width="1.1"/></svg>
<pre class="code" style="left:174.6px;top:828.7px;"><span class="g">from</span><span class="l">(</span><span class="k">bucket</span><span class="l">:</span> <span class="s">"emon"</span><span class="l">)</span>
  <span class="p">|&gt;</span> <span class="g">range</span><span class="l">(</span>$range<span class="l">)</span>
  <span class="p">|&gt;</span> <span class="g">filter</span><span class="l">(</span><span class="k">fn</span><span class="l">:</span> <span class="l">(</span>r<span class="l">)</span> <span class="p">=&gt;</span> r<span class="d">.</span>_field <span class="p">==</span> <span class="s">"w"</span><span class="d">)</span>
  <span class="p">|&gt;</span> <span class="g">window</span><span class="l">(</span><span class="k">every</span><span class="l">:</span> $__interval<span class="l">)</span>
  <span class="p">|&gt;</span> <span class="g">mean</span><span class="l">()</span>
  <span class="p">|&gt;</span> <span class="g">map</span><span class="l">(</span><span class="k">fn</span><span class="l">:</span> <span class="l">(</span>r<span class="l">)</span> <span class="p">=&gt;</span> <span class="d">({</span> <span class="s">"_field"</span><span class="d">:</span> r<span class="d">.</span>name<span class="d">,</span> <span class="s">"_start"</span><span class="d">:</span>
r<span class="d">.</span>_start<span class="d">,</span> <span class="s">"_stop"</span><span class="d">:</span> r<span class="d">.</span>_stop<span class="d">,</span> <span class="s">"_value"</span><span class="d">:</span> r<span class="d">.</span>_value<span class="d">}))</span>
  <span class="p">|&gt;</span> <span class="g">group</span><span class="l">(</span><span class="k">columns</span><span class="l">:</span> <span class="l">[</span><span class="s">"_field"</span><span class="l">])</span>
  <span class="p">|&gt;</span> <span class="g">yield</span><span class="l">()</span></pre>
<div class="r" style="left:164.0px;top:1052.0px;width:1297.0px;height:45.5px;background:#131416;"></div>
<div class="r" style="left:164.0px;top:1052.5px;width:106.0px;height:44.0px;background:#202226;border-radius:2px;"></div>
<span class="t" style="left:174.50px;top:1066.09px;font-size:15.60px;color:#33b5e5;-webkit-text-stroke:0.2px #33b5e5;transform:scaleX(0.9583);">FORMAT AS</span>
<div class="r" style="left:272.5px;top:1052.5px;width:148.0px;height:44.0px;background:#09090b;border:1px solid #232428;box-sizing:border-box;border-radius:2px;"></div>
<svg class="r" style="left:400.00px;top:1071.30px;" width="10.00" height="5.60" viewBox="0 0 10 5.6"><path d="M0,0H10L5,5.6Z" fill="#d8d9da"/></svg>
<div class="r" style="left:426.0px;top:1052.5px;width:113.0px;height:44.0px;background:#202226;border-radius:2px;"></div>
<span class="t" style="left:438.00px;top:1066.09px;font-size:15.60px;color:#d8d9da;-webkit-text-stroke:0.25px #d8d9da;transform:scaleX(1.0035);">Result tables</span>
<div class="r" style="left:541.5px;top:1052.5px;width:247.0px;height:44.0px;background:#242529;border-radius:2px;"></div>
<div class="r" style="left:791.0px;top:1052.5px;width:123.0px;height:44.0px;background:#202226;border-radius:2px;"></div>
<span class="t" style="left:803.50px;top:1066.09px;font-size:15.60px;color:#d8d9da;-webkit-text-stroke:0.25px #d8d9da;transform:scaleX(0.9943);">Result records</span>
<div class="r" style="left:917.0px;top:1052.5px;width:246.5px;height:44.0px;background:#242529;border-radius:2px;"></div>
<div class="r" style="left:1167.0px;top:1052.5px;width:293.0px;height:44.0px;background:#242529;border-radius:2px;"></div>
<div class="r" style="left:111.0px;top:1126.0px;width:1351.0px;height:100.0px;background:#17181a;border-radius:3px;"></div>
<div class="r" style="left:137.0px;top:1152.5px;width:177.5px;height:44.0px;background:#202226;border-radius:2px 0 0 2px;"></div>
<span class="t" style="left:148.50px;top:1166.79px;font-size:15.60px;color:#d8d9da;-webkit-text-stroke:0.25px #d8d9da;transform:scaleX(1.0302);">Min time interval</span>
<svg class="r" style="left:289.50px;top:1167.50px;" width="13.00" height="13.00" viewBox="0 0 13 13"><circle cx="6.5" cy="6.5" r="6.2" fill="#c9cacc"/><rect x="5.5" y="5.4" width="2.2" height="4.6" fill="#202226"/><rect x="4.7" y="5.4" width="2" height="1.1" fill="#202226"/><rect x="4.6" y="9.2" width="4" height="1.1" fill="#202226"/><rect x="5.4" y="2.4" width="2.3" height="2" fill="#202226"/></svg>
<div class="r" style="left:314.5px;top:1152.5px;width:102.0px;height:44.0px;background:#09090b;border:1px solid #232428;box-sizing:border-box;border-radius:0 2px 2px 0;"></div>
<span class="t" style="left:325.50px;top:1166.19px;font-size:17.50px;color:#45474c;transform:scaleX(0.9761);">0</span>
<div class="r" style="left:423.0px;top:1152.5px;width:177.5px;height:44.0px;background:#202226;border-radius:2px 0 0 2px;"></div>
<span class="t" style="left:434.50px;top:1166.79px;font-size:15.60px;color:#d8d9da;-webkit-text-stroke:0.25px #d8d9da;transform:scaleX(1.0037);">Relative time</span>
<div class="r" style="left:600.5px;top:1152.5px;width:102.0px;height:44.0px;background:#09090b;border:1px solid #232428;box-sizing:border-box;border-radius:0 2px 2px 0;"></div>
<span class="t" style="left:612.00px;top:1166.19px;font-size:17.50px;color:#45474c;transform:scaleX(0.9504);">1h</span>
<div class="r" style="left:709.0px;top:1152.5px;width:93.5px;height:44.0px;background:#202226;border-radius:2px 0 0 2px;"></div>
<span class="t" style="left:720.50px;top:1166.79px;font-size:15.60px;color:#d8d9da;-webkit-text-stroke:0.25px #d8d9da;transform:scaleX(1.0517);">Time shift</span>
<div class="r" style="left:802.5px;top:1152.5px;width:102.0px;height:44.0px;background:#09090b;border:1px solid #232428;box-sizing:border-box;border-radius:0 2px 2px 0;"></div>
<span class="t" style="left:814.00px;top:1166.19px;font-size:17.50px;color:#45474c;transform:scaleX(0.9504);">1h</span>
<svg class="r" style="left:0;top:690px" width="100" height="350" viewBox="0 690 100 350"><defs><linearGradient id="og" gradientUnits="userSpaceOnUse" x1="0" y1="703" x2="0" y2="758"><stop offset="0" stop-color="#ee5a30"/><stop offset=".55" stop-color="#f58b2e"/><stop offset="1" stop-color="#f7c234"/></linearGradient></defs><path d="M36.6,758V793M36.6,848V883M36.6,938V972" stroke="#e3e3e3" stroke-width="3.5"/><path d="M36.60,702 a28.5,28.5 0 1 0 0,57 c10,0 17,-6 23,-12 l17.3,-16.6 l-17.3,-16.4 c-6,-6 -13,-12 -23,-12Z" fill="url(#og)"/><circle cx="36.6" cy="730.5" r="25.2" fill="#131417"/><g fill="url(#og)"><ellipse cx="36.3" cy="724.5" rx="15.2" ry="7.6"/><path d="M21.1,729.5c0,9 30.4,9 30.4,0v3.2c0,9.4-30.4,9.4-30.4,0Z"/><path d="M21.1,736.2c0,9 30.4,9 30.4,0v3.2c0,9.4-30.4,9.4-30.4,0Z"/></g><circle cx="36.6" cy="820.6" r="26.9" fill="#131417" stroke="#e3e3e3" stroke-width="3.4"/><circle cx="36.6" cy="910.5" r="26.9" fill="#131417" stroke="#e3e3e3" stroke-width="3.4"/><circle cx="36.6" cy="999.6" r="26.9" fill="#131417" stroke="#e3e3e3" stroke-width="3.4"/><path d="M20.6,808V831.4H53.6" fill="none" stroke="#e1e1e1" stroke-width="3.2"/><path d="M24.6,828.4V817.4L28.2,814.4L34.6,820L43.6,808.6L52,822V828.4Z" fill="#e1e1e1"/><path d="M46.92,911.31L50.75,912.72L49.53,916.47L45.61,915.36L44.07,917.48L46.34,920.87L43.14,923.19L40.62,919.98L38.13,920.79L37.97,924.87L34.03,924.87L33.87,920.79L31.38,919.98L28.86,923.19L25.66,920.87L27.93,917.48L26.39,915.36L22.47,916.47L21.25,912.72L25.08,911.31L25.08,908.69L21.25,907.28L22.47,903.53L26.39,904.64L27.93,902.52L25.66,899.13L28.86,896.81L31.38,900.02L33.87,899.21L34.03,895.13L37.97,895.13L38.13,899.21L40.62,900.02L43.14,896.81L46.34,899.13L44.07,902.52L45.61,904.64L49.53,903.53L50.75,907.28L46.92,908.69ZM29.40,910.00a6.60,6.60 0 1 0 13.20,0a6.60,6.60 0 1 0 -13.20,0Z" fill="#e1e1e1" fill-rule="evenodd" stroke="#e1e1e1" stroke-width=".6" stroke-linejoin="round"/><path d="M38.2,911.2L47.2,921.6" stroke="#131417" stroke-width="7.6" stroke-linecap="round"/><circle cx="35.6" cy="908.4" r="7" fill="#131417"/><path d="M38.2,911.2L47,921.4" stroke="#e1e1e1" stroke-width="4.4" stroke-linecap="round"/><circle cx="35.6" cy="908.4" r="5.4" fill="#e1e1e1"/><path d="M30.4,903.6L35.4,908.4" stroke="#131417" stroke-width="3.4" stroke-linecap="round"/><circle cx="46.6" cy="921" r="1" fill="#131417"/><path d="M36.4,983.4a2.2,2.2 0 0 1 2.2,2.2c5.2,1.6 7.4,6 7.4,12c0,5 1.4,8 3,9.4c1,1 .6,2.4-1,2.4h-23.2c-1.6,0-2-1.4-1-2.400c1.6-1.4 3-4.400 3-9.400c0-6 2.200-10.400 7.400-12a2.2,2.2 0 0 1 2.2,-2.200Z" fill="#e1e1e1"/><path d="M32.4,1011.6h8a4,4 0 0 1 -8,0Z" fill="#e1e1e1"/></svg>
<div class="r" style="left:647.0px;top:606.0px;width:195.0px;height:8.0px;background:#39393c;border-radius:4px;"></div>
<div class="r" style="left:660.0px;top:609.0px;width:169.0px;height:2.0px;background:transparent;background-image:repeating-linear-gradient(90deg,#58585b 0 2px,transparent 2px 4px);"></div>
</body></html>
